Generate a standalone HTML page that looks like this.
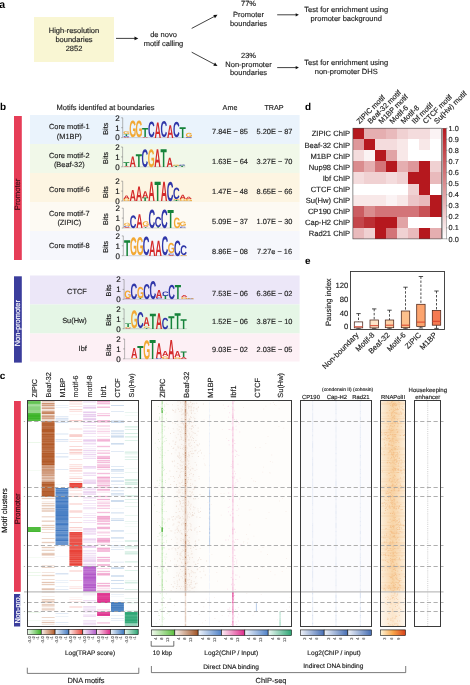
<!DOCTYPE html>
<html><head><meta charset="utf-8"><title>Figure</title>
<style>html,body{margin:0;padding:0;background:#fff;}body{width:470px;height:685px;overflow:hidden;}
svg{display:block;font-family:'Liberation Sans', Arial, sans-serif;text-rendering:geometricPrecision;}</style></head>
<body><svg width="470" height="685" viewBox="0 0 470 685">
<text x="0" y="0" font-size="100" font-weight="bold" fill="#000" transform="translate(-0.8 7.9) scale(0.1050)">a</text>
<rect x="34.00" y="17.00" width="80.00" height="45.00" fill="#f9f6d3"/>
<text x="74.00" y="32.50" font-size="7.5" text-anchor="middle" fill="#222" stroke="#222" stroke-width="0.15">High-resolution</text>
<text x="74.00" y="41.50" font-size="7.5" text-anchor="middle" fill="#222" stroke="#222" stroke-width="0.15">boundaries</text>
<text x="74.00" y="50.50" font-size="7.5" text-anchor="middle" fill="#222" stroke="#222" stroke-width="0.15">2852</text>
<line x1="116.00" y1="38.40" x2="135.00" y2="38.40" stroke="#111" stroke-width="0.8"/>
<polygon points="138.30,38.40 134.50,40.20 134.50,36.60" fill="#111"/>
<text x="163.50" y="36.50" font-size="7.5" text-anchor="middle" fill="#222" stroke="#222" stroke-width="0.15">de novo</text>
<text x="163.50" y="45.50" font-size="7.5" text-anchor="middle" fill="#222" stroke="#222" stroke-width="0.15">motif calling</text>
<line x1="191.70" y1="28.40" x2="214.58" y2="16.34" stroke="#111" stroke-width="0.8"/>
<polygon points="217.50,14.80 214.98,18.16 213.30,14.98" fill="#111"/>
<line x1="191.70" y1="52.20" x2="214.59" y2="64.35" stroke="#111" stroke-width="0.8"/>
<polygon points="217.50,65.90 213.30,65.71 214.99,62.53" fill="#111"/>
<text x="248.50" y="5.80" font-size="7.5" text-anchor="middle" fill="#222" stroke="#222" stroke-width="0.15">77%</text>
<text x="248.50" y="17.30" font-size="7.5" text-anchor="middle" fill="#222" stroke="#222" stroke-width="0.15">Promoter</text>
<text x="248.50" y="26.10" font-size="7.5" text-anchor="middle" fill="#222" stroke="#222" stroke-width="0.15">boundaries</text>
<text x="248.50" y="57.80" font-size="7.5" text-anchor="middle" fill="#222" stroke="#222" stroke-width="0.15">23%</text>
<text x="248.50" y="66.80" font-size="7.5" text-anchor="middle" fill="#222" stroke="#222" stroke-width="0.15">Non-promoter</text>
<text x="248.50" y="75.30" font-size="7.5" text-anchor="middle" fill="#222" stroke="#222" stroke-width="0.15">boundaries</text>
<line x1="277.20" y1="14.80" x2="296.20" y2="14.80" stroke="#111" stroke-width="0.8"/>
<polygon points="298.90,14.80 295.70,16.40 295.70,13.20" fill="#111"/>
<line x1="277.20" y1="67.60" x2="296.20" y2="67.60" stroke="#111" stroke-width="0.8"/>
<polygon points="298.90,67.60 295.70,69.20 295.70,66.00" fill="#111"/>
<text x="346.20" y="12.00" font-size="7.5" text-anchor="middle" fill="#222" stroke="#222" stroke-width="0.15">Test for enrichment using</text>
<text x="346.20" y="20.70" font-size="7.5" text-anchor="middle" fill="#222" stroke="#222" stroke-width="0.15">promoter background</text>
<text x="346.20" y="64.60" font-size="7.5" text-anchor="middle" fill="#222" stroke="#222" stroke-width="0.15">Test for enrichment using</text>
<text x="346.20" y="73.70" font-size="7.5" text-anchor="middle" fill="#222" stroke="#222" stroke-width="0.15">non-promoter DHS</text>
<text x="0" y="0" font-size="100" font-weight="bold" fill="#000" transform="translate(0 110.2) scale(0.1000)">b</text>
<text x="105.50" y="109.70" font-size="7.5" text-anchor="middle" fill="#222" stroke="#222" stroke-width="0.15">Motifs identifed at boundaries</text>
<text x="230.00" y="109.70" font-size="7.2" text-anchor="middle" fill="#222" stroke="#222" stroke-width="0.15">Ame</text>
<text x="274.00" y="109.70" font-size="7.2" text-anchor="middle" fill="#222" stroke="#222" stroke-width="0.15">TRAP</text>
<rect x="30.00" y="115.00" width="269.60" height="29.00" fill="#eaf3fc"/>
<text x="69.30" y="129.40" font-size="7.4" text-anchor="middle" fill="#222" stroke="#222" stroke-width="0.15">Core motif-1</text>
<text x="69.30" y="138.70" font-size="7.4" text-anchor="middle" fill="#222" stroke="#222" stroke-width="0.15">(M1BP)</text>
<text x="230.00" y="134.40" font-size="7.4" text-anchor="middle" fill="#222" stroke="#222" stroke-width="0.15">7.84E − 85</text>
<text x="274.50" y="134.40" font-size="7.4" text-anchor="middle" fill="#222" stroke="#222" stroke-width="0.15">5.20E − 87</text>
<rect x="30.00" y="144.00" width="269.60" height="29.00" fill="#f1f8e9"/>
<text x="69.30" y="158.10" font-size="7.4" text-anchor="middle" fill="#222" stroke="#222" stroke-width="0.15">Core motif-2</text>
<text x="69.30" y="167.20" font-size="7.4" text-anchor="middle" fill="#222" stroke="#222" stroke-width="0.15">(Beaf-32)</text>
<text x="230.00" y="164.00" font-size="7.4" text-anchor="middle" fill="#222" stroke="#222" stroke-width="0.15">1.63E − 64</text>
<text x="274.50" y="164.00" font-size="7.4" text-anchor="middle" fill="#222" stroke="#222" stroke-width="0.15">3.27E − 70</text>
<rect x="30.00" y="173.00" width="269.60" height="29.00" fill="#fdf5e2"/>
<text x="69.30" y="192.10" font-size="7.4" text-anchor="middle" fill="#222" stroke="#222" stroke-width="0.15">Core motif-6</text>
<text x="230.00" y="193.80" font-size="7.4" text-anchor="middle" fill="#222" stroke="#222" stroke-width="0.15">1.47E − 48</text>
<text x="274.50" y="193.80" font-size="7.4" text-anchor="middle" fill="#222" stroke="#222" stroke-width="0.15">8.65E − 66</text>
<rect x="30.00" y="202.00" width="269.60" height="29.00" fill="#fdfaf3"/>
<text x="69.30" y="216.30" font-size="7.4" text-anchor="middle" fill="#222" stroke="#222" stroke-width="0.15">Core motif-7</text>
<text x="69.30" y="225.40" font-size="7.4" text-anchor="middle" fill="#222" stroke="#222" stroke-width="0.15">(ZIPIC)</text>
<text x="230.00" y="223.50" font-size="7.4" text-anchor="middle" fill="#222" stroke="#222" stroke-width="0.15">5.09E − 37</text>
<text x="274.50" y="223.50" font-size="7.4" text-anchor="middle" fill="#222" stroke="#222" stroke-width="0.15">1.07E − 30</text>
<rect x="30.00" y="231.00" width="269.60" height="29.00" fill="#f6f7fc"/>
<text x="69.30" y="247.80" font-size="7.4" text-anchor="middle" fill="#222" stroke="#222" stroke-width="0.15">Core motif-8</text>
<text x="230.00" y="253.50" font-size="7.4" text-anchor="middle" fill="#222" stroke="#222" stroke-width="0.15">8.86E − 08</text>
<text x="274.50" y="253.50" font-size="7.4" text-anchor="middle" fill="#222" stroke="#222" stroke-width="0.15">7.27e − 16</text>
<rect x="30.00" y="275.50" width="269.60" height="28.90" fill="#ece7f8"/>
<text x="86.80" y="294.20" font-size="7.4" text-anchor="end" fill="#222" stroke="#222" stroke-width="0.15">CTCF</text>
<text x="230.00" y="295.80" font-size="7.4" text-anchor="middle" fill="#222" stroke="#222" stroke-width="0.15">7.53E − 06</text>
<text x="274.50" y="295.80" font-size="7.4" text-anchor="middle" fill="#222" stroke="#222" stroke-width="0.15">6.36E − 02</text>
<rect x="30.00" y="304.40" width="269.60" height="29.10" fill="#e5f6e6"/>
<text x="86.80" y="322.90" font-size="7.4" text-anchor="end" fill="#222" stroke="#222" stroke-width="0.15">Su(Hw)</text>
<text x="230.00" y="323.90" font-size="7.4" text-anchor="middle" fill="#222" stroke="#222" stroke-width="0.15">1.52E − 06</text>
<text x="274.50" y="323.90" font-size="7.4" text-anchor="middle" fill="#222" stroke="#222" stroke-width="0.15">3.87E − 10</text>
<rect x="30.00" y="333.50" width="269.60" height="28.00" fill="#fdf0f5"/>
<text x="86.80" y="350.60" font-size="7.4" text-anchor="end" fill="#222" stroke="#222" stroke-width="0.15">Ibf</text>
<text x="230.00" y="351.90" font-size="7.4" text-anchor="middle" fill="#222" stroke="#222" stroke-width="0.15">9.03E − 02</text>
<text x="274.50" y="351.90" font-size="7.4" text-anchor="middle" fill="#222" stroke="#222" stroke-width="0.15">2.03E − 05</text>
<rect x="14.00" y="116.00" width="7.80" height="144.00" fill="#e63d57"/>
<text x="20.30" y="194.40" font-size="7.7" text-anchor="middle" fill="#3a0a14" stroke="#3a0a14" stroke-width="0.15" transform="rotate(-90 20.3 194.4)">Promoter</text>
<rect x="14.00" y="276.30" width="7.80" height="86.30" fill="#3b3d9c"/>
<text x="20.30" y="323.20" font-size="7.5" text-anchor="middle" fill="#fff" stroke="#fff" stroke-width="0.15" transform="rotate(-90 20.3 323.2)">Non-promoter</text>
<line x1="122.70" y1="117.80" x2="122.70" y2="137.60" stroke="#888" stroke-width="0.6"/>
<line x1="121.20" y1="137.60" x2="122.70" y2="137.60" stroke="#666" stroke-width="0.5"/>
<text x="117.60" y="140.45" font-size="8.0" text-anchor="middle" fill="#111" stroke="#111" stroke-width="0.15">0</text>
<line x1="121.20" y1="127.70" x2="122.70" y2="127.70" stroke="#666" stroke-width="0.5"/>
<text x="117.60" y="130.55" font-size="8.0" text-anchor="middle" fill="#111" stroke="#111" stroke-width="0.15">1</text>
<line x1="121.20" y1="117.80" x2="122.70" y2="117.80" stroke="#666" stroke-width="0.5"/>
<text x="117.60" y="120.65" font-size="8.0" text-anchor="middle" fill="#111" stroke="#111" stroke-width="0.15">2</text>
<line x1="122.70" y1="137.60" x2="192.00" y2="137.60" stroke="#999" stroke-width="0.4"/>
<text x="108.30" y="128.70" font-size="7.2" text-anchor="middle" fill="#111" stroke="#111" stroke-width="0.15" transform="rotate(-90 108.3 128.7)">Bits</text>
<text x="0" y="0" font-size="10" font-weight="bold" fill="#d42a2a" transform="translate(123.17 137.60) scale(0.9022 0.1163)">A</text>
<text x="0" y="0" font-size="10" font-weight="bold" fill="#2f36a8" transform="translate(123.02 136.79) scale(0.9257 0.1414)">C</text>
<text x="0" y="0" font-size="10" font-weight="bold" fill="#16833a" transform="translate(123.29 135.80) scale(1.0281 0.2616)">T</text>
<text x="0" y="0" font-size="10" font-weight="bold" fill="#f2a833" transform="translate(123.03 133.96) scale(0.8969 0.3960)">G</text>
<text x="0" y="0" font-size="10" font-weight="bold" fill="#f2a833" transform="translate(129.28 137.39) scale(0.8969 2.3479)">G</text>
<text x="0" y="0" font-size="10" font-weight="bold" fill="#f2a833" transform="translate(135.52 137.39) scale(0.8969 2.3479)">G</text>
<text x="0" y="0" font-size="10" font-weight="bold" fill="#d42a2a" transform="translate(141.91 137.60) scale(0.9022 0.1163)">A</text>
<text x="0" y="0" font-size="10" font-weight="bold" fill="#16833a" transform="translate(142.02 136.80) scale(1.0281 1.3081)">T</text>
<text x="0" y="0" font-size="10" font-weight="bold" fill="#2f36a8" transform="translate(148.00 137.40) scale(0.9257 2.2348)">C</text>
<text x="0" y="0" font-size="10" font-weight="bold" fill="#d42a2a" transform="translate(154.40 137.60) scale(0.9022 2.2384)">A</text>
<text x="0" y="0" font-size="10" font-weight="bold" fill="#2f36a8" transform="translate(160.49 137.39) scale(0.9257 2.2914)">C</text>
<text x="0" y="0" font-size="10" font-weight="bold" fill="#d42a2a" transform="translate(166.89 137.60) scale(0.9022 1.8605)">A</text>
<text x="0" y="0" font-size="10" font-weight="bold" fill="#2f36a8" transform="translate(172.98 137.40) scale(0.9257 2.1782)">C</text>
<text x="0" y="0" font-size="10" font-weight="bold" fill="#16833a" transform="translate(179.49 137.60) scale(1.0281 1.5552)">T</text>
<text x="0" y="0" font-size="10" font-weight="bold" fill="#2f36a8" transform="translate(185.47 137.59) scale(0.9257 0.1414)">C</text>
<text x="0" y="0" font-size="10" font-weight="bold" fill="#f2a833" transform="translate(185.48 136.55) scale(0.8969 0.5941)">G</text>
<line x1="122.60" y1="147.00" x2="122.60" y2="166.80" stroke="#888" stroke-width="0.6"/>
<line x1="121.10" y1="166.80" x2="122.60" y2="166.80" stroke="#666" stroke-width="0.5"/>
<text x="117.60" y="169.65" font-size="8.0" text-anchor="middle" fill="#111" stroke="#111" stroke-width="0.15">0</text>
<line x1="121.10" y1="156.90" x2="122.60" y2="156.90" stroke="#666" stroke-width="0.5"/>
<text x="117.60" y="159.75" font-size="8.0" text-anchor="middle" fill="#111" stroke="#111" stroke-width="0.15">1</text>
<line x1="121.10" y1="147.00" x2="122.60" y2="147.00" stroke="#666" stroke-width="0.5"/>
<text x="117.60" y="149.85" font-size="8.0" text-anchor="middle" fill="#111" stroke="#111" stroke-width="0.15">2</text>
<line x1="122.60" y1="166.80" x2="185.30" y2="166.80" stroke="#999" stroke-width="0.4"/>
<text x="108.30" y="157.90" font-size="7.2" text-anchor="middle" fill="#111" stroke="#111" stroke-width="0.15" transform="rotate(-90 108.3 157.9)">Bits</text>
<text x="0" y="0" font-size="10" font-weight="bold" fill="#d42a2a" transform="translate(123.18 166.80) scale(0.8955 0.0727)">A</text>
<text x="0" y="0" font-size="10" font-weight="bold" fill="#16833a" transform="translate(123.29 166.30) scale(1.0204 0.5378)">T</text>
<text x="0" y="0" font-size="10" font-weight="bold" fill="#d42a2a" transform="translate(129.38 166.80) scale(0.8955 1.5262)">A</text>
<text x="0" y="0" font-size="10" font-weight="bold" fill="#16833a" transform="translate(135.69 166.80) scale(1.0204 1.8605)">T</text>
<text x="0" y="0" font-size="10" font-weight="bold" fill="#2f36a8" transform="translate(141.62 166.57) scale(0.9188 2.5601)">C</text>
<text x="0" y="0" font-size="10" font-weight="bold" fill="#f2a833" transform="translate(147.84 166.57) scale(0.8902 2.5601)">G</text>
<text x="0" y="0" font-size="10" font-weight="bold" fill="#d42a2a" transform="translate(154.18 166.80) scale(0.8955 2.5727)">A</text>
<text x="0" y="0" font-size="10" font-weight="bold" fill="#16833a" transform="translate(160.49 166.80) scale(1.0204 2.5727)">T</text>
<text x="0" y="0" font-size="10" font-weight="bold" fill="#d42a2a" transform="translate(166.58 166.80) scale(0.8955 1.3372)">A</text>
<text x="0" y="0" font-size="10" font-weight="bold" fill="#16833a" transform="translate(172.89 166.80) scale(1.0204 0.1744)">T</text>
<text x="0" y="0" font-size="10" font-weight="bold" fill="#f2a833" transform="translate(172.64 165.58) scale(0.8902 0.2263)">G</text>
<text x="0" y="0" font-size="10" font-weight="bold" fill="#16833a" transform="translate(179.09 166.80) scale(1.0204 0.1744)">T</text>
<text x="0" y="0" font-size="10" font-weight="bold" fill="#2f36a8" transform="translate(178.82 165.58) scale(0.9188 0.2263)">C</text>
<line x1="122.70" y1="181.20" x2="122.70" y2="201.00" stroke="#888" stroke-width="0.6"/>
<line x1="121.20" y1="201.00" x2="122.70" y2="201.00" stroke="#666" stroke-width="0.5"/>
<text x="117.60" y="203.85" font-size="8.0" text-anchor="middle" fill="#111" stroke="#111" stroke-width="0.15">0</text>
<line x1="121.20" y1="191.10" x2="122.70" y2="191.10" stroke="#666" stroke-width="0.5"/>
<text x="117.60" y="193.95" font-size="8.0" text-anchor="middle" fill="#111" stroke="#111" stroke-width="0.15">1</text>
<line x1="121.20" y1="181.20" x2="122.70" y2="181.20" stroke="#666" stroke-width="0.5"/>
<text x="117.60" y="184.05" font-size="8.0" text-anchor="middle" fill="#111" stroke="#111" stroke-width="0.15">2</text>
<line x1="122.70" y1="201.00" x2="192.00" y2="201.00" stroke="#999" stroke-width="0.4"/>
<text x="108.30" y="192.10" font-size="7.2" text-anchor="middle" fill="#111" stroke="#111" stroke-width="0.15" transform="rotate(-90 108.3 192.1)">Bits</text>
<text x="0" y="0" font-size="10" font-weight="bold" fill="#f2a833" transform="translate(123.03 200.97) scale(0.8969 0.3536)">G</text>
<text x="0" y="0" font-size="10" font-weight="bold" fill="#d42a2a" transform="translate(123.17 198.50) scale(0.9022 0.5087)">A</text>
<text x="0" y="0" font-size="10" font-weight="bold" fill="#d42a2a" transform="translate(129.42 201.00) scale(0.9022 1.6134)">A</text>
<text x="0" y="0" font-size="10" font-weight="bold" fill="#d42a2a" transform="translate(135.66 201.00) scale(0.9022 2.1076)">A</text>
<text x="0" y="0" font-size="10" font-weight="bold" fill="#16833a" transform="translate(142.02 201.00) scale(1.0281 0.4942)">T</text>
<text x="0" y="0" font-size="10" font-weight="bold" fill="#d42a2a" transform="translate(141.91 197.60) scale(0.9022 0.9884)">A</text>
<text x="0" y="0" font-size="10" font-weight="bold" fill="#d42a2a" transform="translate(148.15 201.00) scale(0.9022 2.7907)">A</text>
<text x="0" y="0" font-size="10" font-weight="bold" fill="#16833a" transform="translate(154.51 201.00) scale(1.0281 2.7907)">T</text>
<text x="0" y="0" font-size="10" font-weight="bold" fill="#d42a2a" transform="translate(160.64 201.00) scale(0.9022 2.7907)">A</text>
<text x="0" y="0" font-size="10" font-weight="bold" fill="#2f36a8" transform="translate(166.74 200.75) scale(0.9257 2.7723)">C</text>
<text x="0" y="0" font-size="10" font-weight="bold" fill="#16833a" transform="translate(173.25 201.00) scale(1.0281 0.1453)">T</text>
<text x="0" y="0" font-size="10" font-weight="bold" fill="#f2a833" transform="translate(172.99 199.99) scale(0.8969 0.1414)">G</text>
<text x="0" y="0" font-size="10" font-weight="bold" fill="#2f36a8" transform="translate(172.98 198.85) scale(0.9257 1.6407)">C</text>
<text x="0" y="0" font-size="10" font-weight="bold" fill="#f2a833" transform="translate(179.24 200.97) scale(0.8969 0.3536)">G</text>
<text x="0" y="0" font-size="10" font-weight="bold" fill="#d42a2a" transform="translate(179.38 198.50) scale(0.9022 0.6250)">A</text>
<text x="0" y="0" font-size="10" font-weight="bold" fill="#f2a833" transform="translate(185.48 200.97) scale(0.8969 0.3112)">G</text>
<text x="0" y="0" font-size="10" font-weight="bold" fill="#d42a2a" transform="translate(185.62 198.80) scale(0.9022 0.3198)">A</text>
<line x1="123.30" y1="208.20" x2="123.30" y2="228.00" stroke="#888" stroke-width="0.6"/>
<line x1="121.80" y1="228.00" x2="123.30" y2="228.00" stroke="#666" stroke-width="0.5"/>
<text x="117.80" y="230.85" font-size="8.0" text-anchor="middle" fill="#111" stroke="#111" stroke-width="0.15">0</text>
<line x1="121.80" y1="218.10" x2="123.30" y2="218.10" stroke="#666" stroke-width="0.5"/>
<text x="117.80" y="220.95" font-size="8.0" text-anchor="middle" fill="#111" stroke="#111" stroke-width="0.15">1</text>
<line x1="121.80" y1="208.20" x2="123.30" y2="208.20" stroke="#666" stroke-width="0.5"/>
<text x="117.80" y="211.05" font-size="8.0" text-anchor="middle" fill="#111" stroke="#111" stroke-width="0.15">2</text>
<line x1="123.30" y1="228.00" x2="186.10" y2="228.00" stroke="#999" stroke-width="0.4"/>
<text x="108.30" y="219.10" font-size="7.2" text-anchor="middle" fill="#111" stroke="#111" stroke-width="0.15" transform="rotate(-90 108.3 219.1)">Bits</text>
<text x="0" y="0" font-size="10" font-weight="bold" fill="#d42a2a" transform="translate(123.78 228.00) scale(0.8985 0.1453)">A</text>
<text x="0" y="0" font-size="10" font-weight="bold" fill="#2f36a8" transform="translate(123.62 226.99) scale(0.9219 0.1132)">C</text>
<text x="0" y="0" font-size="10" font-weight="bold" fill="#f2a833" transform="translate(123.63 226.16) scale(0.8932 0.4668)">G</text>
<text x="0" y="0" font-size="10" font-weight="bold" fill="#2f36a8" transform="translate(129.84 227.84) scale(0.9219 1.8105)">C</text>
<text x="0" y="0" font-size="10" font-weight="bold" fill="#d42a2a" transform="translate(136.22 228.00) scale(0.8985 2.0058)">A</text>
<text x="0" y="0" font-size="10" font-weight="bold" fill="#16833a" transform="translate(142.55 228.00) scale(1.0238 0.1163)">T</text>
<text x="0" y="0" font-size="10" font-weight="bold" fill="#d42a2a" transform="translate(142.44 227.20) scale(0.8985 0.1163)">A</text>
<text x="0" y="0" font-size="10" font-weight="bold" fill="#f2a833" transform="translate(142.29 226.34) scale(0.8932 0.6789)">G</text>
<text x="0" y="0" font-size="10" font-weight="bold" fill="#2f36a8" transform="translate(148.50 227.76) scale(0.9219 2.6450)">C</text>
<text x="0" y="0" font-size="10" font-weight="bold" fill="#16833a" transform="translate(154.99 228.00) scale(1.0238 0.1163)">T</text>
<text x="0" y="0" font-size="10" font-weight="bold" fill="#2f36a8" transform="translate(154.72 227.07) scale(0.9219 1.4569)">C</text>
<text x="0" y="0" font-size="10" font-weight="bold" fill="#2f36a8" transform="translate(160.94 227.76) scale(0.9219 2.6450)">C</text>
<text x="0" y="0" font-size="10" font-weight="bold" fill="#16833a" transform="translate(167.43 228.00) scale(1.0238 2.6017)">T</text>
<text x="0" y="0" font-size="10" font-weight="bold" fill="#f2a833" transform="translate(173.39 227.86) scale(0.8932 1.5134)">G</text>
<text x="0" y="0" font-size="10" font-weight="bold" fill="#2f36a8" transform="translate(179.60 227.98) scale(0.9219 0.2122)">C</text>
<text x="0" y="0" font-size="10" font-weight="bold" fill="#f2a833" transform="translate(179.61 226.44) scale(0.8932 0.6365)">G</text>
<line x1="123.30" y1="235.90" x2="123.30" y2="255.70" stroke="#888" stroke-width="0.6"/>
<line x1="121.80" y1="255.70" x2="123.30" y2="255.70" stroke="#666" stroke-width="0.5"/>
<text x="117.80" y="258.55" font-size="8.0" text-anchor="middle" fill="#111" stroke="#111" stroke-width="0.15">0</text>
<line x1="121.80" y1="245.80" x2="123.30" y2="245.80" stroke="#666" stroke-width="0.5"/>
<text x="117.80" y="248.65" font-size="8.0" text-anchor="middle" fill="#111" stroke="#111" stroke-width="0.15">1</text>
<line x1="121.80" y1="235.90" x2="123.30" y2="235.90" stroke="#666" stroke-width="0.5"/>
<text x="117.80" y="238.75" font-size="8.0" text-anchor="middle" fill="#111" stroke="#111" stroke-width="0.15">2</text>
<line x1="123.30" y1="255.70" x2="186.90" y2="255.70" stroke="#999" stroke-width="0.4"/>
<text x="108.30" y="246.80" font-size="7.2" text-anchor="middle" fill="#111" stroke="#111" stroke-width="0.15" transform="rotate(-90 108.3 246.79999999999998)">Bits</text>
<text x="0" y="0" font-size="10" font-weight="bold" fill="#16833a" transform="translate(124.09 255.70) scale(1.0340 2.2820)">T</text>
<text x="0" y="0" font-size="10" font-weight="bold" fill="#f2a833" transform="translate(130.11 255.47) scale(0.9021 2.5318)">G</text>
<text x="0" y="0" font-size="10" font-weight="bold" fill="#f2a833" transform="translate(136.39 255.47) scale(0.9021 2.5884)">G</text>
<text x="0" y="0" font-size="10" font-weight="bold" fill="#2f36a8" transform="translate(142.66 255.46) scale(0.9311 2.6450)">C</text>
<text x="0" y="0" font-size="10" font-weight="bold" fill="#d42a2a" transform="translate(149.09 255.70) scale(0.9075 2.2238)">A</text>
<text x="0" y="0" font-size="10" font-weight="bold" fill="#d42a2a" transform="translate(155.37 255.70) scale(0.9075 2.2238)">A</text>
<text x="0" y="0" font-size="10" font-weight="bold" fill="#2f36a8" transform="translate(161.50 255.46) scale(0.9311 2.7016)">C</text>
<text x="0" y="0" font-size="10" font-weight="bold" fill="#d42a2a" transform="translate(167.93 255.70) scale(0.9075 0.1453)">A</text>
<text x="0" y="0" font-size="10" font-weight="bold" fill="#2f36a8" transform="translate(167.78 254.68) scale(0.9311 0.2122)">C</text>
<text x="0" y="0" font-size="10" font-weight="bold" fill="#f2a833" transform="translate(167.79 253.07) scale(0.9021 1.4569)">G</text>
<text x="0" y="0" font-size="10" font-weight="bold" fill="#2f36a8" transform="translate(174.06 255.50) scale(0.9311 2.2207)">C</text>
<text x="0" y="0" font-size="10" font-weight="bold" fill="#f2a833" transform="translate(180.35 255.69) scale(0.9021 0.1132)">G</text>
<text x="0" y="0" font-size="10" font-weight="bold" fill="#2f36a8" transform="translate(180.34 254.78) scale(0.9311 1.3861)">C</text>
<line x1="124.10" y1="279.50" x2="124.10" y2="299.30" stroke="#888" stroke-width="0.6"/>
<line x1="122.60" y1="299.30" x2="124.10" y2="299.30" stroke="#666" stroke-width="0.5"/>
<text x="118.40" y="302.15" font-size="8.0" text-anchor="middle" fill="#111" stroke="#111" stroke-width="0.15">0</text>
<line x1="122.60" y1="289.40" x2="124.10" y2="289.40" stroke="#666" stroke-width="0.5"/>
<text x="118.40" y="292.25" font-size="8.0" text-anchor="middle" fill="#111" stroke="#111" stroke-width="0.15">1</text>
<line x1="122.60" y1="279.50" x2="124.10" y2="279.50" stroke="#666" stroke-width="0.5"/>
<text x="118.40" y="282.35" font-size="8.0" text-anchor="middle" fill="#111" stroke="#111" stroke-width="0.15">2</text>
<line x1="124.10" y1="299.30" x2="193.68" y2="299.30" stroke="#999" stroke-width="0.4"/>
<text x="111.00" y="290.40" font-size="7.2" text-anchor="middle" fill="#111" stroke="#111" stroke-width="0.15" transform="rotate(-90 111.0 290.4)">Bits</text>
<text x="0" y="0" font-size="10" font-weight="bold" fill="#d42a2a" transform="translate(124.47 299.30) scale(0.9075 0.1453)">A</text>
<text x="0" y="0" font-size="10" font-weight="bold" fill="#f2a833" transform="translate(124.33 298.20) scale(0.9021 1.0608)">G</text>
<text x="0" y="0" font-size="10" font-weight="bold" fill="#2f36a8" transform="translate(130.60 299.10) scale(0.9311 2.2348)">C</text>
<text x="0" y="0" font-size="10" font-weight="bold" fill="#16833a" transform="translate(137.15 299.30) scale(1.0340 0.2180)">T</text>
<text x="0" y="0" font-size="10" font-weight="bold" fill="#f2a833" transform="translate(136.89 297.66) scale(0.9021 1.5983)">G</text>
<text x="0" y="0" font-size="10" font-weight="bold" fill="#2f36a8" transform="translate(143.16 299.11) scale(0.9311 2.1641)">C</text>
<text x="0" y="0" font-size="10" font-weight="bold" fill="#2f36a8" transform="translate(149.44 299.07) scale(0.9311 2.5884)">C</text>
<text x="0" y="0" font-size="10" font-weight="bold" fill="#2f36a8" transform="translate(155.72 299.28) scale(0.9311 0.2122)">C</text>
<text x="0" y="0" font-size="10" font-weight="bold" fill="#d42a2a" transform="translate(155.87 297.80) scale(0.9075 1.1483)">A</text>
<text x="0" y="0" font-size="10" font-weight="bold" fill="#16833a" transform="translate(162.27 299.30) scale(1.0340 0.5087)">T</text>
<text x="0" y="0" font-size="10" font-weight="bold" fill="#2f36a8" transform="translate(162.00 295.74) scale(0.9311 0.6506)">C</text>
<text x="0" y="0" font-size="10" font-weight="bold" fill="#2f36a8" transform="translate(168.28 299.12) scale(0.9311 2.0509)">C</text>
<text x="0" y="0" font-size="10" font-weight="bold" fill="#16833a" transform="translate(174.83 299.30) scale(1.0340 2.0494)">T</text>
<text x="0" y="0" font-size="10" font-weight="bold" fill="#f2a833" transform="translate(180.85 299.27) scale(0.9021 0.2829)">G</text>
<text x="0" y="0" font-size="10" font-weight="bold" fill="#d42a2a" transform="translate(180.99 297.30) scale(0.9075 0.2762)">A</text>
<text x="0" y="0" font-size="10" font-weight="bold" fill="#2f36a8" transform="translate(187.12 299.29) scale(0.9311 0.0990)">C</text>
<text x="0" y="0" font-size="10" font-weight="bold" fill="#f2a833" transform="translate(187.13 298.59) scale(0.9021 0.1132)">G</text>
<line x1="124.10" y1="308.90" x2="124.10" y2="328.70" stroke="#888" stroke-width="0.6"/>
<line x1="122.60" y1="328.70" x2="124.10" y2="328.70" stroke="#666" stroke-width="0.5"/>
<text x="118.40" y="331.55" font-size="8.0" text-anchor="middle" fill="#111" stroke="#111" stroke-width="0.15">0</text>
<line x1="122.60" y1="318.80" x2="124.10" y2="318.80" stroke="#666" stroke-width="0.5"/>
<text x="118.40" y="321.65" font-size="8.0" text-anchor="middle" fill="#111" stroke="#111" stroke-width="0.15">1</text>
<line x1="122.60" y1="308.90" x2="124.10" y2="308.90" stroke="#666" stroke-width="0.5"/>
<text x="118.40" y="311.75" font-size="8.0" text-anchor="middle" fill="#111" stroke="#111" stroke-width="0.15">2</text>
<line x1="124.10" y1="328.70" x2="186.80" y2="328.70" stroke="#999" stroke-width="0.4"/>
<text x="111.00" y="319.80" font-size="7.2" text-anchor="middle" fill="#111" stroke="#111" stroke-width="0.15" transform="rotate(-90 111.0 319.79999999999995)">Bits</text>
<text x="0" y="0" font-size="10" font-weight="bold" fill="#d42a2a" transform="translate(124.78 328.70) scale(0.8940 0.1163)">A</text>
<text x="0" y="0" font-size="10" font-weight="bold" fill="#f2a833" transform="translate(124.64 327.89) scale(0.8887 0.1132)">G</text>
<text x="0" y="0" font-size="10" font-weight="bold" fill="#16833a" transform="translate(124.89 327.10) scale(1.0187 0.5087)">T</text>
<text x="0" y="0" font-size="10" font-weight="bold" fill="#f2a833" transform="translate(130.83 328.47) scale(0.8887 2.5318)">G</text>
<text x="0" y="0" font-size="10" font-weight="bold" fill="#2f36a8" transform="translate(137.00 328.49) scale(0.9173 2.2914)">C</text>
<text x="0" y="0" font-size="10" font-weight="bold" fill="#16833a" transform="translate(143.46 328.70) scale(1.0187 0.1163)">T</text>
<text x="0" y="0" font-size="10" font-weight="bold" fill="#f2a833" transform="translate(143.21 327.88) scale(0.8887 0.2122)">G</text>
<text x="0" y="0" font-size="10" font-weight="bold" fill="#d42a2a" transform="translate(143.35 326.40) scale(0.8940 1.2791)">A</text>
<text x="0" y="0" font-size="10" font-weight="bold" fill="#16833a" transform="translate(149.65 328.70) scale(1.0187 2.2238)">T</text>
<text x="0" y="0" font-size="10" font-weight="bold" fill="#d42a2a" transform="translate(155.73 328.70) scale(0.8940 2.2820)">A</text>
<text x="0" y="0" font-size="10" font-weight="bold" fill="#2f36a8" transform="translate(161.76 328.55) scale(0.9173 1.6266)">C</text>
<text x="0" y="0" font-size="10" font-weight="bold" fill="#16833a" transform="translate(168.22 328.70) scale(1.0187 1.8605)">T</text>
<text x="0" y="0" font-size="10" font-weight="bold" fill="#16833a" transform="translate(174.41 328.70) scale(1.0187 2.2820)">T</text>
<text x="0" y="0" font-size="10" font-weight="bold" fill="#16833a" transform="translate(180.60 328.70) scale(1.0187 1.4244)">T</text>
<line x1="124.60" y1="339.00" x2="124.60" y2="358.80" stroke="#888" stroke-width="0.6"/>
<line x1="123.10" y1="358.80" x2="124.60" y2="358.80" stroke="#666" stroke-width="0.5"/>
<text x="118.60" y="361.65" font-size="8.0" text-anchor="middle" fill="#111" stroke="#111" stroke-width="0.15">0</text>
<line x1="123.10" y1="348.90" x2="124.60" y2="348.90" stroke="#666" stroke-width="0.5"/>
<text x="118.60" y="351.75" font-size="8.0" text-anchor="middle" fill="#111" stroke="#111" stroke-width="0.15">1</text>
<line x1="123.10" y1="339.00" x2="124.60" y2="339.00" stroke="#666" stroke-width="0.5"/>
<text x="118.60" y="341.85" font-size="8.0" text-anchor="middle" fill="#111" stroke="#111" stroke-width="0.15">2</text>
<line x1="124.60" y1="358.80" x2="186.80" y2="358.80" stroke="#999" stroke-width="0.4"/>
<text x="111.00" y="349.90" font-size="7.2" text-anchor="middle" fill="#111" stroke="#111" stroke-width="0.15" transform="rotate(-90 111.0 349.9)">Bits</text>
<text x="0" y="0" font-size="10" font-weight="bold" fill="#f2a833" transform="translate(130.74 358.79) scale(0.8902 0.1414)">G</text>
<text x="0" y="0" font-size="10" font-weight="bold" fill="#d42a2a" transform="translate(130.88 357.80) scale(0.8955 1.4390)">A</text>
<text x="0" y="0" font-size="10" font-weight="bold" fill="#16833a" transform="translate(137.19 358.80) scale(1.0204 1.8895)">T</text>
<text x="0" y="0" font-size="10" font-weight="bold" fill="#f2a833" transform="translate(143.14 358.56) scale(0.8902 2.6874)">G</text>
<text x="0" y="0" font-size="10" font-weight="bold" fill="#16833a" transform="translate(149.59 358.80) scale(1.0204 2.7616)">T</text>
<text x="0" y="0" font-size="10" font-weight="bold" fill="#2f36a8" transform="translate(155.52 358.79) scale(0.9188 0.1132)">C</text>
<text x="0" y="0" font-size="10" font-weight="bold" fill="#d42a2a" transform="translate(155.68 358.00) scale(0.8955 2.1512)">A</text>
<text x="0" y="0" font-size="10" font-weight="bold" fill="#f2a833" transform="translate(161.74 358.77) scale(0.8902 0.3536)">G</text>
<text x="0" y="0" font-size="10" font-weight="bold" fill="#d42a2a" transform="translate(161.88 356.30) scale(0.8955 0.7267)">A</text>
<text x="0" y="0" font-size="10" font-weight="bold" fill="#d42a2a" transform="translate(168.08 358.80) scale(0.8955 2.7616)">A</text>
<text x="0" y="0" font-size="10" font-weight="bold" fill="#f2a833" transform="translate(174.14 358.77) scale(0.8902 0.2829)">G</text>
<text x="0" y="0" font-size="10" font-weight="bold" fill="#d42a2a" transform="translate(174.28 356.80) scale(0.8955 0.8576)">A</text>
<text x="0" y="0" font-size="10" font-weight="bold" fill="#d42a2a" transform="translate(180.48 358.80) scale(0.8955 0.2907)">A</text>
<text x="0" y="0" font-size="10" font-weight="bold" fill="#16833a" transform="translate(180.59 356.80) scale(1.0204 0.7994)">T</text>
<text x="0" y="0" font-size="100" font-weight="bold" fill="#000" transform="translate(305 110.3) scale(0.1000)">d</text>
<rect x="352.90" y="128.20" width="11.12" height="11.12" fill="#b5181e" shape-rendering="crispEdges"/>
<rect x="363.97" y="128.20" width="11.12" height="11.12" fill="#e5aeb0" shape-rendering="crispEdges"/>
<rect x="375.04" y="128.20" width="11.12" height="11.12" fill="#e5aeb0" shape-rendering="crispEdges"/>
<rect x="386.11" y="128.20" width="11.12" height="11.12" fill="#e9babc" shape-rendering="crispEdges"/>
<rect x="397.18" y="128.20" width="11.12" height="11.12" fill="#f0d1d2" shape-rendering="crispEdges"/>
<rect x="408.25" y="128.20" width="11.12" height="11.12" fill="#f4dcdd" shape-rendering="crispEdges"/>
<rect x="419.32" y="128.20" width="11.12" height="11.12" fill="#f4dcdd" shape-rendering="crispEdges"/>
<rect x="430.39" y="128.20" width="11.12" height="11.12" fill="#fbf3f4" shape-rendering="crispEdges"/>
<rect x="352.90" y="139.27" width="11.12" height="11.12" fill="#de979a" shape-rendering="crispEdges"/>
<rect x="363.97" y="139.27" width="11.12" height="11.12" fill="#b5181e" shape-rendering="crispEdges"/>
<rect x="375.04" y="139.27" width="11.12" height="11.12" fill="#f4dcdd" shape-rendering="crispEdges"/>
<rect x="386.11" y="139.27" width="11.12" height="11.12" fill="#f4dcdd" shape-rendering="crispEdges"/>
<rect x="397.18" y="139.27" width="11.12" height="11.12" fill="#f8e8e8" shape-rendering="crispEdges"/>
<rect x="408.25" y="139.27" width="11.12" height="11.12" fill="#ffffff" shape-rendering="crispEdges"/>
<rect x="419.32" y="139.27" width="11.12" height="11.12" fill="#f8e8e8" shape-rendering="crispEdges"/>
<rect x="430.39" y="139.27" width="11.12" height="11.12" fill="#ffffff" shape-rendering="crispEdges"/>
<rect x="352.90" y="150.34" width="11.12" height="11.12" fill="#f4dcdd" shape-rendering="crispEdges"/>
<rect x="363.97" y="150.34" width="11.12" height="11.12" fill="#fbf3f4" shape-rendering="crispEdges"/>
<rect x="375.04" y="150.34" width="11.12" height="11.12" fill="#b5181e" shape-rendering="crispEdges"/>
<rect x="386.11" y="150.34" width="11.12" height="11.12" fill="#e1a3a5" shape-rendering="crispEdges"/>
<rect x="397.18" y="150.34" width="11.12" height="11.12" fill="#f8e8e8" shape-rendering="crispEdges"/>
<rect x="408.25" y="150.34" width="11.12" height="11.12" fill="#ffffff" shape-rendering="crispEdges"/>
<rect x="419.32" y="150.34" width="11.12" height="11.12" fill="#ffffff" shape-rendering="crispEdges"/>
<rect x="430.39" y="150.34" width="11.12" height="11.12" fill="#ffffff" shape-rendering="crispEdges"/>
<rect x="352.90" y="161.41" width="11.12" height="11.12" fill="#da8c8e" shape-rendering="crispEdges"/>
<rect x="363.97" y="161.41" width="11.12" height="11.12" fill="#e5aeb0" shape-rendering="crispEdges"/>
<rect x="375.04" y="161.41" width="11.12" height="11.12" fill="#d37478" shape-rendering="crispEdges"/>
<rect x="386.11" y="161.41" width="11.12" height="11.12" fill="#b5181e" shape-rendering="crispEdges"/>
<rect x="397.18" y="161.41" width="11.12" height="11.12" fill="#e5aeb0" shape-rendering="crispEdges"/>
<rect x="408.25" y="161.41" width="11.12" height="11.12" fill="#de979a" shape-rendering="crispEdges"/>
<rect x="419.32" y="161.41" width="11.12" height="11.12" fill="#b5181e" shape-rendering="crispEdges"/>
<rect x="430.39" y="161.41" width="11.12" height="11.12" fill="#f0d1d2" shape-rendering="crispEdges"/>
<rect x="352.90" y="172.48" width="11.12" height="11.12" fill="#f4dcdd" shape-rendering="crispEdges"/>
<rect x="363.97" y="172.48" width="11.12" height="11.12" fill="#f0d1d2" shape-rendering="crispEdges"/>
<rect x="375.04" y="172.48" width="11.12" height="11.12" fill="#f0d1d2" shape-rendering="crispEdges"/>
<rect x="386.11" y="172.48" width="11.12" height="11.12" fill="#f4dcdd" shape-rendering="crispEdges"/>
<rect x="397.18" y="172.48" width="11.12" height="11.12" fill="#f0d1d2" shape-rendering="crispEdges"/>
<rect x="408.25" y="172.48" width="11.12" height="11.12" fill="#b5181e" shape-rendering="crispEdges"/>
<rect x="419.32" y="172.48" width="11.12" height="11.12" fill="#b5181e" shape-rendering="crispEdges"/>
<rect x="430.39" y="172.48" width="11.12" height="11.12" fill="#e9babc" shape-rendering="crispEdges"/>
<rect x="352.90" y="183.55" width="11.12" height="11.12" fill="#ffffff" shape-rendering="crispEdges"/>
<rect x="363.97" y="183.55" width="11.12" height="11.12" fill="#ffffff" shape-rendering="crispEdges"/>
<rect x="375.04" y="183.55" width="11.12" height="11.12" fill="#ffffff" shape-rendering="crispEdges"/>
<rect x="386.11" y="183.55" width="11.12" height="11.12" fill="#ffffff" shape-rendering="crispEdges"/>
<rect x="397.18" y="183.55" width="11.12" height="11.12" fill="#ffffff" shape-rendering="crispEdges"/>
<rect x="408.25" y="183.55" width="11.12" height="11.12" fill="#f0d1d2" shape-rendering="crispEdges"/>
<rect x="419.32" y="183.55" width="11.12" height="11.12" fill="#b5181e" shape-rendering="crispEdges"/>
<rect x="430.39" y="183.55" width="11.12" height="11.12" fill="#ffffff" shape-rendering="crispEdges"/>
<rect x="352.90" y="194.62" width="11.12" height="11.12" fill="#f8e8e8" shape-rendering="crispEdges"/>
<rect x="363.97" y="194.62" width="11.12" height="11.12" fill="#f8e8e8" shape-rendering="crispEdges"/>
<rect x="375.04" y="194.62" width="11.12" height="11.12" fill="#f8e8e8" shape-rendering="crispEdges"/>
<rect x="386.11" y="194.62" width="11.12" height="11.12" fill="#fbf3f4" shape-rendering="crispEdges"/>
<rect x="397.18" y="194.62" width="11.12" height="11.12" fill="#f8e8e8" shape-rendering="crispEdges"/>
<rect x="408.25" y="194.62" width="11.12" height="11.12" fill="#ecc5c7" shape-rendering="crispEdges"/>
<rect x="419.32" y="194.62" width="11.12" height="11.12" fill="#e9babc" shape-rendering="crispEdges"/>
<rect x="430.39" y="194.62" width="11.12" height="11.12" fill="#b5181e" shape-rendering="crispEdges"/>
<rect x="352.90" y="205.69" width="11.12" height="11.12" fill="#cb5d62" shape-rendering="crispEdges"/>
<rect x="363.97" y="205.69" width="11.12" height="11.12" fill="#da8c8e" shape-rendering="crispEdges"/>
<rect x="375.04" y="205.69" width="11.12" height="11.12" fill="#d37478" shape-rendering="crispEdges"/>
<rect x="386.11" y="205.69" width="11.12" height="11.12" fill="#d37478" shape-rendering="crispEdges"/>
<rect x="397.18" y="205.69" width="11.12" height="11.12" fill="#d37478" shape-rendering="crispEdges"/>
<rect x="408.25" y="205.69" width="11.12" height="11.12" fill="#d37478" shape-rendering="crispEdges"/>
<rect x="419.32" y="205.69" width="11.12" height="11.12" fill="#c85256" shape-rendering="crispEdges"/>
<rect x="430.39" y="205.69" width="11.12" height="11.12" fill="#b5181e" shape-rendering="crispEdges"/>
<rect x="352.90" y="216.76" width="11.12" height="11.12" fill="#c4464b" shape-rendering="crispEdges"/>
<rect x="363.97" y="216.76" width="11.12" height="11.12" fill="#bc2f34" shape-rendering="crispEdges"/>
<rect x="375.04" y="216.76" width="11.12" height="11.12" fill="#b5181e" shape-rendering="crispEdges"/>
<rect x="386.11" y="216.76" width="11.12" height="11.12" fill="#b5181e" shape-rendering="crispEdges"/>
<rect x="397.18" y="216.76" width="11.12" height="11.12" fill="#e1a3a5" shape-rendering="crispEdges"/>
<rect x="408.25" y="216.76" width="11.12" height="11.12" fill="#ffffff" shape-rendering="crispEdges"/>
<rect x="419.32" y="216.76" width="11.12" height="11.12" fill="#ffffff" shape-rendering="crispEdges"/>
<rect x="430.39" y="216.76" width="11.12" height="11.12" fill="#ffffff" shape-rendering="crispEdges"/>
<rect x="352.90" y="227.83" width="11.12" height="11.12" fill="#e9babc" shape-rendering="crispEdges"/>
<rect x="363.97" y="227.83" width="11.12" height="11.12" fill="#f0d1d2" shape-rendering="crispEdges"/>
<rect x="375.04" y="227.83" width="11.12" height="11.12" fill="#b5181e" shape-rendering="crispEdges"/>
<rect x="386.11" y="227.83" width="11.12" height="11.12" fill="#d37478" shape-rendering="crispEdges"/>
<rect x="397.18" y="227.83" width="11.12" height="11.12" fill="#f0d1d2" shape-rendering="crispEdges"/>
<rect x="408.25" y="227.83" width="11.12" height="11.12" fill="#e9babc" shape-rendering="crispEdges"/>
<rect x="419.32" y="227.83" width="11.12" height="11.12" fill="#b5181e" shape-rendering="crispEdges"/>
<rect x="430.39" y="227.83" width="11.12" height="11.12" fill="#e5aeb0" shape-rendering="crispEdges"/>
<rect x="352.9" y="128.2" width="88.56" height="110.70" fill="none" stroke="#444" stroke-width="0.6"/>
<text x="350.10" y="136.43" font-size="7.6" text-anchor="end" fill="#222" stroke="#222" stroke-width="0.15">ZIPIC ChIP</text>
<text x="350.10" y="147.50" font-size="7.6" text-anchor="end" fill="#222" stroke="#222" stroke-width="0.15">Beaf-32 ChIP</text>
<text x="350.10" y="158.57" font-size="7.6" text-anchor="end" fill="#222" stroke="#222" stroke-width="0.15">M1BP ChIP</text>
<text x="350.10" y="169.64" font-size="7.6" text-anchor="end" fill="#222" stroke="#222" stroke-width="0.15">Nup98 ChIP</text>
<text x="350.10" y="180.71" font-size="7.6" text-anchor="end" fill="#222" stroke="#222" stroke-width="0.15">Ibf ChIP</text>
<text x="350.10" y="191.78" font-size="7.6" text-anchor="end" fill="#222" stroke="#222" stroke-width="0.15">CTCF ChIP</text>
<text x="350.10" y="202.85" font-size="7.6" text-anchor="end" fill="#222" stroke="#222" stroke-width="0.15">Su(Hw) ChIP</text>
<text x="350.10" y="213.92" font-size="7.6" text-anchor="end" fill="#222" stroke="#222" stroke-width="0.15">CP190 ChIP</text>
<text x="350.10" y="224.99" font-size="7.6" text-anchor="end" fill="#222" stroke="#222" stroke-width="0.15">Cap-H2 ChIP</text>
<text x="350.10" y="236.06" font-size="7.6" text-anchor="end" fill="#222" stroke="#222" stroke-width="0.15">Rad21 ChIP</text>
<text x="359.44" y="124.20" font-size="7.4" text-anchor="start" fill="#222" stroke="#222" stroke-width="0.15" transform="rotate(-45 359.435 124.19999999999999)">ZIPIC motif</text>
<text x="370.50" y="124.20" font-size="7.4" text-anchor="start" fill="#222" stroke="#222" stroke-width="0.15" transform="rotate(-45 370.505 124.19999999999999)">Beaf-32 motif</text>
<text x="381.57" y="124.20" font-size="7.4" text-anchor="start" fill="#222" stroke="#222" stroke-width="0.15" transform="rotate(-45 381.575 124.19999999999999)">M1BP motif</text>
<text x="392.64" y="124.20" font-size="7.4" text-anchor="start" fill="#222" stroke="#222" stroke-width="0.15" transform="rotate(-45 392.645 124.19999999999999)">Motif-6</text>
<text x="403.71" y="124.20" font-size="7.4" text-anchor="start" fill="#222" stroke="#222" stroke-width="0.15" transform="rotate(-45 403.715 124.19999999999999)">Motif-8</text>
<text x="414.79" y="124.20" font-size="7.4" text-anchor="start" fill="#222" stroke="#222" stroke-width="0.15" transform="rotate(-45 414.785 124.19999999999999)">Ibf motif</text>
<text x="425.86" y="124.20" font-size="7.4" text-anchor="start" fill="#222" stroke="#222" stroke-width="0.15" transform="rotate(-45 425.855 124.19999999999999)">CTCF motif</text>
<text x="436.93" y="124.20" font-size="7.4" text-anchor="start" fill="#222" stroke="#222" stroke-width="0.15" transform="rotate(-45 436.925 124.19999999999999)">Su(Hw) motif</text>
<defs><linearGradient id="gd" x1="0" y1="1" x2="0" y2="0"><stop offset="0" stop-color="#ffffff"/><stop offset="1" stop-color="#b5181e"/></linearGradient></defs>
<rect x="442.8" y="128.2" width="3.4" height="110.70" fill="url(#gd)" stroke="#444" stroke-width="0.4"/>
<line x1="446.20" y1="238.90" x2="447.50" y2="238.90" stroke="#444" stroke-width="0.4"/>
<text x="448.60" y="241.50" font-size="7.3" text-anchor="start" fill="#222" stroke="#222" stroke-width="0.15">0.0</text>
<line x1="446.20" y1="227.83" x2="447.50" y2="227.83" stroke="#444" stroke-width="0.4"/>
<text x="448.60" y="230.43" font-size="7.3" text-anchor="start" fill="#222" stroke="#222" stroke-width="0.15">0.1</text>
<line x1="446.20" y1="216.76" x2="447.50" y2="216.76" stroke="#444" stroke-width="0.4"/>
<text x="448.60" y="219.36" font-size="7.3" text-anchor="start" fill="#222" stroke="#222" stroke-width="0.15">0.2</text>
<line x1="446.20" y1="205.69" x2="447.50" y2="205.69" stroke="#444" stroke-width="0.4"/>
<text x="448.60" y="208.29" font-size="7.3" text-anchor="start" fill="#222" stroke="#222" stroke-width="0.15">0.3</text>
<line x1="446.20" y1="194.62" x2="447.50" y2="194.62" stroke="#444" stroke-width="0.4"/>
<text x="448.60" y="197.22" font-size="7.3" text-anchor="start" fill="#222" stroke="#222" stroke-width="0.15">0.4</text>
<line x1="446.20" y1="183.55" x2="447.50" y2="183.55" stroke="#444" stroke-width="0.4"/>
<text x="448.60" y="186.15" font-size="7.3" text-anchor="start" fill="#222" stroke="#222" stroke-width="0.15">0.5</text>
<line x1="446.20" y1="172.48" x2="447.50" y2="172.48" stroke="#444" stroke-width="0.4"/>
<text x="448.60" y="175.08" font-size="7.3" text-anchor="start" fill="#222" stroke="#222" stroke-width="0.15">0.6</text>
<line x1="446.20" y1="161.41" x2="447.50" y2="161.41" stroke="#444" stroke-width="0.4"/>
<text x="448.60" y="164.01" font-size="7.3" text-anchor="start" fill="#222" stroke="#222" stroke-width="0.15">0.7</text>
<line x1="446.20" y1="150.34" x2="447.50" y2="150.34" stroke="#444" stroke-width="0.4"/>
<text x="448.60" y="152.94" font-size="7.3" text-anchor="start" fill="#222" stroke="#222" stroke-width="0.15">0.8</text>
<line x1="446.20" y1="139.27" x2="447.50" y2="139.27" stroke="#444" stroke-width="0.4"/>
<text x="448.60" y="141.87" font-size="7.3" text-anchor="start" fill="#222" stroke="#222" stroke-width="0.15">0.9</text>
<line x1="446.20" y1="128.20" x2="447.50" y2="128.20" stroke="#444" stroke-width="0.4"/>
<text x="448.60" y="130.80" font-size="7.3" text-anchor="start" fill="#222" stroke="#222" stroke-width="0.15">1.0</text>
<text x="0" y="0" font-size="100" font-weight="bold" fill="#000" transform="translate(305 263.8) scale(0.1000)">e</text>
<text x="348.30" y="288.10" font-size="7.7" text-anchor="end" fill="#222" stroke="#222" stroke-width="0.15">120</text>
<text x="348.30" y="301.84" font-size="7.7" text-anchor="end" fill="#222" stroke="#222" stroke-width="0.15">80</text>
<text x="348.30" y="315.57" font-size="7.7" text-anchor="end" fill="#222" stroke="#222" stroke-width="0.15">40</text>
<text x="348.30" y="329.30" font-size="7.7" text-anchor="end" fill="#222" stroke="#222" stroke-width="0.15">0</text>
<text x="331.50" y="302.20" font-size="7.6" text-anchor="middle" fill="#222" stroke="#222" stroke-width="0.15" transform="rotate(-90 331.5 302.2)">Pausing index</text>
<line x1="358.50" y1="313.60" x2="358.50" y2="321.90" stroke="#222" stroke-width="0.8" stroke-dasharray="2.4 1.6"/>
<line x1="356.30" y1="313.60" x2="360.70" y2="313.60" stroke="#222" stroke-width="0.8"/>
<line x1="358.50" y1="327.90" x2="358.50" y2="328.30" stroke="#222" stroke-width="0.8"/>
<line x1="356.30" y1="328.30" x2="360.70" y2="328.30" stroke="#222" stroke-width="0.8"/>
<rect x="354.30" y="321.90" width="8.4" height="6.00" fill="#ffffff" stroke="#4a2418" stroke-width="0.75"/>
<line x1="354.30" y1="326.80" x2="362.70" y2="326.80" stroke="#d8402a" stroke-width="1.0"/>
<line x1="374.20" y1="308.90" x2="374.20" y2="320.00" stroke="#222" stroke-width="0.8" stroke-dasharray="2.4 1.6"/>
<line x1="372.00" y1="308.90" x2="376.40" y2="308.90" stroke="#222" stroke-width="0.8"/>
<line x1="374.20" y1="327.90" x2="374.20" y2="328.30" stroke="#222" stroke-width="0.8"/>
<line x1="372.00" y1="328.30" x2="376.40" y2="328.30" stroke="#222" stroke-width="0.8"/>
<rect x="370.00" y="320.00" width="8.4" height="7.90" fill="#fee4c8" stroke="#4a2418" stroke-width="0.75"/>
<line x1="370.00" y1="325.70" x2="378.40" y2="325.70" stroke="#d8402a" stroke-width="1.0"/>
<line x1="389.50" y1="310.20" x2="389.50" y2="320.00" stroke="#222" stroke-width="0.8" stroke-dasharray="2.4 1.6"/>
<line x1="387.30" y1="310.20" x2="391.70" y2="310.20" stroke="#222" stroke-width="0.8"/>
<line x1="389.50" y1="327.70" x2="389.50" y2="328.30" stroke="#222" stroke-width="0.8"/>
<line x1="387.30" y1="328.30" x2="391.70" y2="328.30" stroke="#222" stroke-width="0.8"/>
<rect x="385.30" y="320.00" width="8.4" height="7.70" fill="#fdd3a8" stroke="#4a2418" stroke-width="0.75"/>
<line x1="385.30" y1="325.20" x2="393.70" y2="325.20" stroke="#d8402a" stroke-width="1.0"/>
<line x1="405.50" y1="287.20" x2="405.50" y2="311.00" stroke="#222" stroke-width="0.8" stroke-dasharray="2.4 1.6"/>
<line x1="403.30" y1="287.20" x2="407.70" y2="287.20" stroke="#222" stroke-width="0.8"/>
<line x1="405.50" y1="327.70" x2="405.50" y2="328.30" stroke="#222" stroke-width="0.8"/>
<line x1="403.30" y1="328.30" x2="407.70" y2="328.30" stroke="#222" stroke-width="0.8"/>
<rect x="401.30" y="311.00" width="8.4" height="16.70" fill="#fdc08c" stroke="#4a2418" stroke-width="0.75"/>
<line x1="401.30" y1="325.20" x2="409.70" y2="325.20" stroke="#d8402a" stroke-width="1.0"/>
<line x1="420.90" y1="276.50" x2="420.90" y2="304.30" stroke="#222" stroke-width="0.8" stroke-dasharray="2.4 1.6"/>
<line x1="418.70" y1="276.50" x2="423.10" y2="276.50" stroke="#222" stroke-width="0.8"/>
<line x1="420.90" y1="326.40" x2="420.90" y2="328.00" stroke="#222" stroke-width="0.8"/>
<line x1="418.70" y1="328.00" x2="423.10" y2="328.00" stroke="#222" stroke-width="0.8"/>
<rect x="416.70" y="304.30" width="8.4" height="22.10" fill="#fca46e" stroke="#4a2418" stroke-width="0.75"/>
<line x1="416.70" y1="322.10" x2="425.10" y2="322.10" stroke="#d8402a" stroke-width="1.0"/>
<line x1="436.50" y1="291.00" x2="436.50" y2="310.40" stroke="#222" stroke-width="0.8" stroke-dasharray="2.4 1.6"/>
<line x1="434.30" y1="291.00" x2="438.70" y2="291.00" stroke="#222" stroke-width="0.8"/>
<line x1="436.50" y1="325.20" x2="436.50" y2="328.40" stroke="#222" stroke-width="0.8"/>
<line x1="434.30" y1="328.40" x2="438.70" y2="328.40" stroke="#222" stroke-width="0.8"/>
<rect x="432.30" y="310.40" width="8.4" height="14.80" fill="#f57a52" stroke="#4a2418" stroke-width="0.75"/>
<line x1="432.30" y1="321.30" x2="440.70" y2="321.30" stroke="#d8402a" stroke-width="1.0"/>
<rect x="350.5" y="271.5" width="94.00" height="58.00" fill="none" stroke="#333" stroke-width="0.9"/>
<text x="359.30" y="335.50" font-size="7.6" text-anchor="end" fill="#222" stroke="#222" stroke-width="0.15" transform="rotate(-45 359.3 335.5)">Non-boundary</text>
<text x="375.00" y="335.50" font-size="7.6" text-anchor="end" fill="#222" stroke="#222" stroke-width="0.15" transform="rotate(-45 375.0 335.5)">Motif-8</text>
<text x="390.30" y="335.50" font-size="7.6" text-anchor="end" fill="#222" stroke="#222" stroke-width="0.15" transform="rotate(-45 390.3 335.5)">Beaf-32</text>
<text x="406.30" y="335.50" font-size="7.6" text-anchor="end" fill="#222" stroke="#222" stroke-width="0.15" transform="rotate(-45 406.3 335.5)">Motif-6</text>
<text x="421.70" y="335.50" font-size="7.6" text-anchor="end" fill="#222" stroke="#222" stroke-width="0.15" transform="rotate(-45 421.7 335.5)">ZIPIC</text>
<text x="437.30" y="335.50" font-size="7.6" text-anchor="end" fill="#222" stroke="#222" stroke-width="0.15" transform="rotate(-45 437.3 335.5)">M1BP</text>
<text x="0" y="0" font-size="100" font-weight="bold" fill="#000" transform="translate(-0.3 379.4) scale(0.1000)">c</text>
<rect x="14.00" y="401.00" width="6.80" height="190.80" fill="#e63d57"/>
<text x="20.10" y="508.80" font-size="7.5" text-anchor="middle" fill="#3a0a14" stroke="#3a0a14" stroke-width="0.15" transform="rotate(-90 20.1 508.8)">Promoter</text>
<rect x="14.00" y="594.00" width="6.20" height="32.50" fill="#3b3d9c"/>
<text x="19.60" y="609.40" font-size="7.3" text-anchor="middle" fill="#fff" stroke="#fff" stroke-width="0.15" transform="rotate(-90 19.6 609.4)">Non-pro.</text>
<text x="6.70" y="510.50" font-size="7.6" text-anchor="middle" fill="#111" stroke="#111" stroke-width="0.15" transform="rotate(-90 6.7 510.5)">Motif clusters</text>
<path d="M27.8 470h12.9v1h-12.9zM27.8 557h12.9v1h-12.9zM27.8 620h12.9v1h-12.9z" fill="#f5fbf4"/>
<path d="M27.8 442h12.9v1h-12.9zM27.8 572h12.9v1h-12.9zM27.8 575h12.9v1h-12.9zM27.8 612h12.9v1h-12.9z" fill="#ecf8ea"/>
<path d="M27.8 405h12.9v1h-12.9z" fill="#a7dd9e"/>
<path d="M27.8 404h12.9v1h-12.9z" fill="#9eda94"/>
<path d="M27.8 406h12.9v1h-12.9zM27.8 410h12.9v3h-12.9z" fill="#94d689"/>
<path d="M27.8 407h12.9v3h-12.9z" fill="#8ad27e"/>
<path d="M27.8 401h12.9v1h-12.9zM27.8 403h12.9v1h-12.9z" fill="#6dc75e"/>
<path d="M27.8 402h12.9v1h-12.9z" fill="#63c353"/>
<path d="M27.8 413h12.9v1h-12.9zM27.8 419h12.9v2h-12.9zM27.8 527h12.9v4h-12.9z" fill="#50bc3e"/>
<path d="M27.8 414h12.9v1h-12.9zM27.8 417h12.9v1h-12.9zM27.8 531h12.9v1h-12.9z" fill="#46b833"/>
<path d="M27.8 415h12.9v2h-12.9zM27.8 418h12.9v1h-12.9z" fill="#3cb428"/>
<path d="M41.7 497h12.9v1h-12.9zM41.7 499h12.9v1h-12.9zM41.7 502h12.9v1h-12.9zM41.7 504h12.9v1h-12.9zM41.7 507h12.9v1h-12.9zM41.7 524h12.9v1h-12.9zM41.7 526h12.9v1h-12.9zM41.7 528h12.9v1h-12.9zM41.7 541h12.9v1h-12.9zM41.7 543h12.9v1h-12.9zM41.7 546h12.9v1h-12.9zM41.7 548h12.9v1h-12.9zM41.7 552h12.9v1h-12.9zM41.7 566h12.9v1h-12.9zM41.7 574h12.9v1h-12.9zM41.7 576h12.9v1h-12.9zM41.7 581h12.9v1h-12.9zM41.7 583h12.9v1h-12.9zM41.7 585h12.9v1h-12.9zM41.7 590h12.9v1h-12.9zM41.7 603h12.9v1h-12.9zM41.7 607h12.9v1h-12.9zM41.7 621h12.9v1h-12.9zM41.7 623h12.9v1h-12.9z" fill="#fbf7f4"/>
<path d="M41.7 501h12.9v1h-12.9zM41.7 517h12.9v1h-12.9zM41.7 549h12.9v1h-12.9zM41.7 557h12.9v1h-12.9zM41.7 596h12.9v1h-12.9z" fill="#f7eeea"/>
<path d="M41.7 409h12.9v1h-12.9zM41.7 506h12.9v1h-12.9zM41.7 509h12.9v1h-12.9zM41.7 520h12.9v1h-12.9zM41.7 565h12.9v1h-12.9zM41.7 572h12.9v1h-12.9zM41.7 600h12.9v1h-12.9zM41.7 606h12.9v1h-12.9zM41.7 610h12.9v1h-12.9zM41.7 620h12.9v1h-12.9zM41.7 624h12.9v1h-12.9z" fill="#f3e6df"/>
<path d="M41.7 402h12.9v1h-12.9zM41.7 414h12.9v1h-12.9zM41.7 420h12.9v1h-12.9zM41.7 516h12.9v1h-12.9zM41.7 529h12.9v1h-12.9zM41.7 532h12.9v1h-12.9zM41.7 555h12.9v1h-12.9zM41.7 579h12.9v1h-12.9zM41.7 591h12.9v2h-12.9zM41.7 602h12.9v1h-12.9zM41.7 608h12.9v1h-12.9z" fill="#f0ded4"/>
<path d="M41.7 406h12.9v1h-12.9zM41.7 410h12.9v1h-12.9zM41.7 419h12.9v1h-12.9zM41.7 503h12.9v1h-12.9zM41.7 510h12.9v2h-12.9zM41.7 521h12.9v1h-12.9zM41.7 538h12.9v1h-12.9zM41.7 550h12.9v1h-12.9zM41.7 567h12.9v1h-12.9zM41.7 588h12.9v1h-12.9zM41.7 605h12.9v1h-12.9zM41.7 609h12.9v1h-12.9zM41.7 617h12.9v1h-12.9z" fill="#ecd6c9"/>
<path d="M41.7 401h12.9v1h-12.9zM41.7 498h12.9v1h-12.9zM41.7 505h12.9v1h-12.9zM41.7 508h12.9v1h-12.9zM41.7 525h12.9v1h-12.9zM41.7 527h12.9v1h-12.9zM41.7 542h12.9v1h-12.9zM41.7 547h12.9v1h-12.9zM41.7 553h12.9v1h-12.9zM41.7 575h12.9v1h-12.9zM41.7 584h12.9v1h-12.9zM41.7 599h12.9v1h-12.9zM41.7 601h12.9v1h-12.9zM41.7 604h12.9v1h-12.9z" fill="#e8cebe"/>
<path d="M41.7 476h12.9v1h-12.9zM41.7 479h12.9v1h-12.9zM41.7 554h12.9v1h-12.9zM41.7 582h12.9v1h-12.9zM41.7 589h12.9v1h-12.9zM41.7 622h12.9v1h-12.9z" fill="#e4c5b4"/>
<path d="M41.7 404h12.9v1h-12.9zM41.7 407h12.9v1h-12.9z" fill="#e0bda9"/>
<path d="M41.7 415h12.9v1h-12.9zM41.7 417h12.9v1h-12.9zM41.7 477h12.9v1h-12.9zM41.7 480h12.9v1h-12.9z" fill="#dcb59e"/>
<path d="M41.7 468h12.9v1h-12.9zM41.7 474h12.9v1h-12.9zM41.7 478h12.9v1h-12.9z" fill="#d8ac94"/>
<path d="M41.7 408h12.9v1h-12.9zM41.7 411h12.9v1h-12.9zM41.7 418h12.9v1h-12.9zM41.7 481h12.9v1h-12.9z" fill="#d5a489"/>
<path d="M41.7 405h12.9v1h-12.9zM41.7 416h12.9v1h-12.9zM41.7 465h12.9v2h-12.9zM41.7 471h12.9v3h-12.9zM41.7 475h12.9v1h-12.9z" fill="#d19c7e"/>
<path d="M41.7 403h12.9v1h-12.9zM41.7 467h12.9v1h-12.9zM41.7 469h12.9v2h-12.9z" fill="#cd9473"/>
<path d="M41.7 412h12.9v1h-12.9z" fill="#c98c68"/>
<path d="M41.7 413h12.9v1h-12.9z" fill="#c5835e"/>
<path d="M41.7 496h12.9v1h-12.9z" fill="#c17b53"/>
<path d="M41.7 421h12.9v2h-12.9zM41.7 426h12.9v1h-12.9zM41.7 432h12.9v2h-12.9zM41.7 442h12.9v1h-12.9zM41.7 450h12.9v1h-12.9zM41.7 452h12.9v1h-12.9zM41.7 483h12.9v1h-12.9zM41.7 486h12.9v1h-12.9z" fill="#be7348"/>
<path d="M41.7 427h12.9v2h-12.9zM41.7 435h12.9v1h-12.9zM41.7 437h12.9v2h-12.9zM41.7 440h12.9v1h-12.9zM41.7 445h12.9v2h-12.9zM41.7 448h12.9v2h-12.9zM41.7 458h12.9v1h-12.9zM41.7 463h12.9v1h-12.9zM41.7 482h12.9v1h-12.9zM41.7 488h12.9v3h-12.9z" fill="#ba6a3e"/>
<path d="M41.7 423h12.9v3h-12.9zM41.7 436h12.9v1h-12.9zM41.7 439h12.9v1h-12.9zM41.7 441h12.9v1h-12.9zM41.7 443h12.9v1h-12.9zM41.7 447h12.9v1h-12.9zM41.7 451h12.9v1h-12.9zM41.7 454h12.9v2h-12.9zM41.7 457h12.9v1h-12.9zM41.7 459h12.9v2h-12.9zM41.7 462h12.9v1h-12.9zM41.7 485h12.9v1h-12.9zM41.7 487h12.9v1h-12.9zM41.7 492h12.9v3h-12.9z" fill="#b66233"/>
<path d="M41.7 429h12.9v3h-12.9zM41.7 434h12.9v1h-12.9zM41.7 444h12.9v1h-12.9zM41.7 453h12.9v1h-12.9zM41.7 456h12.9v1h-12.9zM41.7 461h12.9v1h-12.9zM41.7 464h12.9v1h-12.9zM41.7 484h12.9v1h-12.9zM41.7 491h12.9v1h-12.9zM41.7 495h12.9v1h-12.9z" fill="#b25a28"/>
<path d="M55.5 417h12.9v1h-12.9zM55.5 421h12.9v1h-12.9zM55.5 440h12.9v1h-12.9zM55.5 484h12.9v1h-12.9zM55.5 546h12.9v1h-12.9zM55.5 556h12.9v1h-12.9zM55.5 624h12.9v1h-12.9z" fill="#f6f8fc"/>
<path d="M55.5 405h12.9v1h-12.9zM55.5 407h12.9v1h-12.9zM55.5 433h12.9v2h-12.9zM55.5 457h12.9v1h-12.9zM55.5 574h12.9v1h-12.9zM55.5 580h12.9v1h-12.9zM55.5 582h12.9v1h-12.9zM55.5 586h12.9v1h-12.9zM55.5 616h12.9v1h-12.9z" fill="#ecf2f9"/>
<path d="M55.5 416h12.9v1h-12.9zM55.5 419h12.9v2h-12.9zM55.5 441h12.9v1h-12.9zM55.5 453h12.9v1h-12.9zM55.5 456h12.9v1h-12.9zM55.5 469h12.9v1h-12.9zM55.5 545h12.9v1h-12.9zM55.5 589h12.9v1h-12.9zM55.5 613h12.9v1h-12.9zM55.5 622h12.9v1h-12.9z" fill="#e3ebf6"/>
<path d="M55.5 418h12.9v1h-12.9zM55.5 422h12.9v1h-12.9zM55.5 439h12.9v1h-12.9zM55.5 573h12.9v1h-12.9z" fill="#d9e4f3"/>
<path d="M55.5 489h12.9v1h-12.9zM55.5 531h12.9v1h-12.9zM55.5 537h12.9v1h-12.9zM55.5 541h12.9v1h-12.9z" fill="#719bd1"/>
<path d="M55.5 491h12.9v1h-12.9zM55.5 494h12.9v2h-12.9zM55.5 522h12.9v1h-12.9zM55.5 526h12.9v2h-12.9zM55.5 529h12.9v1h-12.9zM55.5 533h12.9v1h-12.9zM55.5 536h12.9v1h-12.9zM55.5 542h12.9v3h-12.9z" fill="#6895ce"/>
<path d="M55.5 499h12.9v2h-12.9zM55.5 503h12.9v1h-12.9zM55.5 508h12.9v1h-12.9zM55.5 520h12.9v2h-12.9zM55.5 525h12.9v1h-12.9zM55.5 528h12.9v1h-12.9zM55.5 532h12.9v1h-12.9zM55.5 538h12.9v1h-12.9z" fill="#5e8ecb"/>
<path d="M55.5 490h12.9v1h-12.9zM55.5 493h12.9v1h-12.9zM55.5 497h12.9v1h-12.9zM55.5 502h12.9v1h-12.9zM55.5 504h12.9v1h-12.9zM55.5 510h12.9v1h-12.9zM55.5 516h12.9v2h-12.9zM55.5 534h12.9v1h-12.9zM55.5 539h12.9v1h-12.9z" fill="#5587c8"/>
<path d="M55.5 488h12.9v1h-12.9zM55.5 492h12.9v1h-12.9zM55.5 496h12.9v1h-12.9zM55.5 498h12.9v1h-12.9zM55.5 505h12.9v2h-12.9zM55.5 509h12.9v1h-12.9zM55.5 511h12.9v4h-12.9zM55.5 518h12.9v2h-12.9zM55.5 523h12.9v1h-12.9zM55.5 535h12.9v1h-12.9z" fill="#4b81c5"/>
<path d="M55.5 501h12.9v1h-12.9zM55.5 507h12.9v1h-12.9zM55.5 515h12.9v1h-12.9zM55.5 524h12.9v1h-12.9zM55.5 530h12.9v1h-12.9zM55.5 540h12.9v1h-12.9z" fill="#427ac2"/>
<path d="M69.4 402h12.9v1h-12.9zM69.4 410h12.9v1h-12.9zM69.4 414h12.9v1h-12.9zM69.4 421h12.9v2h-12.9zM69.4 451h12.9v1h-12.9zM69.4 465h12.9v1h-12.9zM69.4 467h12.9v1h-12.9zM69.4 469h12.9v1h-12.9zM69.4 477h12.9v1h-12.9zM69.4 489h12.9v1h-12.9zM69.4 495h12.9v1h-12.9zM69.4 528h12.9v1h-12.9zM69.4 587h12.9v1h-12.9zM69.4 597h12.9v1h-12.9z" fill="#fef6f5"/>
<path d="M69.4 403h12.9v2h-12.9zM69.4 428h12.9v2h-12.9zM69.4 439h12.9v1h-12.9zM69.4 454h12.9v1h-12.9zM69.4 473h12.9v1h-12.9zM69.4 476h12.9v1h-12.9zM69.4 482h12.9v1h-12.9zM69.4 493h12.9v2h-12.9zM69.4 529h12.9v1h-12.9zM69.4 586h12.9v1h-12.9zM69.4 599h12.9v1h-12.9zM69.4 601h12.9v1h-12.9z" fill="#fdeceb"/>
<path d="M69.4 406h12.9v1h-12.9zM69.4 411h12.9v1h-12.9zM69.4 441h12.9v1h-12.9zM69.4 453h12.9v1h-12.9zM69.4 459h12.9v1h-12.9zM69.4 464h12.9v1h-12.9zM69.4 466h12.9v1h-12.9zM69.4 471h12.9v1h-12.9zM69.4 490h12.9v1h-12.9zM69.4 503h12.9v2h-12.9zM69.4 510h12.9v1h-12.9zM69.4 512h12.9v1h-12.9zM69.4 530h12.9v1h-12.9zM69.4 570h12.9v2h-12.9zM69.4 580h12.9v1h-12.9zM69.4 588h12.9v1h-12.9zM69.4 606h12.9v2h-12.9z" fill="#fce3e1"/>
<path d="M69.4 401h12.9v1h-12.9zM69.4 434h12.9v1h-12.9zM69.4 446h12.9v1h-12.9zM69.4 450h12.9v1h-12.9zM69.4 470h12.9v1h-12.9zM69.4 488h12.9v1h-12.9zM69.4 511h12.9v1h-12.9zM69.4 517h12.9v1h-12.9zM69.4 522h12.9v1h-12.9z" fill="#fad9d7"/>
<path d="M69.4 409h12.9v1h-12.9zM69.4 420h12.9v1h-12.9zM69.4 435h12.9v2h-12.9zM69.4 449h12.9v1h-12.9zM69.4 452h12.9v1h-12.9zM69.4 468h12.9v1h-12.9zM69.4 478h12.9v1h-12.9zM69.4 481h12.9v1h-12.9zM69.4 496h12.9v1h-12.9zM69.4 527h12.9v1h-12.9z" fill="#f9d0cd"/>
<path d="M69.4 537h12.9v2h-12.9zM69.4 542h12.9v1h-12.9zM69.4 549h12.9v1h-12.9zM69.4 560h12.9v1h-12.9zM69.4 562h12.9v1h-12.9zM69.4 565h12.9v1h-12.9z" fill="#ed6860"/>
<path d="M69.4 535h12.9v1h-12.9zM69.4 545h12.9v2h-12.9zM69.4 548h12.9v1h-12.9zM69.4 556h12.9v1h-12.9z" fill="#eb5e56"/>
<path d="M69.4 485h12.9v1h-12.9zM69.4 533h12.9v1h-12.9zM69.4 536h12.9v1h-12.9zM69.4 539h12.9v3h-12.9zM69.4 544h12.9v1h-12.9zM69.4 547h12.9v1h-12.9zM69.4 554h12.9v1h-12.9zM69.4 558h12.9v1h-12.9zM69.4 563h12.9v1h-12.9z" fill="#ea554c"/>
<path d="M69.4 484h12.9v1h-12.9zM69.4 486h12.9v1h-12.9zM69.4 532h12.9v1h-12.9zM69.4 534h12.9v1h-12.9zM69.4 543h12.9v1h-12.9zM69.4 552h12.9v2h-12.9zM69.4 555h12.9v1h-12.9zM69.4 557h12.9v1h-12.9zM69.4 561h12.9v1h-12.9z" fill="#e94b42"/>
<path d="M69.4 483h12.9v1h-12.9zM69.4 487h12.9v1h-12.9zM69.4 550h12.9v2h-12.9zM69.4 559h12.9v1h-12.9zM69.4 564h12.9v1h-12.9z" fill="#e84238"/>
<path d="M83.2 413h12.9v1h-12.9zM83.2 417h12.9v1h-12.9zM83.2 421h12.9v1h-12.9zM83.2 432h12.9v1h-12.9zM83.2 442h12.9v1h-12.9zM83.2 449h12.9v1h-12.9zM83.2 451h12.9v1h-12.9zM83.2 453h12.9v1h-12.9zM83.2 455h12.9v1h-12.9zM83.2 457h12.9v1h-12.9zM83.2 474h12.9v1h-12.9zM83.2 490h12.9v1h-12.9zM83.2 509h12.9v1h-12.9zM83.2 552h12.9v1h-12.9zM83.2 554h12.9v1h-12.9zM83.2 562h12.9v1h-12.9zM83.2 595h12.9v1h-12.9zM83.2 601h12.9v1h-12.9zM83.2 625h12.9v1h-12.9z" fill="#fbf7fc"/>
<path d="M83.2 402h12.9v1h-12.9zM83.2 406h12.9v1h-12.9zM83.2 420h12.9v1h-12.9zM83.2 427h12.9v2h-12.9zM83.2 430h12.9v1h-12.9zM83.2 436h12.9v1h-12.9zM83.2 444h12.9v1h-12.9zM83.2 446h12.9v1h-12.9zM83.2 448h12.9v1h-12.9zM83.2 479h12.9v1h-12.9zM83.2 487h12.9v2h-12.9zM83.2 498h12.9v1h-12.9zM83.2 505h12.9v1h-12.9zM83.2 513h12.9v1h-12.9zM83.2 532h12.9v1h-12.9zM83.2 541h12.9v1h-12.9zM83.2 551h12.9v1h-12.9zM83.2 556h12.9v1h-12.9zM83.2 563h12.9v1h-12.9zM83.2 593h12.9v2h-12.9zM83.2 608h12.9v1h-12.9zM83.2 612h12.9v1h-12.9zM83.2 614h12.9v1h-12.9zM83.2 621h12.9v2h-12.9z" fill="#f7eefa"/>
<path d="M83.2 401h12.9v1h-12.9zM83.2 405h12.9v1h-12.9zM83.2 411h12.9v1h-12.9zM83.2 452h12.9v1h-12.9zM83.2 456h12.9v1h-12.9zM83.2 468h12.9v1h-12.9zM83.2 472h12.9v1h-12.9zM83.2 493h12.9v1h-12.9zM83.2 497h12.9v1h-12.9zM83.2 500h12.9v1h-12.9zM83.2 503h12.9v1h-12.9zM83.2 507h12.9v2h-12.9zM83.2 515h12.9v1h-12.9zM83.2 517h12.9v1h-12.9zM83.2 520h12.9v1h-12.9zM83.2 522h12.9v1h-12.9zM83.2 530h12.9v1h-12.9zM83.2 534h12.9v1h-12.9zM83.2 538h12.9v1h-12.9zM83.2 540h12.9v1h-12.9zM83.2 542h12.9v1h-12.9zM83.2 545h12.9v1h-12.9zM83.2 550h12.9v1h-12.9zM83.2 555h12.9v1h-12.9zM83.2 558h12.9v1h-12.9zM83.2 565h12.9v1h-12.9zM83.2 607h12.9v1h-12.9zM83.2 609h12.9v3h-12.9zM83.2 615h12.9v1h-12.9zM83.2 620h12.9v1h-12.9zM83.2 624h12.9v1h-12.9z" fill="#f3e6f7"/>
<path d="M83.2 408h12.9v1h-12.9zM83.2 415h12.9v1h-12.9zM83.2 425h12.9v1h-12.9zM83.2 431h12.9v1h-12.9zM83.2 433h12.9v1h-12.9zM83.2 439h12.9v1h-12.9zM83.2 441h12.9v1h-12.9zM83.2 443h12.9v1h-12.9zM83.2 458h12.9v1h-12.9zM83.2 467h12.9v1h-12.9zM83.2 473h12.9v1h-12.9zM83.2 475h12.9v1h-12.9zM83.2 480h12.9v2h-12.9zM83.2 489h12.9v1h-12.9zM83.2 491h12.9v1h-12.9zM83.2 494h12.9v1h-12.9zM83.2 531h12.9v1h-12.9zM83.2 533h12.9v1h-12.9zM83.2 553h12.9v1h-12.9zM83.2 557h12.9v1h-12.9zM83.2 559h12.9v1h-12.9zM83.2 600h12.9v1h-12.9zM83.2 602h12.9v1h-12.9zM83.2 606h12.9v1h-12.9zM83.2 616h12.9v1h-12.9zM83.2 623h12.9v1h-12.9z" fill="#f0def4"/>
<path d="M83.2 418h12.9v1h-12.9zM83.2 422h12.9v1h-12.9zM83.2 450h12.9v1h-12.9zM83.2 454h12.9v1h-12.9zM83.2 466h12.9v1h-12.9zM83.2 482h12.9v2h-12.9zM83.2 492h12.9v1h-12.9zM83.2 528h12.9v2h-12.9zM83.2 539h12.9v1h-12.9zM83.2 547h12.9v1h-12.9zM83.2 560h12.9v2h-12.9zM83.2 564h12.9v1h-12.9z" fill="#ecd5f1"/>
<path d="M83.2 407h12.9v1h-12.9zM83.2 412h12.9v1h-12.9zM83.2 414h12.9v1h-12.9zM83.2 416h12.9v1h-12.9zM83.2 419h12.9v1h-12.9zM83.2 440h12.9v1h-12.9zM83.2 546h12.9v1h-12.9z" fill="#e8cdee"/>
<path d="M83.2 588h12.9v1h-12.9z" fill="#c582d6"/>
<path d="M83.2 569h12.9v1h-12.9zM83.2 571h12.9v1h-12.9zM83.2 583h12.9v1h-12.9zM83.2 589h12.9v1h-12.9z" fill="#c179d3"/>
<path d="M83.2 566h12.9v1h-12.9zM83.2 572h12.9v1h-12.9zM83.2 575h12.9v1h-12.9zM83.2 581h12.9v2h-12.9zM83.2 586h12.9v1h-12.9zM83.2 591h12.9v1h-12.9z" fill="#be71d0"/>
<path d="M83.2 568h12.9v1h-12.9zM83.2 570h12.9v1h-12.9zM83.2 573h12.9v1h-12.9zM83.2 576h12.9v1h-12.9zM83.2 579h12.9v2h-12.9zM83.2 590h12.9v1h-12.9z" fill="#ba69ce"/>
<path d="M83.2 567h12.9v1h-12.9zM83.2 578h12.9v1h-12.9zM83.2 584h12.9v2h-12.9z" fill="#b660cb"/>
<path d="M83.2 574h12.9v1h-12.9zM83.2 577h12.9v1h-12.9zM83.2 587h12.9v1h-12.9z" fill="#b258c8"/>
<path d="M97.1 400h12.9v1h-12.9zM97.1 414h12.9v1h-12.9zM97.1 416h12.9v1h-12.9zM97.1 430h12.9v1h-12.9zM97.1 432h12.9v1h-12.9zM97.1 438h12.9v1h-12.9zM97.1 445h12.9v1h-12.9zM97.1 447h12.9v1h-12.9zM97.1 451h12.9v1h-12.9zM97.1 455h12.9v1h-12.9zM97.1 459h12.9v1h-12.9zM97.1 463h12.9v1h-12.9zM97.1 468h12.9v1h-12.9zM97.1 472h12.9v1h-12.9zM97.1 474h12.9v1h-12.9zM97.1 488h12.9v1h-12.9zM97.1 491h12.9v1h-12.9zM97.1 495h12.9v1h-12.9zM97.1 497h12.9v2h-12.9zM97.1 500h12.9v1h-12.9zM97.1 504h12.9v1h-12.9zM97.1 507h12.9v1h-12.9zM97.1 511h12.9v1h-12.9zM97.1 513h12.9v1h-12.9zM97.1 515h12.9v1h-12.9zM97.1 522h12.9v1h-12.9zM97.1 529h12.9v1h-12.9zM97.1 537h12.9v1h-12.9zM97.1 543h12.9v1h-12.9zM97.1 556h12.9v1h-12.9zM97.1 558h12.9v1h-12.9zM97.1 570h12.9v1h-12.9zM97.1 572h12.9v1h-12.9zM97.1 582h12.9v1h-12.9zM97.1 584h12.9v1h-12.9zM97.1 587h12.9v1h-12.9zM97.1 589h12.9v1h-12.9zM97.1 591h12.9v1h-12.9zM97.1 617h12.9v1h-12.9z" fill="#fdf4f9"/>
<path d="M97.1 404h12.9v1h-12.9zM97.1 428h12.9v2h-12.9zM97.1 433h12.9v1h-12.9zM97.1 492h12.9v1h-12.9zM97.1 501h12.9v1h-12.9zM97.1 526h12.9v1h-12.9zM97.1 531h12.9v1h-12.9zM97.1 533h12.9v1h-12.9zM97.1 610h12.9v1h-12.9z" fill="#fceaf3"/>
<path d="M97.1 406h12.9v1h-12.9zM97.1 425h12.9v2h-12.9zM97.1 436h12.9v1h-12.9zM97.1 452h12.9v1h-12.9zM97.1 461h12.9v1h-12.9zM97.1 476h12.9v1h-12.9zM97.1 484h12.9v1h-12.9zM97.1 486h12.9v1h-12.9zM97.1 502h12.9v1h-12.9zM97.1 506h12.9v1h-12.9zM97.1 535h12.9v1h-12.9zM97.1 544h12.9v1h-12.9zM97.1 547h12.9v1h-12.9zM97.1 588h12.9v1h-12.9zM97.1 592h12.9v1h-12.9zM97.1 609h12.9v1h-12.9zM97.1 623h12.9v1h-12.9z" fill="#fadfed"/>
<path d="M97.1 402h12.9v1h-12.9zM97.1 413h12.9v1h-12.9zM97.1 422h12.9v1h-12.9zM97.1 431h12.9v1h-12.9zM97.1 441h12.9v1h-12.9zM97.1 450h12.9v1h-12.9zM97.1 464h12.9v1h-12.9zM97.1 469h12.9v1h-12.9zM97.1 479h12.9v1h-12.9zM97.1 482h12.9v2h-12.9zM97.1 503h12.9v1h-12.9zM97.1 524h12.9v1h-12.9zM97.1 532h12.9v1h-12.9zM97.1 568h12.9v1h-12.9zM97.1 575h12.9v1h-12.9zM97.1 622h12.9v1h-12.9z" fill="#f8d4e8"/>
<path d="M97.1 453h12.9v1h-12.9zM97.1 465h12.9v2h-12.9zM97.1 478h12.9v1h-12.9zM97.1 487h12.9v1h-12.9zM97.1 490h12.9v1h-12.9zM97.1 505h12.9v1h-12.9zM97.1 508h12.9v1h-12.9zM97.1 520h12.9v1h-12.9zM97.1 542h12.9v1h-12.9zM97.1 560h12.9v2h-12.9zM97.1 586h12.9v1h-12.9zM97.1 590h12.9v1h-12.9zM97.1 611h12.9v1h-12.9z" fill="#f7cae2"/>
<path d="M97.1 403h12.9v1h-12.9zM97.1 407h12.9v1h-12.9zM97.1 415h12.9v1h-12.9zM97.1 420h12.9v2h-12.9zM97.1 439h12.9v1h-12.9zM97.1 446h12.9v1h-12.9zM97.1 456h12.9v2h-12.9zM97.1 460h12.9v1h-12.9zM97.1 462h12.9v1h-12.9zM97.1 473h12.9v1h-12.9zM97.1 480h12.9v2h-12.9zM97.1 512h12.9v1h-12.9zM97.1 519h12.9v1h-12.9zM97.1 521h12.9v1h-12.9zM97.1 523h12.9v1h-12.9zM97.1 549h12.9v3h-12.9zM97.1 559h12.9v1h-12.9zM97.1 564h12.9v2h-12.9zM97.1 571h12.9v1h-12.9z" fill="#f5bfdc"/>
<path d="M97.1 440h12.9v1h-12.9zM97.1 467h12.9v1h-12.9zM97.1 485h12.9v1h-12.9zM97.1 489h12.9v1h-12.9zM97.1 496h12.9v1h-12.9zM97.1 499h12.9v1h-12.9zM97.1 517h12.9v1h-12.9zM97.1 527h12.9v2h-12.9zM97.1 538h12.9v2h-12.9zM97.1 557h12.9v1h-12.9zM97.1 573h12.9v1h-12.9zM97.1 583h12.9v1h-12.9zM97.1 585h12.9v1h-12.9z" fill="#f3b4d6"/>
<path d="M97.1 401h12.9v1h-12.9zM97.1 458h12.9v1h-12.9zM97.1 477h12.9v1h-12.9zM97.1 516h12.9v1h-12.9zM97.1 518h12.9v1h-12.9zM97.1 541h12.9v1h-12.9zM97.1 548h12.9v1h-12.9zM97.1 574h12.9v1h-12.9z" fill="#f2aad0"/>
<path d="M97.1 540h12.9v1h-12.9z" fill="#f09fca"/>
<path d="M97.1 596h12.9v1h-12.9zM97.1 612h12.9v2h-12.9z" fill="#e34a9c"/>
<path d="M97.1 593h12.9v1h-12.9zM97.1 595h12.9v1h-12.9zM97.1 597h12.9v2h-12.9zM97.1 600h12.9v1h-12.9zM97.1 615h12.9v1h-12.9z" fill="#e13f96"/>
<path d="M97.1 594h12.9v1h-12.9zM97.1 599h12.9v1h-12.9zM97.1 601h12.9v2h-12.9zM97.1 614h12.9v1h-12.9z" fill="#e03590"/>
<path d="M111.0 401h12.9v1h-12.9zM111.0 432h12.9v1h-12.9zM111.0 434h12.9v1h-12.9zM111.0 491h12.9v1h-12.9zM111.0 508h12.9v1h-12.9zM111.0 541h12.9v1h-12.9zM111.0 546h12.9v1h-12.9zM111.0 561h12.9v1h-12.9zM111.0 596h12.9v1h-12.9zM111.0 600h12.9v1h-12.9z" fill="#f5f8fc"/>
<path d="M111.0 473h12.9v1h-12.9zM111.0 484h12.9v1h-12.9zM111.0 495h12.9v1h-12.9zM111.0 513h12.9v1h-12.9zM111.0 519h12.9v1h-12.9zM111.0 547h12.9v1h-12.9zM111.0 562h12.9v1h-12.9zM111.0 594h12.9v1h-12.9zM111.0 615h12.9v1h-12.9zM111.0 620h12.9v1h-12.9z" fill="#ebf1f8"/>
<path d="M111.0 411h12.9v1h-12.9zM111.0 420h12.9v1h-12.9zM111.0 430h12.9v2h-12.9zM111.0 435h12.9v1h-12.9zM111.0 437h12.9v1h-12.9zM111.0 444h12.9v1h-12.9zM111.0 451h12.9v1h-12.9zM111.0 466h12.9v1h-12.9zM111.0 470h12.9v2h-12.9zM111.0 480h12.9v1h-12.9zM111.0 490h12.9v1h-12.9zM111.0 494h12.9v1h-12.9zM111.0 512h12.9v1h-12.9zM111.0 518h12.9v1h-12.9zM111.0 531h12.9v1h-12.9zM111.0 538h12.9v1h-12.9zM111.0 549h12.9v1h-12.9zM111.0 618h12.9v1h-12.9z" fill="#e1eaf5"/>
<path d="M111.0 433h12.9v1h-12.9zM111.0 477h12.9v1h-12.9zM111.0 481h12.9v1h-12.9zM111.0 487h12.9v1h-12.9zM111.0 493h12.9v1h-12.9zM111.0 530h12.9v1h-12.9zM111.0 537h12.9v1h-12.9zM111.0 545h12.9v1h-12.9zM111.0 567h12.9v1h-12.9zM111.0 575h12.9v2h-12.9zM111.0 583h12.9v1h-12.9zM111.0 588h12.9v1h-12.9z" fill="#d8e4f2"/>
<path d="M111.0 405h12.9v1h-12.9zM111.0 421h12.9v2h-12.9zM111.0 436h12.9v1h-12.9zM111.0 443h12.9v1h-12.9zM111.0 469h12.9v1h-12.9zM111.0 500h12.9v2h-12.9zM111.0 520h12.9v1h-12.9zM111.0 568h12.9v1h-12.9zM111.0 580h12.9v1h-12.9z" fill="#ceddee"/>
<path d="M111.0 604h12.9v1h-12.9zM111.0 606h12.9v1h-12.9zM111.0 610h12.9v1h-12.9z" fill="#588bc6"/>
<path d="M111.0 602h12.9v1h-12.9zM111.0 608h12.9v2h-12.9zM111.0 611h12.9v1h-12.9z" fill="#4e84c3"/>
<path d="M111.0 603h12.9v1h-12.9zM111.0 605h12.9v1h-12.9zM111.0 607h12.9v1h-12.9z" fill="#447dbf"/>
<path d="M124.8 415h12.9v1h-12.9zM124.8 454h12.9v1h-12.9zM124.8 468h12.9v1h-12.9zM124.8 481h12.9v1h-12.9zM124.8 488h12.9v1h-12.9zM124.8 523h12.9v1h-12.9zM124.8 526h12.9v1h-12.9zM124.8 533h12.9v1h-12.9zM124.8 581h12.9v1h-12.9zM124.8 591h12.9v1h-12.9zM124.8 600h12.9v1h-12.9zM124.8 603h12.9v1h-12.9z" fill="#f4fbf8"/>
<path d="M124.8 412h12.9v1h-12.9zM124.8 427h12.9v1h-12.9zM124.8 437h12.9v1h-12.9zM124.8 451h12.9v1h-12.9zM124.8 453h12.9v1h-12.9zM124.8 456h12.9v2h-12.9zM124.8 472h12.9v1h-12.9zM124.8 502h12.9v1h-12.9zM124.8 506h12.9v1h-12.9zM124.8 515h12.9v1h-12.9zM124.8 521h12.9v1h-12.9zM124.8 547h12.9v2h-12.9zM124.8 554h12.9v1h-12.9zM124.8 562h12.9v1h-12.9zM124.8 580h12.9v1h-12.9zM124.8 583h12.9v1h-12.9zM124.8 598h12.9v1h-12.9zM124.8 602h12.9v1h-12.9zM124.8 610h12.9v2h-12.9z" fill="#eaf6f1"/>
<path d="M124.8 426h12.9v1h-12.9zM124.8 429h12.9v1h-12.9zM124.8 436h12.9v1h-12.9zM124.8 440h12.9v1h-12.9zM124.8 452h12.9v1h-12.9zM124.8 459h12.9v1h-12.9zM124.8 483h12.9v1h-12.9zM124.8 487h12.9v1h-12.9zM124.8 495h12.9v2h-12.9zM124.8 499h12.9v1h-12.9zM124.8 540h12.9v2h-12.9zM124.8 551h12.9v2h-12.9zM124.8 561h12.9v1h-12.9zM124.8 570h12.9v1h-12.9zM124.8 589h12.9v1h-12.9z" fill="#dff2ea"/>
<path d="M124.8 433h12.9v1h-12.9zM124.8 479h12.9v2h-12.9zM124.8 482h12.9v1h-12.9zM124.8 484h12.9v1h-12.9zM124.8 546h12.9v1h-12.9zM124.8 553h12.9v1h-12.9zM124.8 582h12.9v1h-12.9z" fill="#d5ede3"/>
<path d="M124.8 624h12.9v2h-12.9z" fill="#96d2ba"/>
<path d="M124.8 623h12.9v1h-12.9z" fill="#80caac"/>
<path d="M124.8 615h12.9v1h-12.9z" fill="#4cb389"/>
<path d="M124.8 616h12.9v1h-12.9zM124.8 618h12.9v1h-12.9zM124.8 621h12.9v1h-12.9z" fill="#41af82"/>
<path d="M124.8 612h12.9v1h-12.9zM124.8 614h12.9v1h-12.9zM124.8 617h12.9v1h-12.9zM124.8 619h12.9v1h-12.9zM124.8 622h12.9v1h-12.9z" fill="#37aa7b"/>
<path d="M124.8 613h12.9v1h-12.9zM124.8 620h12.9v1h-12.9z" fill="#2ca674"/>
<text x="36.92" y="397.40" font-size="7.2" text-anchor="start" fill="#222" stroke="#222" stroke-width="0.15" transform="rotate(-90 36.925 397.4)">ZIPIC</text>
<text x="50.77" y="397.40" font-size="7.2" text-anchor="start" fill="#222" stroke="#222" stroke-width="0.15" transform="rotate(-90 50.775 397.4)">Beaf-32</text>
<text x="64.62" y="397.40" font-size="7.2" text-anchor="start" fill="#222" stroke="#222" stroke-width="0.15" transform="rotate(-90 64.62499999999999 397.4)">M1BP</text>
<text x="78.47" y="397.40" font-size="7.2" text-anchor="start" fill="#222" stroke="#222" stroke-width="0.15" transform="rotate(-90 78.47499999999998 397.4)">motif-6</text>
<text x="92.32" y="397.40" font-size="7.2" text-anchor="start" fill="#222" stroke="#222" stroke-width="0.15" transform="rotate(-90 92.32499999999999 397.4)">motif-8</text>
<text x="106.17" y="397.40" font-size="7.2" text-anchor="start" fill="#222" stroke="#222" stroke-width="0.15" transform="rotate(-90 106.175 397.4)">Ibf1</text>
<text x="120.02" y="397.40" font-size="7.2" text-anchor="start" fill="#222" stroke="#222" stroke-width="0.15" transform="rotate(-90 120.02499999999999 397.4)">CTCF</text>
<text x="133.88" y="397.40" font-size="7.2" text-anchor="start" fill="#222" stroke="#222" stroke-width="0.15" transform="rotate(-90 133.875 397.4)">Su(Hw)</text>
<text x="165.40" y="397.70" font-size="7.45" text-anchor="start" fill="#222" stroke="#222" stroke-width="0.15" transform="rotate(-90 165.39999999999998 397.7)">ZIPIC</text>
<text x="188.70" y="397.70" font-size="7.45" text-anchor="start" fill="#222" stroke="#222" stroke-width="0.15" transform="rotate(-90 188.7 397.7)">Beaf-32</text>
<text x="212.80" y="397.70" font-size="7.45" text-anchor="start" fill="#222" stroke="#222" stroke-width="0.15" transform="rotate(-90 212.79999999999998 397.7)">M1BP</text>
<text x="236.10" y="397.70" font-size="7.45" text-anchor="start" fill="#222" stroke="#222" stroke-width="0.15" transform="rotate(-90 236.1 397.7)">Ibf1</text>
<text x="259.60" y="397.70" font-size="7.45" text-anchor="start" fill="#222" stroke="#222" stroke-width="0.15" transform="rotate(-90 259.59999999999997 397.7)">CTCF</text>
<text x="283.20" y="397.70" font-size="7.45" text-anchor="start" fill="#222" stroke="#222" stroke-width="0.15" transform="rotate(-90 283.2 397.7)">Su(Hw)</text>
<defs><linearGradient id="bh" x1="0" x2="1"><stop offset="0" stop-color="#a0522d" stop-opacity="0"/><stop offset="0.5" stop-color="#a0522d" stop-opacity="0.06"/><stop offset="1" stop-color="#a0522d" stop-opacity="0"/></linearGradient></defs>
<rect x="172.00" y="400.60" width="27.00" height="192.00" fill="url(#bh)"/>
<rect x="152.00" y="400.60" width="139.00" height="192.00" fill="#fcf9f2" opacity="0.3"/>
<path d="M161.6 400.6h1.2v2.0h-1.2zM161.6 402.6h1.2v2.0h-1.2zM161.6 466.6h1.2v2.0h-1.2zM161.6 470.6h1.2v2.0h-1.2zM161.6 480.6h1.2v2.0h-1.2zM161.6 494.6h1.2v2.0h-1.2zM161.6 508.6h1.2v2.0h-1.2zM161.6 534.6h1.2v2.0h-1.2zM161.6 552.6h1.2v2.0h-1.2zM161.6 560.6h1.2v2.0h-1.2zM161.6 582.6h1.2v2.0h-1.2zM161.6 584.6h1.2v2.0h-1.2z" fill="#acde9e"/>
<path d="M161.6 404.6h1.2v2.0h-1.2zM161.6 410.6h1.2v2.0h-1.2zM161.6 420.6h1.2v2.0h-1.2zM161.6 434.6h1.2v2.0h-1.2zM161.6 438.6h1.2v2.0h-1.2zM161.6 498.6h1.2v2.0h-1.2zM161.6 514.6h1.2v2.0h-1.2zM161.6 526.6h1.2v2.0h-1.2zM161.6 540.6h1.2v2.0h-1.2z" fill="#d6efce"/>
<path d="M161.6 406.6h1.2v2.0h-1.2zM161.6 416.6h1.2v2.0h-1.2zM161.6 424.6h1.2v2.0h-1.2zM161.6 454.6h1.2v2.0h-1.2zM161.6 472.6h1.2v2.0h-1.2zM161.6 474.6h1.2v2.0h-1.2zM161.6 486.6h1.2v2.0h-1.2zM161.6 542.6h1.2v2.0h-1.2zM161.6 546.6h1.2v2.0h-1.2zM161.6 548.6h1.2v2.0h-1.2zM161.6 568.6h1.2v2.0h-1.2zM161.6 578.6h1.2v2.0h-1.2zM161.6 580.6h1.2v2.0h-1.2zM161.6 588.6h1.2v2.0h-1.2zM161.6 590.6h1.2v1.4h-1.2z" fill="#b5e2a7"/>
<path d="M161.6 408.6h1.2v2.0h-1.2zM161.6 426.6h1.2v2.0h-1.2zM161.6 430.6h1.2v2.0h-1.2zM161.6 436.6h1.2v2.0h-1.2zM161.6 444.6h1.2v2.0h-1.2zM161.6 446.6h1.2v2.0h-1.2zM161.6 450.6h1.2v2.0h-1.2zM161.6 452.6h1.2v2.0h-1.2zM161.6 458.6h1.2v2.0h-1.2zM161.6 462.6h1.2v2.0h-1.2zM161.6 464.6h1.2v2.0h-1.2zM161.6 502.6h1.2v2.0h-1.2zM161.6 506.6h1.2v2.0h-1.2zM161.6 512.6h1.2v2.0h-1.2zM161.6 516.6h1.2v2.0h-1.2zM161.6 524.6h1.2v2.0h-1.2zM161.6 528.6h1.2v2.0h-1.2zM161.6 530.6h1.2v2.0h-1.2zM161.6 538.6h1.2v2.0h-1.2zM161.6 556.6h1.2v2.0h-1.2zM161.6 562.6h1.2v2.0h-1.2zM161.6 564.6h1.2v2.0h-1.2zM161.6 572.6h1.2v2.0h-1.2z" fill="#c5e8bb"/>
<path d="M161.6 412.6h1.2v2.0h-1.2zM161.6 414.6h1.2v2.0h-1.2zM161.6 418.6h1.2v2.0h-1.2zM161.6 422.6h1.2v2.0h-1.2zM161.6 432.6h1.2v2.0h-1.2zM161.6 440.6h1.2v2.0h-1.2zM161.6 468.6h1.2v2.0h-1.2zM161.6 476.6h1.2v2.0h-1.2zM161.6 482.6h1.2v2.0h-1.2zM161.6 484.6h1.2v2.0h-1.2zM161.6 488.6h1.2v2.0h-1.2zM161.6 492.6h1.2v2.0h-1.2zM161.6 496.6h1.2v2.0h-1.2zM161.6 518.6h1.2v2.0h-1.2zM161.6 536.6h1.2v2.0h-1.2zM161.6 544.6h1.2v2.0h-1.2zM161.6 550.6h1.2v2.0h-1.2zM161.6 566.6h1.2v2.0h-1.2zM161.6 574.6h1.2v2.0h-1.2zM161.6 576.6h1.2v2.0h-1.2z" fill="#ceecc4"/>
<path d="M161.6 428.6h1.2v2.0h-1.2zM161.6 442.6h1.2v2.0h-1.2zM161.6 448.6h1.2v2.0h-1.2zM161.6 456.6h1.2v2.0h-1.2zM161.6 460.6h1.2v2.0h-1.2zM161.6 478.6h1.2v2.0h-1.2zM161.6 490.6h1.2v2.0h-1.2zM161.6 500.6h1.2v2.0h-1.2zM161.6 504.6h1.2v2.0h-1.2zM161.6 510.6h1.2v2.0h-1.2zM161.6 520.6h1.2v2.0h-1.2zM161.6 522.6h1.2v2.0h-1.2zM161.6 532.6h1.2v2.0h-1.2zM161.6 554.6h1.2v2.0h-1.2zM161.6 558.6h1.2v2.0h-1.2zM161.6 570.6h1.2v2.0h-1.2zM161.6 586.6h1.2v2.0h-1.2z" fill="#bde5b1"/>
<path d="M161.7 592.0h1.0v2.0h-1.0zM161.7 594.0h1.0v2.0h-1.0zM161.7 598.0h1.0v2.0h-1.0zM161.7 608.0h1.0v2.0h-1.0zM161.7 612.0h1.0v2.0h-1.0zM161.7 614.0h1.0v2.0h-1.0zM161.7 620.0h1.0v2.0h-1.0zM161.7 624.0h1.0v2.0h-1.0z" fill="#def2d8"/>
<path d="M161.7 596.0h1.0v2.0h-1.0zM161.7 600.0h1.0v2.0h-1.0zM161.7 602.0h1.0v2.0h-1.0zM161.7 610.0h1.0v2.0h-1.0z" fill="#e6f5e2"/>
<path d="M161.7 604.0h1.0v2.0h-1.0zM161.7 616.0h1.0v2.0h-1.0zM161.7 618.0h1.0v2.0h-1.0z" fill="#d6efce"/>
<path d="M161.7 606.0h1.0v2.0h-1.0zM161.7 622.0h1.0v2.0h-1.0zM161.7 626.0h1.0v0.4h-1.0z" fill="#eef8ec"/>
<rect x="161.40" y="408.00" width="1.60" height="5.00" fill="#76c468"/>
<rect x="161.40" y="527.30" width="1.60" height="4.60" fill="#63bb53"/>
<path d="M184.7 400.6h1.6v2.0h-1.6zM184.7 412.6h1.6v2.0h-1.6zM184.7 432.6h1.6v2.0h-1.6zM184.7 468.6h1.6v2.0h-1.6zM184.7 478.6h1.6v2.0h-1.6zM184.7 482.6h1.6v2.0h-1.6zM184.7 522.6h1.6v2.0h-1.6zM184.7 534.6h1.6v2.0h-1.6zM184.7 548.6h1.6v2.0h-1.6zM184.7 556.6h1.6v2.0h-1.6z" fill="#bc8665"/>
<path d="M184.7 402.6h1.6v2.0h-1.6zM184.7 422.6h1.6v2.0h-1.6zM184.7 428.6h1.6v2.0h-1.6zM184.7 446.6h1.6v2.0h-1.6zM184.7 472.6h1.6v2.0h-1.6zM184.7 474.6h1.6v2.0h-1.6zM184.7 496.6h1.6v2.0h-1.6zM184.7 550.6h1.6v2.0h-1.6z" fill="#c18f70"/>
<path d="M184.7 404.6h1.6v2.0h-1.6zM184.7 440.6h1.6v2.0h-1.6zM184.7 448.6h1.6v2.0h-1.6zM184.7 458.6h1.6v2.0h-1.6zM184.7 460.6h1.6v2.0h-1.6zM184.7 470.6h1.6v2.0h-1.6zM184.7 476.6h1.6v2.0h-1.6zM184.7 486.6h1.6v2.0h-1.6zM184.7 488.6h1.6v2.0h-1.6zM184.7 504.6h1.6v2.0h-1.6zM184.7 510.6h1.6v2.0h-1.6zM184.7 512.6h1.6v2.0h-1.6zM184.7 518.6h1.6v2.0h-1.6zM184.7 530.6h1.6v2.0h-1.6zM184.7 552.6h1.6v2.0h-1.6zM184.7 570.6h1.6v2.0h-1.6zM184.7 576.6h1.6v2.0h-1.6z" fill="#d4b19c"/>
<path d="M184.7 406.6h1.6v2.0h-1.6zM184.7 416.6h1.6v2.0h-1.6zM184.7 444.6h1.6v2.0h-1.6zM184.7 462.6h1.6v2.0h-1.6zM184.7 506.6h1.6v2.0h-1.6zM184.7 536.6h1.6v2.0h-1.6zM184.7 560.6h1.6v2.0h-1.6zM184.7 566.6h1.6v2.0h-1.6zM184.7 588.6h1.6v2.0h-1.6z" fill="#d9baa7"/>
<path d="M184.7 408.6h1.6v2.0h-1.6zM184.7 410.6h1.6v2.0h-1.6zM184.7 418.6h1.6v2.0h-1.6zM184.7 424.6h1.6v2.0h-1.6zM184.7 426.6h1.6v2.0h-1.6zM184.7 450.6h1.6v2.0h-1.6zM184.7 452.6h1.6v2.0h-1.6zM184.7 454.6h1.6v2.0h-1.6zM184.7 464.6h1.6v2.0h-1.6zM184.7 466.6h1.6v2.0h-1.6zM184.7 484.6h1.6v2.0h-1.6zM184.7 502.6h1.6v2.0h-1.6zM184.7 540.6h1.6v2.0h-1.6zM184.7 542.6h1.6v2.0h-1.6zM184.7 562.6h1.6v2.0h-1.6zM184.7 572.6h1.6v2.0h-1.6zM184.7 574.6h1.6v2.0h-1.6zM184.7 578.6h1.6v2.0h-1.6zM184.7 580.6h1.6v2.0h-1.6zM184.7 582.6h1.6v2.0h-1.6z" fill="#c6977b"/>
<path d="M184.7 414.6h1.6v2.0h-1.6zM184.7 430.6h1.6v2.0h-1.6zM184.7 434.6h1.6v2.0h-1.6zM184.7 456.6h1.6v2.0h-1.6zM184.7 480.6h1.6v2.0h-1.6zM184.7 490.6h1.6v2.0h-1.6zM184.7 498.6h1.6v2.0h-1.6zM184.7 508.6h1.6v2.0h-1.6zM184.7 520.6h1.6v2.0h-1.6zM184.7 524.6h1.6v2.0h-1.6zM184.7 544.6h1.6v2.0h-1.6zM184.7 546.6h1.6v2.0h-1.6zM184.7 554.6h1.6v2.0h-1.6zM184.7 558.6h1.6v2.0h-1.6zM184.7 568.6h1.6v2.0h-1.6z" fill="#cba086"/>
<path d="M184.7 420.6h1.6v2.0h-1.6zM184.7 442.6h1.6v2.0h-1.6zM184.7 494.6h1.6v2.0h-1.6zM184.7 514.6h1.6v2.0h-1.6zM184.7 516.6h1.6v2.0h-1.6zM184.7 564.6h1.6v2.0h-1.6z" fill="#dec2b2"/>
<path d="M184.7 436.6h1.6v2.0h-1.6zM184.7 438.6h1.6v2.0h-1.6zM184.7 492.6h1.6v2.0h-1.6zM184.7 500.6h1.6v2.0h-1.6zM184.7 526.6h1.6v2.0h-1.6zM184.7 528.6h1.6v2.0h-1.6zM184.7 532.6h1.6v2.0h-1.6zM184.7 538.6h1.6v2.0h-1.6zM184.7 584.6h1.6v2.0h-1.6zM184.7 586.6h1.6v2.0h-1.6zM184.7 590.6h1.6v1.4h-1.6z" fill="#d0a891"/>
<path d="M184.8 592.0h1.4v2.0h-1.4zM184.8 594.0h1.4v2.0h-1.4z" fill="#dec2b2"/>
<path d="M184.8 596.0h1.4v2.0h-1.4zM184.8 598.0h1.4v2.0h-1.4zM184.8 622.0h1.4v2.0h-1.4z" fill="#f1e5de"/>
<path d="M184.8 600.0h1.4v2.0h-1.4zM184.8 606.0h1.4v2.0h-1.4zM184.8 626.0h1.4v0.4h-1.4z" fill="#ecdcd3"/>
<path d="M184.8 602.0h1.4v2.0h-1.4zM184.8 612.0h1.4v2.0h-1.4zM184.8 616.0h1.4v2.0h-1.4zM184.8 618.0h1.4v2.0h-1.4zM184.8 624.0h1.4v2.0h-1.4z" fill="#e2cbbd"/>
<path d="M184.8 604.0h1.4v2.0h-1.4zM184.8 608.0h1.4v2.0h-1.4zM184.8 610.0h1.4v2.0h-1.4zM184.8 614.0h1.4v2.0h-1.4zM184.8 620.0h1.4v2.0h-1.4z" fill="#e7d4c8"/>
<path d="M209.2 400.6h0.8v2.0h-0.8zM209.2 404.6h0.8v2.0h-0.8zM209.2 406.6h0.8v2.0h-0.8zM209.2 412.6h0.8v2.0h-0.8zM209.2 426.6h0.8v2.0h-0.8zM209.2 430.6h0.8v2.0h-0.8z" fill="#f6f9fc"/>
<path d="M209.2 402.6h0.8v2.0h-0.8zM209.2 408.6h0.8v2.0h-0.8zM209.2 410.6h0.8v2.0h-0.8zM209.2 418.6h0.8v2.0h-0.8zM209.2 420.6h0.8v2.0h-0.8zM209.2 422.6h0.8v2.0h-0.8zM209.2 428.6h0.8v2.0h-0.8zM209.2 434.6h0.8v2.0h-0.8zM209.2 436.6h0.8v2.0h-0.8zM209.2 438.6h0.8v2.0h-0.8zM209.2 442.6h0.8v2.0h-0.8zM209.2 446.6h0.8v2.0h-0.8zM209.2 448.6h0.8v2.0h-0.8zM209.2 450.6h0.8v2.0h-0.8zM209.2 452.6h0.8v2.0h-0.8zM209.2 454.6h0.8v2.0h-0.8zM209.2 456.6h0.8v2.0h-0.8zM209.2 458.6h0.8v2.0h-0.8zM209.2 460.6h0.8v2.0h-0.8zM209.2 462.6h0.8v2.0h-0.8zM209.2 466.6h0.8v2.0h-0.8zM209.2 468.6h0.8v2.0h-0.8zM209.2 472.6h0.8v2.0h-0.8zM209.2 474.6h0.8v2.0h-0.8zM209.2 482.6h0.8v2.0h-0.8zM209.2 484.6h0.8v2.0h-0.8zM209.2 486.6h0.8v1.4h-0.8z" fill="#eef2fa"/>
<path d="M209.2 414.6h0.8v2.0h-0.8zM209.2 416.6h0.8v2.0h-0.8zM209.2 424.6h0.8v2.0h-0.8zM209.2 432.6h0.8v2.0h-0.8zM209.2 440.6h0.8v2.0h-0.8zM209.2 444.6h0.8v2.0h-0.8zM209.2 464.6h0.8v2.0h-0.8zM209.2 470.6h0.8v2.0h-0.8zM209.2 476.6h0.8v2.0h-0.8zM209.2 478.6h0.8v2.0h-0.8zM209.2 480.6h0.8v2.0h-0.8z" fill="#e5ecf7"/>
<path d="M209.2 488.0h0.9v2.0h-0.9zM209.2 502.0h0.9v2.0h-0.9zM209.2 510.0h0.9v2.0h-0.9zM209.2 520.0h0.9v2.0h-0.9zM209.2 524.0h0.9v2.0h-0.9zM209.2 530.0h0.9v2.0h-0.9z" fill="#c2d3ec"/>
<path d="M209.2 490.0h0.9v2.0h-0.9zM209.2 494.0h0.9v2.0h-0.9zM209.2 496.0h0.9v2.0h-0.9zM209.2 500.0h0.9v2.0h-0.9zM209.2 504.0h0.9v2.0h-0.9zM209.2 512.0h0.9v2.0h-0.9zM209.2 518.0h0.9v2.0h-0.9zM209.2 538.0h0.9v2.0h-0.9zM209.2 540.0h0.9v2.0h-0.9z" fill="#b0c7e6"/>
<path d="M209.2 492.0h0.9v2.0h-0.9zM209.2 508.0h0.9v2.0h-0.9zM209.2 528.0h0.9v2.0h-0.9zM209.2 532.0h0.9v2.0h-0.9z" fill="#a8c0e4"/>
<path d="M209.2 498.0h0.9v2.0h-0.9zM209.2 506.0h0.9v2.0h-0.9zM209.2 516.0h0.9v2.0h-0.9zM209.2 522.0h0.9v2.0h-0.9zM209.2 526.0h0.9v2.0h-0.9zM209.2 536.0h0.9v2.0h-0.9zM209.2 542.0h0.9v2.0h-0.9zM209.2 544.0h0.9v1.0h-0.9z" fill="#b9cde9"/>
<path d="M209.2 514.0h0.9v2.0h-0.9zM209.2 534.0h0.9v2.0h-0.9z" fill="#cadaee"/>
<path d="M209.2 545.0h0.8v2.0h-0.8zM209.2 547.0h0.8v2.0h-0.8zM209.2 549.0h0.8v2.0h-0.8zM209.2 551.0h0.8v2.0h-0.8zM209.2 555.0h0.8v2.0h-0.8zM209.2 557.0h0.8v2.0h-0.8zM209.2 559.0h0.8v2.0h-0.8zM209.2 561.0h0.8v2.0h-0.8zM209.2 565.0h0.8v2.0h-0.8zM209.2 569.0h0.8v2.0h-0.8zM209.2 571.0h0.8v2.0h-0.8zM209.2 575.0h0.8v2.0h-0.8zM209.2 577.0h0.8v2.0h-0.8zM209.2 579.0h0.8v2.0h-0.8zM209.2 583.0h0.8v2.0h-0.8zM209.2 585.0h0.8v2.0h-0.8zM209.2 587.0h0.8v2.0h-0.8zM209.2 591.0h0.8v2.0h-0.8zM209.2 593.0h0.8v2.0h-0.8zM209.2 597.0h0.8v2.0h-0.8zM209.2 599.0h0.8v2.0h-0.8zM209.2 601.0h0.8v2.0h-0.8zM209.2 603.0h0.8v2.0h-0.8zM209.2 605.0h0.8v2.0h-0.8zM209.2 607.0h0.8v2.0h-0.8zM209.2 611.0h0.8v2.0h-0.8zM209.2 617.0h0.8v2.0h-0.8zM209.2 619.0h0.8v2.0h-0.8zM209.2 621.0h0.8v2.0h-0.8zM209.2 623.0h0.8v2.0h-0.8z" fill="#eef2fa"/>
<path d="M209.2 553.0h0.8v2.0h-0.8zM209.2 563.0h0.8v2.0h-0.8zM209.2 567.0h0.8v2.0h-0.8zM209.2 573.0h0.8v2.0h-0.8zM209.2 581.0h0.8v2.0h-0.8zM209.2 589.0h0.8v2.0h-0.8zM209.2 595.0h0.8v2.0h-0.8zM209.2 609.0h0.8v2.0h-0.8zM209.2 613.0h0.8v2.0h-0.8zM209.2 615.0h0.8v2.0h-0.8zM209.2 625.0h0.8v1.4h-0.8z" fill="#f6f9fc"/>
<path d="M232.4 400.6h1.0v2.0h-1.0zM232.4 406.6h1.0v2.0h-1.0zM232.4 412.6h1.0v2.0h-1.0zM232.4 432.6h1.0v2.0h-1.0zM232.4 448.6h1.0v2.0h-1.0zM232.4 454.6h1.0v2.0h-1.0zM232.4 456.6h1.0v2.0h-1.0zM232.4 458.6h1.0v2.0h-1.0zM232.4 478.6h1.0v2.0h-1.0zM232.4 480.6h1.0v2.0h-1.0zM232.4 482.6h1.0v2.0h-1.0zM232.4 492.6h1.0v2.0h-1.0zM232.4 504.6h1.0v2.0h-1.0zM232.4 526.6h1.0v2.0h-1.0zM232.4 550.6h1.0v2.0h-1.0zM232.4 552.6h1.0v2.0h-1.0zM232.4 558.6h1.0v2.0h-1.0zM232.4 560.6h1.0v2.0h-1.0zM232.4 570.6h1.0v2.0h-1.0zM232.4 580.6h1.0v2.0h-1.0zM232.4 584.6h1.0v2.0h-1.0z" fill="#f5bfdc"/>
<path d="M232.4 402.6h1.0v2.0h-1.0zM232.4 408.6h1.0v2.0h-1.0zM232.4 434.6h1.0v2.0h-1.0zM232.4 446.6h1.0v2.0h-1.0zM232.4 462.6h1.0v2.0h-1.0zM232.4 464.6h1.0v2.0h-1.0zM232.4 472.6h1.0v2.0h-1.0zM232.4 488.6h1.0v2.0h-1.0zM232.4 512.6h1.0v2.0h-1.0zM232.4 518.6h1.0v2.0h-1.0zM232.4 520.6h1.0v2.0h-1.0zM232.4 530.6h1.0v2.0h-1.0zM232.4 540.6h1.0v2.0h-1.0zM232.4 546.6h1.0v2.0h-1.0zM232.4 548.6h1.0v2.0h-1.0zM232.4 556.6h1.0v2.0h-1.0zM232.4 572.6h1.0v2.0h-1.0zM232.4 582.6h1.0v2.0h-1.0zM232.4 590.6h1.0v1.4h-1.0z" fill="#f3b4d6"/>
<path d="M232.4 404.6h1.0v2.0h-1.0zM232.4 424.6h1.0v2.0h-1.0zM232.4 436.6h1.0v2.0h-1.0zM232.4 510.6h1.0v2.0h-1.0zM232.4 514.6h1.0v2.0h-1.0zM232.4 522.6h1.0v2.0h-1.0zM232.4 524.6h1.0v2.0h-1.0zM232.4 534.6h1.0v2.0h-1.0zM232.4 538.6h1.0v2.0h-1.0zM232.4 568.6h1.0v2.0h-1.0z" fill="#f8d4e8"/>
<path d="M232.4 410.6h1.0v2.0h-1.0zM232.4 418.6h1.0v2.0h-1.0zM232.4 420.6h1.0v2.0h-1.0zM232.4 422.6h1.0v2.0h-1.0zM232.4 430.6h1.0v2.0h-1.0zM232.4 442.6h1.0v2.0h-1.0zM232.4 452.6h1.0v2.0h-1.0zM232.4 468.6h1.0v2.0h-1.0zM232.4 470.6h1.0v2.0h-1.0zM232.4 474.6h1.0v2.0h-1.0zM232.4 490.6h1.0v2.0h-1.0zM232.4 496.6h1.0v2.0h-1.0zM232.4 502.6h1.0v2.0h-1.0zM232.4 506.6h1.0v2.0h-1.0zM232.4 536.6h1.0v2.0h-1.0zM232.4 542.6h1.0v2.0h-1.0zM232.4 544.6h1.0v2.0h-1.0zM232.4 554.6h1.0v2.0h-1.0zM232.4 562.6h1.0v2.0h-1.0zM232.4 564.6h1.0v2.0h-1.0zM232.4 566.6h1.0v2.0h-1.0zM232.4 574.6h1.0v2.0h-1.0zM232.4 576.6h1.0v2.0h-1.0z" fill="#f7cae2"/>
<path d="M232.4 414.6h1.0v2.0h-1.0zM232.4 426.6h1.0v2.0h-1.0zM232.4 428.6h1.0v2.0h-1.0zM232.4 438.6h1.0v2.0h-1.0zM232.4 440.6h1.0v2.0h-1.0zM232.4 444.6h1.0v2.0h-1.0zM232.4 450.6h1.0v2.0h-1.0zM232.4 460.6h1.0v2.0h-1.0zM232.4 484.6h1.0v2.0h-1.0zM232.4 494.6h1.0v2.0h-1.0zM232.4 498.6h1.0v2.0h-1.0zM232.4 500.6h1.0v2.0h-1.0zM232.4 508.6h1.0v2.0h-1.0zM232.4 516.6h1.0v2.0h-1.0zM232.4 532.6h1.0v2.0h-1.0zM232.4 578.6h1.0v2.0h-1.0zM232.4 586.6h1.0v2.0h-1.0zM232.4 588.6h1.0v2.0h-1.0z" fill="#f2aad0"/>
<path d="M232.4 416.6h1.0v2.0h-1.0zM232.4 466.6h1.0v2.0h-1.0zM232.4 476.6h1.0v2.0h-1.0zM232.4 486.6h1.0v2.0h-1.0zM232.4 528.6h1.0v2.0h-1.0z" fill="#f09fca"/>
<path d="M232.1 592.0h1.6v2.0h-1.6zM232.1 594.0h1.6v2.0h-1.6z" fill="#e555a1"/>
<path d="M232.1 596.0h1.6v2.0h-1.6zM232.1 602.0h1.6v1.0h-1.6z" fill="#e65fa7"/>
<path d="M232.1 598.0h1.6v2.0h-1.6zM232.1 600.0h1.6v2.0h-1.6z" fill="#e86aad"/>
<path d="M232.3 603.0h1.2v2.0h-1.2z" fill="#ee94c4"/>
<path d="M232.3 605.0h1.2v2.0h-1.2zM232.3 607.0h1.2v2.0h-1.2zM232.3 623.0h1.2v2.0h-1.2z" fill="#ed8abf"/>
<path d="M232.3 609.0h1.2v2.0h-1.2zM232.3 611.0h1.2v2.0h-1.2zM232.3 621.0h1.2v2.0h-1.2z" fill="#ea75b3"/>
<path d="M232.3 613.0h1.2v2.0h-1.2zM232.3 617.0h1.2v2.0h-1.2zM232.3 625.0h1.2v1.4h-1.2z" fill="#f09fca"/>
<path d="M232.3 615.0h1.2v2.0h-1.2zM232.3 619.0h1.2v2.0h-1.2z" fill="#f3b4d6"/>
<path d="M255.9 602.0h0.9v2.0h-0.9z" fill="#c2d3ec"/>
<path d="M255.9 604.0h0.9v2.0h-0.9zM255.9 606.0h0.9v2.0h-0.9zM255.9 608.0h0.9v2.0h-0.9zM255.9 610.0h0.9v1.6h-0.9z" fill="#b0c7e6"/>
<path d="M279.6 611.6h0.9v2.0h-0.9z" fill="#96d2ba"/>
<path d="M279.6 613.6h0.9v2.0h-0.9zM279.6 617.6h0.9v2.0h-0.9z" fill="#a0d7c0"/>
<path d="M279.6 615.6h0.9v2.0h-0.9z" fill="#abdbc7"/>
<path d="M279.6 619.6h0.9v2.0h-0.9zM279.6 625.6h0.9v0.8h-0.9z" fill="#8bceb3"/>
<path d="M279.6 621.6h0.9v2.0h-0.9zM279.6 623.6h0.9v2.0h-0.9z" fill="#80caac"/>
<path d="M190.2 586.4h.9v.9h-.9zM187.9 504.6h.9v.9h-.9zM179.5 565.6h.9v.9h-.9zM184.9 499.5h.9v.9h-.9zM188.3 590.7h.9v.9h-.9zM185.3 403.2h.9v.9h-.9zM189.6 523.0h.9v.9h-.9zM191.1 421.8h.9v.9h-.9zM170.2 484.0h.9v.9h-.9zM179.2 546.5h.9v.9h-.9zM177.7 433.8h.9v.9h-.9zM180.5 489.4h.9v.9h-.9zM194.0 442.1h.9v.9h-.9zM179.4 486.1h.9v.9h-.9zM179.4 511.2h.9v.9h-.9zM183.8 521.5h.9v.9h-.9zM190.4 526.3h.9v.9h-.9zM186.1 441.6h.9v.9h-.9zM196.1 464.5h.9v.9h-.9zM190.7 583.9h.9v.9h-.9zM182.5 522.5h.9v.9h-.9zM184.3 450.8h.9v.9h-.9zM189.9 545.7h.9v.9h-.9zM175.2 411.6h.9v.9h-.9zM197.7 427.5h.9v.9h-.9zM188.2 439.2h.9v.9h-.9zM189.6 491.2h.9v.9h-.9zM186.3 584.0h.9v.9h-.9zM183.2 559.1h.9v.9h-.9zM190.4 435.9h.9v.9h-.9zM179.1 579.6h.9v.9h-.9zM178.2 409.0h.9v.9h-.9zM179.2 558.2h.9v.9h-.9zM182.8 448.9h.9v.9h-.9zM184.5 495.4h.9v.9h-.9zM181.1 585.9h.9v.9h-.9zM185.9 576.2h.9v.9h-.9zM191.1 529.7h.9v.9h-.9zM189.6 446.0h.9v.9h-.9zM187.3 456.1h.9v.9h-.9zM191.6 588.1h.9v.9h-.9zM176.5 528.8h.9v.9h-.9zM180.7 537.9h.9v.9h-.9zM180.5 495.0h.9v.9h-.9zM193.1 474.1h.9v.9h-.9zM188.4 502.2h.9v.9h-.9zM187.1 588.7h.9v.9h-.9zM186.0 471.7h.9v.9h-.9zM183.6 514.0h.9v.9h-.9zM189.0 575.7h.9v.9h-.9zM189.0 496.2h.9v.9h-.9zM193.0 547.2h.9v.9h-.9zM180.8 436.9h.9v.9h-.9zM183.4 539.3h.9v.9h-.9zM197.8 407.0h.9v.9h-.9zM192.1 436.9h.9v.9h-.9zM172.3 519.2h.9v.9h-.9zM188.2 543.3h.9v.9h-.9zM186.3 410.5h.9v.9h-.9zM174.3 558.6h.9v.9h-.9zM188.0 407.8h.9v.9h-.9zM188.8 406.0h.9v.9h-.9zM190.4 417.2h.9v.9h-.9zM180.7 409.5h.9v.9h-.9zM190.9 576.0h.9v.9h-.9zM177.7 407.8h.9v.9h-.9zM189.9 437.2h.9v.9h-.9zM189.2 422.1h.9v.9h-.9zM188.6 432.8h.9v.9h-.9zM195.0 432.9h.9v.9h-.9zM178.9 429.2h.9v.9h-.9zM184.0 509.3h.9v.9h-.9zM178.6 491.4h.9v.9h-.9zM185.2 408.2h.9v.9h-.9zM182.1 464.9h.9v.9h-.9zM182.5 402.4h.9v.9h-.9zM192.6 475.7h.9v.9h-.9zM179.5 504.3h.9v.9h-.9zM189.0 474.0h.9v.9h-.9zM184.1 536.1h.9v.9h-.9zM177.9 574.4h.9v.9h-.9zM193.4 408.4h.9v.9h-.9zM184.2 544.2h.9v.9h-.9zM191.2 550.7h.9v.9h-.9zM180.5 436.1h.9v.9h-.9zM170.4 475.9h.9v.9h-.9zM192.7 422.2h.9v.9h-.9zM176.0 588.1h.9v.9h-.9zM184.7 469.9h.9v.9h-.9zM171.5 516.5h.9v.9h-.9zM200.0 511.1h.9v.9h-.9zM181.7 570.9h.9v.9h-.9zM198.9 526.1h.9v.9h-.9zM185.4 584.4h.9v.9h-.9zM189.9 508.6h.9v.9h-.9zM191.1 425.8h.9v.9h-.9zM186.0 520.9h.9v.9h-.9zM183.0 454.1h.9v.9h-.9zM181.3 437.2h.9v.9h-.9zM194.1 486.3h.9v.9h-.9zM198.4 450.9h.9v.9h-.9zM169.4 470.6h.9v.9h-.9zM183.9 563.1h.9v.9h-.9zM181.2 438.6h.9v.9h-.9zM179.5 400.8h.9v.9h-.9zM183.3 400.8h.9v.9h-.9zM191.7 453.3h.9v.9h-.9zM185.6 590.3h.9v.9h-.9zM183.8 537.6h.9v.9h-.9zM183.5 445.1h.9v.9h-.9zM174.4 564.6h.9v.9h-.9zM186.8 579.6h.9v.9h-.9zM180.1 476.7h.9v.9h-.9zM188.4 460.5h.9v.9h-.9zM185.1 531.8h.9v.9h-.9zM177.7 429.7h.9v.9h-.9zM189.2 439.5h.9v.9h-.9zM167.6 518.6h.9v.9h-.9zM186.5 479.8h.9v.9h-.9zM187.1 435.7h.9v.9h-.9zM184.4 529.7h.9v.9h-.9zM176.4 585.9h.9v.9h-.9zM188.5 407.4h.9v.9h-.9zM186.6 488.5h.9v.9h-.9zM190.3 505.5h.9v.9h-.9zM176.0 564.5h.9v.9h-.9zM183.1 523.4h.9v.9h-.9zM188.0 405.5h.9v.9h-.9zM185.7 431.5h.9v.9h-.9zM187.2 412.8h.9v.9h-.9zM181.9 516.1h.9v.9h-.9zM184.8 558.3h.9v.9h-.9zM183.5 529.1h.9v.9h-.9zM188.4 540.0h.9v.9h-.9zM192.1 512.0h.9v.9h-.9zM179.6 565.8h.9v.9h-.9zM177.1 455.5h.9v.9h-.9zM168.5 548.8h.9v.9h-.9zM180.2 402.7h.9v.9h-.9zM179.7 491.8h.9v.9h-.9zM184.7 498.1h.9v.9h-.9zM195.0 498.3h.9v.9h-.9zM189.0 516.8h.9v.9h-.9zM186.8 531.1h.9v.9h-.9zM197.9 456.1h.9v.9h-.9zM184.8 487.8h.9v.9h-.9zM172.9 476.1h.9v.9h-.9zM185.0 576.8h.9v.9h-.9zM178.5 492.4h.9v.9h-.9zM186.2 469.0h.9v.9h-.9zM187.7 477.1h.9v.9h-.9zM185.5 415.8h.9v.9h-.9zM183.7 429.1h.9v.9h-.9zM181.9 481.6h.9v.9h-.9zM176.0 485.7h.9v.9h-.9zM178.4 457.1h.9v.9h-.9zM175.6 441.4h.9v.9h-.9zM196.3 402.8h.9v.9h-.9zM191.6 425.9h.9v.9h-.9zM180.2 426.6h.9v.9h-.9zM194.5 412.9h.9v.9h-.9zM178.1 529.8h.9v.9h-.9zM187.2 516.4h.9v.9h-.9zM192.9 410.3h.9v.9h-.9zM191.3 428.1h.9v.9h-.9zM183.0 549.9h.9v.9h-.9zM187.0 525.4h.9v.9h-.9zM186.7 490.6h.9v.9h-.9zM195.5 440.1h.9v.9h-.9zM178.3 409.2h.9v.9h-.9zM179.2 458.2h.9v.9h-.9zM180.7 576.1h.9v.9h-.9zM188.1 414.7h.9v.9h-.9zM195.2 577.4h.9v.9h-.9zM194.7 461.9h.9v.9h-.9zM182.4 539.2h.9v.9h-.9zM195.7 408.4h.9v.9h-.9zM178.4 497.1h.9v.9h-.9zM191.1 582.4h.9v.9h-.9zM192.3 566.1h.9v.9h-.9zM185.6 461.4h.9v.9h-.9zM194.4 432.8h.9v.9h-.9zM185.0 465.0h.9v.9h-.9zM173.7 481.0h.9v.9h-.9zM181.8 489.3h.9v.9h-.9zM174.8 423.2h.9v.9h-.9zM189.0 558.8h.9v.9h-.9zM187.9 495.6h.9v.9h-.9zM181.4 471.2h.9v.9h-.9zM180.2 434.3h.9v.9h-.9zM194.9 425.2h.9v.9h-.9zM184.0 535.1h.9v.9h-.9zM177.6 548.0h.9v.9h-.9zM179.9 517.0h.9v.9h-.9zM198.7 478.4h.9v.9h-.9zM172.5 524.7h.9v.9h-.9zM180.4 470.7h.9v.9h-.9zM190.6 524.5h.9v.9h-.9zM181.6 562.7h.9v.9h-.9zM190.7 553.7h.9v.9h-.9zM179.5 474.5h.9v.9h-.9zM173.4 523.6h.9v.9h-.9zM185.5 419.9h.9v.9h-.9zM191.6 553.4h.9v.9h-.9zM190.7 473.0h.9v.9h-.9zM182.7 423.0h.9v.9h-.9zM191.8 571.3h.9v.9h-.9zM193.3 416.7h.9v.9h-.9zM185.2 443.8h.9v.9h-.9zM197.3 568.6h.9v.9h-.9zM180.7 439.2h.9v.9h-.9zM191.8 456.2h.9v.9h-.9zM180.5 540.2h.9v.9h-.9zM188.1 406.4h.9v.9h-.9zM177.4 463.0h.9v.9h-.9zM175.8 437.3h.9v.9h-.9zM187.5 552.2h.9v.9h-.9zM187.4 516.0h.9v.9h-.9zM193.2 515.2h.9v.9h-.9zM186.2 461.7h.9v.9h-.9zM192.6 468.3h.9v.9h-.9zM187.1 586.7h.9v.9h-.9zM175.4 566.7h.9v.9h-.9zM197.7 510.5h.9v.9h-.9zM194.4 417.9h.9v.9h-.9zM194.5 507.3h.9v.9h-.9zM188.0 479.2h.9v.9h-.9zM187.3 430.5h.9v.9h-.9zM194.7 572.3h.9v.9h-.9zM185.0 583.7h.9v.9h-.9zM186.0 491.1h.9v.9h-.9zM175.4 549.5h.9v.9h-.9zM183.5 502.1h.9v.9h-.9zM181.9 479.7h.9v.9h-.9zM174.5 532.5h.9v.9h-.9zM184.4 509.7h.9v.9h-.9zM188.7 418.3h.9v.9h-.9zM172.8 428.4h.9v.9h-.9zM189.5 584.1h.9v.9h-.9zM186.7 459.9h.9v.9h-.9zM178.2 508.6h.9v.9h-.9zM188.4 454.1h.9v.9h-.9zM186.6 562.4h.9v.9h-.9zM179.3 554.4h.9v.9h-.9zM194.3 418.4h.9v.9h-.9zM185.6 569.8h.9v.9h-.9zM190.5 547.7h.9v.9h-.9zM187.8 513.7h.9v.9h-.9zM181.9 500.2h.9v.9h-.9zM179.2 439.5h.9v.9h-.9zM180.3 529.9h.9v.9h-.9zM186.8 421.0h.9v.9h-.9zM188.5 502.6h.9v.9h-.9zM189.0 511.9h.9v.9h-.9zM206.2 560.5h.9v.9h-.9zM185.9 473.3h.9v.9h-.9zM192.6 587.6h.9v.9h-.9zM196.5 434.7h.9v.9h-.9zM186.0 580.0h.9v.9h-.9zM172.6 440.5h.9v.9h-.9zM188.6 444.9h.9v.9h-.9zM188.4 572.9h.9v.9h-.9zM192.2 425.0h.9v.9h-.9zM181.2 468.1h.9v.9h-.9zM186.1 538.4h.9v.9h-.9zM195.6 549.1h.9v.9h-.9zM178.4 490.2h.9v.9h-.9zM188.5 471.5h.9v.9h-.9zM175.3 536.7h.9v.9h-.9zM188.5 463.1h.9v.9h-.9zM181.9 409.3h.9v.9h-.9zM183.9 474.7h.9v.9h-.9zM184.4 415.8h.9v.9h-.9zM186.9 482.1h.9v.9h-.9zM198.0 406.4h.9v.9h-.9zM180.8 461.2h.9v.9h-.9zM181.4 426.8h.9v.9h-.9zM189.9 513.6h.9v.9h-.9zM189.1 434.4h.9v.9h-.9zM179.7 420.8h.9v.9h-.9zM197.4 444.8h.9v.9h-.9zM186.6 539.2h.9v.9h-.9zM186.2 436.8h.9v.9h-.9zM182.7 461.0h.9v.9h-.9zM186.9 458.6h.9v.9h-.9zM174.1 487.1h.9v.9h-.9zM180.6 552.5h.9v.9h-.9zM191.7 450.7h.9v.9h-.9zM191.3 515.6h.9v.9h-.9zM170.9 584.2h.9v.9h-.9zM189.5 590.4h.9v.9h-.9zM183.9 439.0h.9v.9h-.9zM186.7 458.5h.9v.9h-.9zM182.1 485.2h.9v.9h-.9zM191.1 439.6h.9v.9h-.9zM176.5 572.4h.9v.9h-.9zM191.0 410.3h.9v.9h-.9zM179.2 455.3h.9v.9h-.9zM183.6 581.0h.9v.9h-.9zM192.5 514.5h.9v.9h-.9zM186.6 447.6h.9v.9h-.9zM183.1 540.6h.9v.9h-.9zM182.8 412.7h.9v.9h-.9zM189.7 410.3h.9v.9h-.9zM178.0 477.1h.9v.9h-.9zM190.1 508.7h.9v.9h-.9zM185.2 529.7h.9v.9h-.9zM186.7 464.9h.9v.9h-.9zM178.7 452.3h.9v.9h-.9zM185.9 410.5h.9v.9h-.9zM183.8 422.6h.9v.9h-.9zM191.1 406.3h.9v.9h-.9zM184.1 568.8h.9v.9h-.9zM185.7 469.6h.9v.9h-.9zM177.5 405.2h.9v.9h-.9zM188.5 420.0h.9v.9h-.9zM187.5 495.0h.9v.9h-.9zM176.8 466.4h.9v.9h-.9zM185.6 552.3h.9v.9h-.9zM177.2 560.6h.9v.9h-.9zM194.3 529.6h.9v.9h-.9zM178.5 488.9h.9v.9h-.9zM176.5 501.1h.9v.9h-.9zM183.6 557.4h.9v.9h-.9zM186.9 544.5h.9v.9h-.9zM183.7 518.5h.9v.9h-.9zM173.0 410.1h.9v.9h-.9zM176.6 491.5h.9v.9h-.9zM173.4 432.1h.9v.9h-.9zM197.5 508.4h.9v.9h-.9zM192.7 494.2h.9v.9h-.9zM194.7 541.4h.9v.9h-.9zM180.4 401.9h.9v.9h-.9zM199.1 443.6h.9v.9h-.9zM184.0 549.4h.9v.9h-.9zM171.2 453.3h.9v.9h-.9zM195.1 540.6h.9v.9h-.9zM190.9 412.2h.9v.9h-.9zM193.4 407.0h.9v.9h-.9zM182.1 492.4h.9v.9h-.9zM183.8 570.1h.9v.9h-.9zM188.3 579.5h.9v.9h-.9zM190.9 452.9h.9v.9h-.9zM190.8 529.3h.9v.9h-.9zM190.4 479.1h.9v.9h-.9zM189.5 491.1h.9v.9h-.9zM176.8 580.6h.9v.9h-.9zM189.2 578.9h.9v.9h-.9zM196.5 444.3h.9v.9h-.9zM178.3 447.4h.9v.9h-.9zM175.8 516.6h.9v.9h-.9zM188.0 467.5h.9v.9h-.9zM191.5 404.3h.9v.9h-.9zM185.2 418.0h.9v.9h-.9zM188.4 561.5h.9v.9h-.9zM196.5 408.6h.9v.9h-.9zM185.9 551.1h.9v.9h-.9zM190.7 572.4h.9v.9h-.9zM185.2 585.7h.9v.9h-.9zM188.7 586.5h.9v.9h-.9zM183.9 543.5h.9v.9h-.9zM177.8 547.5h.9v.9h-.9zM179.9 501.1h.9v.9h-.9zM185.2 527.4h.9v.9h-.9zM181.0 428.7h.9v.9h-.9zM194.4 586.4h.9v.9h-.9zM186.7 584.4h.9v.9h-.9zM190.4 582.4h.9v.9h-.9zM197.5 563.0h.9v.9h-.9zM179.4 557.8h.9v.9h-.9zM183.0 540.7h.9v.9h-.9zM184.4 560.6h.9v.9h-.9zM186.6 412.3h.9v.9h-.9zM183.7 540.4h.9v.9h-.9zM170.7 590.2h.9v.9h-.9zM186.6 486.1h.9v.9h-.9zM180.8 533.4h.9v.9h-.9zM176.3 471.0h.9v.9h-.9zM183.8 572.9h.9v.9h-.9zM183.5 539.1h.9v.9h-.9zM188.0 439.9h.9v.9h-.9zM178.1 487.0h.9v.9h-.9zM181.8 421.4h.9v.9h-.9zM177.5 401.3h.9v.9h-.9zM181.3 444.0h.9v.9h-.9zM188.6 443.0h.9v.9h-.9zM176.2 575.4h.9v.9h-.9zM191.0 530.1h.9v.9h-.9zM199.5 517.1h.9v.9h-.9zM187.3 540.7h.9v.9h-.9zM180.6 465.5h.9v.9h-.9zM181.2 414.3h.9v.9h-.9zM184.3 531.0h.9v.9h-.9zM183.5 575.0h.9v.9h-.9zM180.8 555.3h.9v.9h-.9zM177.2 584.3h.9v.9h-.9zM193.6 488.6h.9v.9h-.9zM165.9 403.4h.9v.9h-.9zM178.0 565.8h.9v.9h-.9zM178.9 517.8h.9v.9h-.9zM185.1 559.6h.9v.9h-.9zM186.0 520.2h.9v.9h-.9zM194.9 563.8h.9v.9h-.9zM184.6 548.4h.9v.9h-.9zM193.3 572.3h.9v.9h-.9zM185.1 476.5h.9v.9h-.9zM191.7 467.8h.9v.9h-.9zM185.9 590.5h.9v.9h-.9zM181.1 532.8h.9v.9h-.9zM188.9 419.2h.9v.9h-.9zM183.1 424.4h.9v.9h-.9zM192.1 515.1h.9v.9h-.9zM174.3 465.6h.9v.9h-.9zM191.4 587.7h.9v.9h-.9zM188.4 443.9h.9v.9h-.9zM193.6 403.3h.9v.9h-.9zM180.8 456.4h.9v.9h-.9zM199.6 494.1h.9v.9h-.9zM180.1 503.0h.9v.9h-.9zM184.7 413.1h.9v.9h-.9zM182.2 556.7h.9v.9h-.9zM190.1 548.0h.9v.9h-.9zM182.6 566.4h.9v.9h-.9zM176.5 542.4h.9v.9h-.9zM189.0 543.7h.9v.9h-.9zM186.8 561.4h.9v.9h-.9zM197.6 430.8h.9v.9h-.9zM184.7 509.2h.9v.9h-.9zM178.7 426.3h.9v.9h-.9zM178.8 586.0h.9v.9h-.9zM180.0 588.4h.9v.9h-.9zM185.1 474.2h.9v.9h-.9zM194.9 450.3h.9v.9h-.9zM189.9 442.4h.9v.9h-.9zM182.4 461.8h.9v.9h-.9zM194.6 527.8h.9v.9h-.9zM203.3 570.7h.9v.9h-.9zM173.5 577.0h.9v.9h-.9zM185.2 417.8h.9v.9h-.9zM198.5 512.0h.9v.9h-.9zM188.3 582.2h.9v.9h-.9zM187.0 424.9h.9v.9h-.9zM183.7 400.8h.9v.9h-.9zM177.1 552.4h.9v.9h-.9zM199.1 557.3h.9v.9h-.9zM190.9 495.6h.9v.9h-.9zM183.9 534.6h.9v.9h-.9zM186.1 408.1h.9v.9h-.9zM169.8 530.4h.9v.9h-.9zM182.9 422.9h.9v.9h-.9zM183.5 463.6h.9v.9h-.9zM174.8 548.3h.9v.9h-.9zM179.1 501.2h.9v.9h-.9zM182.1 453.4h.9v.9h-.9zM182.1 467.5h.9v.9h-.9zM199.8 548.2h.9v.9h-.9zM182.5 400.9h.9v.9h-.9zM188.9 585.0h.9v.9h-.9zM185.7 513.3h.9v.9h-.9zM165.7 412.5h.9v.9h-.9zM186.7 517.8h.9v.9h-.9zM187.4 519.7h.9v.9h-.9zM191.1 445.2h.9v.9h-.9zM183.9 442.9h.9v.9h-.9zM186.5 495.1h.9v.9h-.9zM186.8 481.0h.9v.9h-.9zM173.9 460.6h.9v.9h-.9zM198.2 558.9h.9v.9h-.9zM182.3 406.3h.9v.9h-.9zM184.8 517.2h.9v.9h-.9zM187.1 535.0h.9v.9h-.9zM183.9 445.1h.9v.9h-.9zM180.4 539.8h.9v.9h-.9zM173.3 447.4h.9v.9h-.9zM195.7 575.9h.9v.9h-.9zM200.7 577.3h.9v.9h-.9zM183.3 471.2h.9v.9h-.9zM184.9 574.8h.9v.9h-.9zM190.8 408.7h.9v.9h-.9zM187.9 569.1h.9v.9h-.9zM183.7 468.8h.9v.9h-.9zM187.8 439.6h.9v.9h-.9zM176.7 526.5h.9v.9h-.9zM189.4 419.1h.9v.9h-.9zM183.2 485.1h.9v.9h-.9zM185.0 555.2h.9v.9h-.9zM184.5 447.3h.9v.9h-.9zM198.5 475.9h.9v.9h-.9zM185.7 506.6h.9v.9h-.9zM184.9 503.3h.9v.9h-.9zM181.8 533.5h.9v.9h-.9zM168.9 443.4h.9v.9h-.9zM188.0 454.5h.9v.9h-.9zM193.1 506.5h.9v.9h-.9zM194.6 480.3h.9v.9h-.9zM191.2 410.2h.9v.9h-.9zM197.4 563.1h.9v.9h-.9zM196.8 569.3h.9v.9h-.9zM170.0 433.1h.9v.9h-.9zM198.4 539.6h.9v.9h-.9zM190.0 401.4h.9v.9h-.9zM183.8 424.8h.9v.9h-.9zM196.4 516.6h.9v.9h-.9zM191.8 491.8h.9v.9h-.9zM193.1 426.8h.9v.9h-.9zM192.1 426.2h.9v.9h-.9zM177.1 553.9h.9v.9h-.9zM179.9 558.8h.9v.9h-.9zM189.4 428.1h.9v.9h-.9zM190.0 494.6h.9v.9h-.9zM199.4 531.1h.9v.9h-.9zM188.0 555.3h.9v.9h-.9zM170.1 560.4h.9v.9h-.9zM186.6 559.3h.9v.9h-.9zM187.2 466.7h.9v.9h-.9zM180.9 411.4h.9v.9h-.9zM186.2 589.4h.9v.9h-.9zM177.6 456.0h.9v.9h-.9zM172.7 586.0h.9v.9h-.9zM191.4 545.5h.9v.9h-.9zM197.2 452.6h.9v.9h-.9zM174.8 518.6h.9v.9h-.9zM195.2 582.9h.9v.9h-.9zM189.6 497.4h.9v.9h-.9zM191.0 413.1h.9v.9h-.9zM192.7 488.9h.9v.9h-.9zM191.9 557.1h.9v.9h-.9zM189.0 542.1h.9v.9h-.9zM190.2 485.0h.9v.9h-.9zM179.3 411.1h.9v.9h-.9zM187.7 478.7h.9v.9h-.9zM176.7 428.4h.9v.9h-.9zM183.1 423.6h.9v.9h-.9zM186.1 415.8h.9v.9h-.9zM182.1 558.9h.9v.9h-.9zM187.2 517.4h.9v.9h-.9zM191.5 431.2h.9v.9h-.9zM178.9 453.5h.9v.9h-.9zM190.5 524.3h.9v.9h-.9zM177.6 521.7h.9v.9h-.9zM190.0 483.2h.9v.9h-.9zM186.9 562.2h.9v.9h-.9zM194.3 450.3h.9v.9h-.9zM182.2 409.5h.9v.9h-.9zM178.8 578.7h.9v.9h-.9zM182.9 440.1h.9v.9h-.9zM185.9 406.1h.9v.9h-.9zM186.7 555.1h.9v.9h-.9zM188.3 403.5h.9v.9h-.9zM182.6 510.9h.9v.9h-.9zM185.7 575.1h.9v.9h-.9zM195.2 543.6h.9v.9h-.9zM183.7 456.0h.9v.9h-.9zM194.9 546.0h.9v.9h-.9zM184.8 530.4h.9v.9h-.9zM199.6 571.3h.9v.9h-.9zM175.7 512.0h.9v.9h-.9zM199.8 449.8h.9v.9h-.9zM181.9 422.3h.9v.9h-.9zM180.7 408.2h.9v.9h-.9zM181.5 419.8h.9v.9h-.9zM182.2 549.3h.9v.9h-.9zM192.9 452.9h.9v.9h-.9zM194.6 470.2h.9v.9h-.9zM197.5 560.3h.9v.9h-.9zM180.1 588.2h.9v.9h-.9zM172.5 519.7h.9v.9h-.9zM175.6 512.0h.9v.9h-.9zM182.4 509.7h.9v.9h-.9zM191.6 447.9h.9v.9h-.9zM176.7 538.5h.9v.9h-.9zM174.6 443.7h.9v.9h-.9zM192.1 483.7h.9v.9h-.9zM186.7 562.6h.9v.9h-.9zM177.4 516.5h.9v.9h-.9zM183.0 506.4h.9v.9h-.9zM181.6 506.4h.9v.9h-.9zM177.5 445.8h.9v.9h-.9zM190.9 570.3h.9v.9h-.9zM190.8 581.8h.9v.9h-.9zM183.0 499.8h.9v.9h-.9zM194.3 487.5h.9v.9h-.9zM190.9 416.9h.9v.9h-.9zM196.6 444.2h.9v.9h-.9zM184.7 437.6h.9v.9h-.9zM190.1 415.9h.9v.9h-.9zM181.2 523.6h.9v.9h-.9zM184.9 515.5h.9v.9h-.9zM179.8 517.8h.9v.9h-.9zM179.8 457.2h.9v.9h-.9zM175.1 441.8h.9v.9h-.9zM187.9 541.0h.9v.9h-.9zM169.2 518.6h.9v.9h-.9zM175.8 505.7h.9v.9h-.9zM186.2 471.9h.9v.9h-.9zM179.8 483.4h.9v.9h-.9zM184.4 436.1h.9v.9h-.9zM174.4 583.2h.9v.9h-.9zM193.6 591.1h.9v.9h-.9zM184.6 519.5h.9v.9h-.9zM183.3 403.9h.9v.9h-.9zM187.5 513.8h.9v.9h-.9zM183.6 550.4h.9v.9h-.9zM176.0 484.1h.9v.9h-.9zM185.0 522.0h.9v.9h-.9zM176.0 505.6h.9v.9h-.9zM181.0 417.9h.9v.9h-.9zM177.7 529.8h.9v.9h-.9zM183.4 586.2h.9v.9h-.9zM178.4 492.7h.9v.9h-.9zM189.7 469.1h.9v.9h-.9zM192.7 432.3h.9v.9h-.9zM188.8 536.9h.9v.9h-.9zM182.7 433.2h.9v.9h-.9zM161.9 417.6h.9v.9h-.9zM183.0 565.0h.9v.9h-.9zM204.8 574.5h.9v.9h-.9zM186.2 486.4h.9v.9h-.9zM180.5 431.9h.9v.9h-.9zM179.6 468.7h.9v.9h-.9zM172.3 422.4h.9v.9h-.9zM190.6 503.8h.9v.9h-.9zM176.8 552.2h.9v.9h-.9zM187.1 515.3h.9v.9h-.9zM177.8 515.2h.9v.9h-.9zM201.1 452.5h.9v.9h-.9zM172.1 409.5h.9v.9h-.9zM181.4 524.6h.9v.9h-.9zM179.7 431.1h.9v.9h-.9zM186.0 445.0h.9v.9h-.9zM178.7 515.7h.9v.9h-.9zM188.3 452.3h.9v.9h-.9zM179.7 552.9h.9v.9h-.9zM180.1 554.6h.9v.9h-.9zM187.0 505.2h.9v.9h-.9zM204.7 464.7h.9v.9h-.9zM185.2 484.2h.9v.9h-.9zM196.6 531.5h.9v.9h-.9zM185.0 451.2h.9v.9h-.9zM199.4 567.1h.9v.9h-.9zM178.9 511.2h.9v.9h-.9zM188.2 500.7h.9v.9h-.9zM176.9 582.4h.9v.9h-.9zM182.8 542.8h.9v.9h-.9zM202.9 403.6h.9v.9h-.9zM196.9 410.7h.9v.9h-.9zM187.8 406.2h.9v.9h-.9zM180.4 434.3h.9v.9h-.9zM172.0 404.4h.9v.9h-.9zM185.9 432.2h.9v.9h-.9zM187.8 460.9h.9v.9h-.9zM185.7 494.6h.9v.9h-.9zM195.4 564.2h.9v.9h-.9zM183.5 513.7h.9v.9h-.9zM194.4 446.5h.9v.9h-.9zM179.9 471.9h.9v.9h-.9zM182.1 577.5h.9v.9h-.9zM185.9 493.0h.9v.9h-.9zM188.0 554.7h.9v.9h-.9zM193.2 452.9h.9v.9h-.9zM182.9 446.8h.9v.9h-.9zM183.9 436.5h.9v.9h-.9zM174.8 444.1h.9v.9h-.9zM185.1 532.4h.9v.9h-.9zM175.5 591.2h.9v.9h-.9zM179.5 464.4h.9v.9h-.9zM193.2 498.1h.9v.9h-.9zM185.3 434.6h.9v.9h-.9zM194.2 420.3h.9v.9h-.9zM190.6 407.3h.9v.9h-.9zM193.1 438.1h.9v.9h-.9zM189.9 451.0h.9v.9h-.9zM186.3 428.8h.9v.9h-.9zM177.9 530.6h.9v.9h-.9zM195.3 485.8h.9v.9h-.9zM185.2 503.6h.9v.9h-.9zM181.6 551.0h.9v.9h-.9zM172.7 448.1h.9v.9h-.9zM186.1 425.2h.9v.9h-.9zM182.3 497.7h.9v.9h-.9zM189.1 455.0h.9v.9h-.9zM193.7 581.2h.9v.9h-.9zM173.7 581.4h.9v.9h-.9zM190.7 487.2h.9v.9h-.9zM186.4 477.0h.9v.9h-.9zM177.4 424.4h.9v.9h-.9zM176.9 532.2h.9v.9h-.9zM172.2 461.3h.9v.9h-.9zM179.0 475.5h.9v.9h-.9zM184.5 548.5h.9v.9h-.9zM193.5 498.6h.9v.9h-.9zM185.8 428.8h.9v.9h-.9zM184.9 477.8h.9v.9h-.9zM180.2 448.0h.9v.9h-.9zM179.4 531.5h.9v.9h-.9zM181.2 482.0h.9v.9h-.9zM187.4 420.7h.9v.9h-.9zM176.8 494.8h.9v.9h-.9zM185.4 582.1h.9v.9h-.9zM191.4 492.5h.9v.9h-.9zM185.2 521.1h.9v.9h-.9zM181.4 423.2h.9v.9h-.9zM186.1 405.3h.9v.9h-.9zM189.1 574.3h.9v.9h-.9zM192.0 403.0h.9v.9h-.9zM184.0 541.1h.9v.9h-.9zM184.4 547.3h.9v.9h-.9zM183.7 413.5h.9v.9h-.9zM186.8 547.4h.9v.9h-.9zM197.6 445.4h.9v.9h-.9zM173.0 516.1h.9v.9h-.9zM184.8 501.1h.9v.9h-.9zM186.5 436.6h.9v.9h-.9zM187.9 501.0h.9v.9h-.9zM179.1 522.3h.9v.9h-.9zM181.1 508.5h.9v.9h-.9zM181.1 561.8h.9v.9h-.9zM179.8 502.3h.9v.9h-.9zM200.4 559.0h.9v.9h-.9zM171.5 548.4h.9v.9h-.9zM182.2 448.0h.9v.9h-.9zM177.2 420.2h.9v.9h-.9zM182.7 517.8h.9v.9h-.9zM181.0 505.7h.9v.9h-.9zM179.7 446.4h.9v.9h-.9zM180.9 458.7h.9v.9h-.9zM180.7 461.6h.9v.9h-.9zM171.7 460.7h.9v.9h-.9zM178.5 521.6h.9v.9h-.9zM187.9 545.3h.9v.9h-.9zM186.9 539.5h.9v.9h-.9zM172.8 586.6h.9v.9h-.9zM178.3 525.3h.9v.9h-.9zM187.9 460.7h.9v.9h-.9zM189.0 507.2h.9v.9h-.9zM179.1 500.1h.9v.9h-.9zM184.8 453.9h.9v.9h-.9zM186.3 491.7h.9v.9h-.9zM189.1 573.4h.9v.9h-.9zM184.4 586.8h.9v.9h-.9zM186.9 404.3h.9v.9h-.9zM180.0 569.1h.9v.9h-.9zM190.9 580.3h.9v.9h-.9zM188.0 529.5h.9v.9h-.9zM191.4 434.7h.9v.9h-.9zM173.6 497.2h.9v.9h-.9zM191.2 495.5h.9v.9h-.9zM189.3 557.0h.9v.9h-.9zM183.0 427.6h.9v.9h-.9zM195.6 449.7h.9v.9h-.9zM194.1 512.8h.9v.9h-.9zM188.8 537.1h.9v.9h-.9zM171.1 538.9h.9v.9h-.9zM193.4 509.4h.9v.9h-.9zM188.6 456.5h.9v.9h-.9zM182.4 506.2h.9v.9h-.9zM171.3 530.6h.9v.9h-.9zM175.3 409.5h.9v.9h-.9zM192.9 439.9h.9v.9h-.9zM182.8 546.5h.9v.9h-.9zM176.0 506.1h.9v.9h-.9zM175.6 449.5h.9v.9h-.9zM177.8 468.0h.9v.9h-.9zM186.9 511.7h.9v.9h-.9zM188.7 423.3h.9v.9h-.9zM189.8 405.8h.9v.9h-.9zM174.2 477.7h.9v.9h-.9zM183.7 573.3h.9v.9h-.9zM177.5 455.4h.9v.9h-.9zM179.0 572.7h.9v.9h-.9zM177.7 447.3h.9v.9h-.9zM196.5 582.8h.9v.9h-.9zM183.7 540.6h.9v.9h-.9zM181.5 430.4h.9v.9h-.9zM180.4 464.7h.9v.9h-.9zM190.0 469.9h.9v.9h-.9zM189.3 418.5h.9v.9h-.9zM191.5 552.9h.9v.9h-.9zM178.8 482.5h.9v.9h-.9zM194.3 587.1h.9v.9h-.9zM193.5 561.6h.9v.9h-.9zM178.0 575.5h.9v.9h-.9zM192.0 514.1h.9v.9h-.9zM182.4 413.8h.9v.9h-.9zM181.4 519.7h.9v.9h-.9zM190.2 402.0h.9v.9h-.9zM185.6 481.5h.9v.9h-.9zM182.7 493.4h.9v.9h-.9zM190.9 428.9h.9v.9h-.9zM177.2 528.2h.9v.9h-.9zM186.4 479.7h.9v.9h-.9zM195.2 583.6h.9v.9h-.9zM180.2 460.0h.9v.9h-.9zM187.3 583.9h.9v.9h-.9zM182.5 503.0h.9v.9h-.9zM189.8 528.8h.9v.9h-.9zM188.2 463.6h.9v.9h-.9zM184.5 539.0h.9v.9h-.9zM174.8 529.7h.9v.9h-.9zM185.8 418.3h.9v.9h-.9z" fill="#eee0d7"/>
<path d="M164.0 469.1h.9v.9h-.9zM162.8 441.7h.9v.9h-.9zM161.9 406.5h.9v.9h-.9zM163.6 518.8h.9v.9h-.9zM162.3 421.8h.9v.9h-.9zM160.4 564.7h.9v.9h-.9zM163.6 511.2h.9v.9h-.9zM163.0 467.6h.9v.9h-.9zM163.0 518.6h.9v.9h-.9zM158.7 484.9h.9v.9h-.9zM167.7 488.4h.9v.9h-.9zM163.2 587.0h.9v.9h-.9zM164.7 522.2h.9v.9h-.9zM164.2 435.5h.9v.9h-.9zM168.5 612.1h.9v.9h-.9zM165.4 626.0h.9v.9h-.9zM157.5 536.1h.9v.9h-.9zM160.9 508.2h.9v.9h-.9zM164.2 500.5h.9v.9h-.9zM166.0 553.6h.9v.9h-.9zM164.6 426.0h.9v.9h-.9zM162.9 572.6h.9v.9h-.9zM159.8 576.7h.9v.9h-.9zM162.5 518.0h.9v.9h-.9zM161.4 401.0h.9v.9h-.9zM165.1 414.2h.9v.9h-.9zM169.7 598.6h.9v.9h-.9zM164.0 523.3h.9v.9h-.9zM165.7 554.2h.9v.9h-.9zM160.8 424.2h.9v.9h-.9zM158.4 492.8h.9v.9h-.9zM163.8 547.7h.9v.9h-.9zM159.8 447.5h.9v.9h-.9zM165.8 511.0h.9v.9h-.9zM158.9 413.0h.9v.9h-.9zM163.8 455.2h.9v.9h-.9zM161.8 508.0h.9v.9h-.9zM160.4 624.8h.9v.9h-.9zM158.4 574.3h.9v.9h-.9zM159.1 618.9h.9v.9h-.9zM159.9 570.7h.9v.9h-.9zM164.2 406.3h.9v.9h-.9zM159.9 526.1h.9v.9h-.9zM162.7 565.7h.9v.9h-.9zM164.5 556.5h.9v.9h-.9zM159.5 418.4h.9v.9h-.9zM158.5 539.3h.9v.9h-.9zM156.4 511.1h.9v.9h-.9zM159.1 440.9h.9v.9h-.9zM162.0 445.1h.9v.9h-.9zM163.2 409.3h.9v.9h-.9zM158.7 539.2h.9v.9h-.9zM164.3 441.2h.9v.9h-.9zM158.4 615.2h.9v.9h-.9zM163.7 504.3h.9v.9h-.9zM165.5 438.0h.9v.9h-.9zM162.0 438.4h.9v.9h-.9zM164.1 409.9h.9v.9h-.9zM159.5 457.3h.9v.9h-.9zM158.7 615.1h.9v.9h-.9zM159.3 609.6h.9v.9h-.9zM163.7 546.9h.9v.9h-.9zM157.3 567.5h.9v.9h-.9zM163.3 470.1h.9v.9h-.9zM166.6 569.2h.9v.9h-.9zM164.3 535.9h.9v.9h-.9zM165.9 440.1h.9v.9h-.9zM165.5 580.4h.9v.9h-.9zM159.1 417.5h.9v.9h-.9zM159.2 482.9h.9v.9h-.9zM162.0 409.3h.9v.9h-.9zM160.8 493.8h.9v.9h-.9zM164.7 452.4h.9v.9h-.9zM158.8 419.0h.9v.9h-.9zM165.2 558.7h.9v.9h-.9zM157.3 447.2h.9v.9h-.9zM162.2 439.5h.9v.9h-.9zM161.8 472.7h.9v.9h-.9zM163.0 436.8h.9v.9h-.9zM162.0 566.0h.9v.9h-.9zM162.4 417.8h.9v.9h-.9zM159.8 593.1h.9v.9h-.9zM168.6 528.2h.9v.9h-.9zM161.0 419.8h.9v.9h-.9zM161.9 588.0h.9v.9h-.9zM157.9 571.8h.9v.9h-.9zM154.0 504.7h.9v.9h-.9zM162.1 501.1h.9v.9h-.9zM158.8 533.0h.9v.9h-.9zM158.2 612.7h.9v.9h-.9zM161.3 598.6h.9v.9h-.9zM168.5 478.6h.9v.9h-.9zM166.2 540.3h.9v.9h-.9zM162.9 616.9h.9v.9h-.9zM157.7 571.8h.9v.9h-.9zM160.5 438.6h.9v.9h-.9zM160.6 449.3h.9v.9h-.9zM159.4 462.5h.9v.9h-.9zM159.0 525.0h.9v.9h-.9zM165.9 472.9h.9v.9h-.9zM167.2 570.5h.9v.9h-.9zM164.0 589.1h.9v.9h-.9zM162.4 464.0h.9v.9h-.9zM161.1 504.9h.9v.9h-.9zM160.6 446.7h.9v.9h-.9zM167.5 403.9h.9v.9h-.9zM161.3 407.0h.9v.9h-.9zM162.5 537.2h.9v.9h-.9zM159.2 416.5h.9v.9h-.9zM159.9 527.0h.9v.9h-.9zM159.7 450.9h.9v.9h-.9zM161.8 435.7h.9v.9h-.9zM159.3 532.6h.9v.9h-.9zM162.5 552.5h.9v.9h-.9zM161.5 458.8h.9v.9h-.9zM166.2 568.7h.9v.9h-.9zM163.3 566.5h.9v.9h-.9zM166.1 580.8h.9v.9h-.9zM155.7 622.9h.9v.9h-.9zM160.9 579.2h.9v.9h-.9zM160.7 541.8h.9v.9h-.9zM164.0 429.5h.9v.9h-.9zM162.8 547.3h.9v.9h-.9zM163.4 487.9h.9v.9h-.9zM167.0 520.4h.9v.9h-.9zM159.6 477.4h.9v.9h-.9zM161.8 425.6h.9v.9h-.9zM163.1 597.1h.9v.9h-.9zM162.1 621.5h.9v.9h-.9zM162.6 486.3h.9v.9h-.9zM162.7 618.9h.9v.9h-.9zM158.9 418.7h.9v.9h-.9zM157.9 406.1h.9v.9h-.9zM162.9 607.4h.9v.9h-.9zM159.8 418.4h.9v.9h-.9zM166.0 418.3h.9v.9h-.9zM166.7 613.0h.9v.9h-.9zM164.9 607.1h.9v.9h-.9zM160.9 575.8h.9v.9h-.9zM161.9 514.9h.9v.9h-.9zM163.1 528.2h.9v.9h-.9zM158.0 439.1h.9v.9h-.9zM163.0 498.0h.9v.9h-.9zM163.2 465.7h.9v.9h-.9zM163.1 571.7h.9v.9h-.9zM161.9 427.6h.9v.9h-.9zM167.6 450.1h.9v.9h-.9zM166.3 534.7h.9v.9h-.9zM159.6 479.5h.9v.9h-.9zM160.7 432.3h.9v.9h-.9zM161.2 536.0h.9v.9h-.9zM159.5 585.2h.9v.9h-.9zM165.0 480.1h.9v.9h-.9zM163.6 610.7h.9v.9h-.9zM160.8 503.9h.9v.9h-.9zM160.8 403.9h.9v.9h-.9zM161.1 431.7h.9v.9h-.9zM162.1 515.2h.9v.9h-.9zM160.2 532.1h.9v.9h-.9zM161.7 470.8h.9v.9h-.9zM161.9 590.3h.9v.9h-.9zM161.3 501.8h.9v.9h-.9zM163.4 542.1h.9v.9h-.9zM164.4 422.0h.9v.9h-.9zM164.0 493.2h.9v.9h-.9zM161.1 417.0h.9v.9h-.9zM154.8 442.7h.9v.9h-.9zM164.3 440.8h.9v.9h-.9zM158.1 432.8h.9v.9h-.9zM161.0 450.0h.9v.9h-.9zM160.4 406.8h.9v.9h-.9zM160.8 557.1h.9v.9h-.9zM165.9 593.4h.9v.9h-.9zM158.2 448.5h.9v.9h-.9zM160.7 539.4h.9v.9h-.9zM166.0 541.7h.9v.9h-.9zM160.1 454.4h.9v.9h-.9zM161.5 419.7h.9v.9h-.9zM165.9 420.1h.9v.9h-.9zM163.6 598.2h.9v.9h-.9zM163.8 618.3h.9v.9h-.9zM161.8 541.2h.9v.9h-.9zM165.1 482.0h.9v.9h-.9zM162.3 470.3h.9v.9h-.9zM164.2 404.5h.9v.9h-.9zM163.1 501.7h.9v.9h-.9zM160.0 608.9h.9v.9h-.9zM162.5 600.3h.9v.9h-.9zM156.8 480.3h.9v.9h-.9zM162.2 570.3h.9v.9h-.9zM162.7 567.5h.9v.9h-.9zM159.4 479.8h.9v.9h-.9zM163.7 426.2h.9v.9h-.9zM165.0 562.5h.9v.9h-.9zM162.2 582.9h.9v.9h-.9zM165.7 535.5h.9v.9h-.9zM166.3 556.7h.9v.9h-.9zM159.6 567.6h.9v.9h-.9zM159.7 534.6h.9v.9h-.9zM155.9 549.5h.9v.9h-.9z" fill="#def2d8"/>
<path d="M229.4 612.8h.9v.9h-.9zM231.8 468.2h.9v.9h-.9zM234.2 470.8h.9v.9h-.9zM236.2 561.6h.9v.9h-.9zM232.8 447.7h.9v.9h-.9zM232.8 540.2h.9v.9h-.9zM229.3 506.4h.9v.9h-.9zM235.6 425.7h.9v.9h-.9zM229.9 421.3h.9v.9h-.9zM225.4 539.5h.9v.9h-.9zM229.8 514.5h.9v.9h-.9zM230.2 514.8h.9v.9h-.9zM239.0 498.6h.9v.9h-.9zM232.5 583.9h.9v.9h-.9zM230.2 625.5h.9v.9h-.9zM228.2 416.7h.9v.9h-.9zM233.4 585.1h.9v.9h-.9zM235.0 608.9h.9v.9h-.9zM233.4 601.1h.9v.9h-.9zM236.3 563.4h.9v.9h-.9zM227.5 608.8h.9v.9h-.9zM229.6 421.1h.9v.9h-.9zM235.3 539.1h.9v.9h-.9zM232.4 570.3h.9v.9h-.9zM232.2 604.7h.9v.9h-.9zM235.4 579.0h.9v.9h-.9zM234.2 541.8h.9v.9h-.9zM232.7 567.3h.9v.9h-.9zM237.5 463.7h.9v.9h-.9zM231.6 423.3h.9v.9h-.9zM234.0 529.2h.9v.9h-.9zM235.0 473.3h.9v.9h-.9zM233.7 555.1h.9v.9h-.9zM233.9 584.2h.9v.9h-.9zM235.5 621.5h.9v.9h-.9zM235.4 481.9h.9v.9h-.9zM227.6 405.9h.9v.9h-.9zM231.7 597.4h.9v.9h-.9zM233.6 477.9h.9v.9h-.9zM228.1 511.4h.9v.9h-.9zM233.9 419.1h.9v.9h-.9zM232.5 544.9h.9v.9h-.9zM234.5 443.1h.9v.9h-.9zM232.4 504.3h.9v.9h-.9zM233.8 549.3h.9v.9h-.9zM229.2 412.3h.9v.9h-.9zM234.1 563.9h.9v.9h-.9zM236.7 421.2h.9v.9h-.9zM235.1 494.0h.9v.9h-.9zM234.3 475.7h.9v.9h-.9zM233.5 546.1h.9v.9h-.9zM233.9 615.5h.9v.9h-.9zM228.4 429.2h.9v.9h-.9zM227.9 539.4h.9v.9h-.9zM229.1 535.5h.9v.9h-.9zM237.3 539.0h.9v.9h-.9zM239.3 431.5h.9v.9h-.9zM229.1 499.2h.9v.9h-.9zM236.2 451.1h.9v.9h-.9zM234.9 558.1h.9v.9h-.9zM232.7 600.8h.9v.9h-.9zM233.2 429.1h.9v.9h-.9zM232.5 413.5h.9v.9h-.9zM236.5 574.7h.9v.9h-.9zM232.6 540.5h.9v.9h-.9zM231.4 429.6h.9v.9h-.9zM231.6 464.1h.9v.9h-.9zM232.6 502.1h.9v.9h-.9zM228.7 609.5h.9v.9h-.9zM231.7 476.2h.9v.9h-.9zM231.7 566.9h.9v.9h-.9zM234.6 483.4h.9v.9h-.9zM233.4 495.4h.9v.9h-.9zM234.8 589.1h.9v.9h-.9zM227.8 506.9h.9v.9h-.9zM235.0 531.7h.9v.9h-.9zM232.8 563.9h.9v.9h-.9zM236.0 419.6h.9v.9h-.9zM230.7 466.1h.9v.9h-.9zM233.6 476.8h.9v.9h-.9zM234.2 409.7h.9v.9h-.9zM236.6 454.3h.9v.9h-.9zM232.7 588.7h.9v.9h-.9zM234.8 555.3h.9v.9h-.9zM234.1 442.9h.9v.9h-.9zM231.9 471.2h.9v.9h-.9zM227.2 588.7h.9v.9h-.9zM232.6 594.4h.9v.9h-.9zM233.6 476.5h.9v.9h-.9zM233.0 497.2h.9v.9h-.9zM235.7 429.4h.9v.9h-.9zM233.0 597.5h.9v.9h-.9zM233.5 440.0h.9v.9h-.9zM235.4 591.8h.9v.9h-.9zM235.4 450.3h.9v.9h-.9zM235.0 456.1h.9v.9h-.9zM237.6 566.6h.9v.9h-.9zM232.7 480.7h.9v.9h-.9zM240.6 543.9h.9v.9h-.9zM231.8 451.8h.9v.9h-.9zM236.5 510.2h.9v.9h-.9zM234.0 595.1h.9v.9h-.9zM238.4 455.2h.9v.9h-.9zM232.8 622.5h.9v.9h-.9zM232.3 447.5h.9v.9h-.9zM232.4 616.7h.9v.9h-.9zM234.3 549.8h.9v.9h-.9zM228.2 405.8h.9v.9h-.9zM235.2 574.5h.9v.9h-.9zM231.9 522.2h.9v.9h-.9zM229.2 607.6h.9v.9h-.9zM233.2 588.8h.9v.9h-.9zM228.3 440.1h.9v.9h-.9zM236.5 479.3h.9v.9h-.9zM232.5 491.0h.9v.9h-.9zM233.7 401.1h.9v.9h-.9zM238.3 508.6h.9v.9h-.9zM231.8 414.5h.9v.9h-.9zM232.5 466.8h.9v.9h-.9zM238.0 421.9h.9v.9h-.9zM229.4 429.1h.9v.9h-.9zM234.6 485.6h.9v.9h-.9zM228.3 492.4h.9v.9h-.9zM231.2 624.0h.9v.9h-.9zM232.7 418.5h.9v.9h-.9zM237.9 606.9h.9v.9h-.9zM231.1 584.3h.9v.9h-.9zM232.4 599.7h.9v.9h-.9zM237.2 616.7h.9v.9h-.9zM237.4 480.8h.9v.9h-.9zM234.1 528.4h.9v.9h-.9zM228.3 487.9h.9v.9h-.9zM230.8 577.0h.9v.9h-.9zM238.0 613.7h.9v.9h-.9zM236.4 559.7h.9v.9h-.9zM234.5 449.6h.9v.9h-.9zM239.2 576.6h.9v.9h-.9zM233.7 561.3h.9v.9h-.9zM231.3 583.7h.9v.9h-.9zM235.7 421.7h.9v.9h-.9zM232.1 504.9h.9v.9h-.9zM228.3 615.4h.9v.9h-.9zM228.7 444.4h.9v.9h-.9zM228.3 492.6h.9v.9h-.9zM232.0 570.6h.9v.9h-.9zM236.3 624.1h.9v.9h-.9zM237.9 620.5h.9v.9h-.9zM229.8 565.9h.9v.9h-.9zM232.8 492.5h.9v.9h-.9zM231.6 510.9h.9v.9h-.9z" fill="#f9d9ea"/>
<path d="M166.6 603.8h.8v.8h-.8zM203.8 455.5h.8v.8h-.8zM163.4 521.6h.8v.8h-.8zM198.8 614.3h.8v.8h-.8zM240.2 497.5h.8v.8h-.8zM173.9 411.6h.8v.8h-.8zM247.7 538.6h.8v.8h-.8zM220.8 514.7h.8v.8h-.8zM209.1 604.9h.8v.8h-.8zM159.7 452.7h.8v.8h-.8zM262.4 471.7h.8v.8h-.8zM198.1 498.0h.8v.8h-.8zM193.1 571.8h.8v.8h-.8zM165.3 525.8h.8v.8h-.8zM251.3 478.0h.8v.8h-.8zM253.4 480.6h.8v.8h-.8zM238.6 423.7h.8v.8h-.8zM196.1 527.0h.8v.8h-.8zM237.0 505.1h.8v.8h-.8zM157.2 522.1h.8v.8h-.8zM272.3 461.8h.8v.8h-.8zM180.9 540.6h.8v.8h-.8zM184.3 423.6h.8v.8h-.8zM162.3 541.4h.8v.8h-.8zM274.6 574.5h.8v.8h-.8zM234.0 597.8h.8v.8h-.8zM269.9 461.1h.8v.8h-.8zM205.0 620.1h.8v.8h-.8zM283.0 545.0h.8v.8h-.8zM239.6 477.8h.8v.8h-.8zM164.6 474.8h.8v.8h-.8zM184.1 543.0h.8v.8h-.8zM243.1 542.5h.8v.8h-.8zM278.6 400.7h.8v.8h-.8zM180.6 423.1h.8v.8h-.8zM203.4 606.5h.8v.8h-.8zM217.0 580.8h.8v.8h-.8zM177.4 480.5h.8v.8h-.8zM263.0 466.7h.8v.8h-.8zM253.5 535.7h.8v.8h-.8zM243.1 407.1h.8v.8h-.8zM202.1 622.5h.8v.8h-.8zM204.2 463.4h.8v.8h-.8zM290.9 533.6h.8v.8h-.8zM248.8 509.6h.8v.8h-.8zM238.6 488.5h.8v.8h-.8zM190.2 466.2h.8v.8h-.8zM183.6 557.1h.8v.8h-.8zM164.2 427.0h.8v.8h-.8zM222.5 623.7h.8v.8h-.8zM260.6 551.4h.8v.8h-.8zM255.1 447.1h.8v.8h-.8zM222.9 404.6h.8v.8h-.8zM224.3 407.9h.8v.8h-.8zM168.1 427.8h.8v.8h-.8zM200.0 507.7h.8v.8h-.8zM182.3 418.1h.8v.8h-.8zM168.9 614.7h.8v.8h-.8zM288.9 606.6h.8v.8h-.8zM171.0 446.1h.8v.8h-.8zM274.2 404.1h.8v.8h-.8zM172.7 546.9h.8v.8h-.8zM286.0 609.2h.8v.8h-.8zM269.4 472.2h.8v.8h-.8zM254.0 611.7h.8v.8h-.8zM277.1 619.4h.8v.8h-.8zM257.9 577.9h.8v.8h-.8zM249.6 495.9h.8v.8h-.8zM231.7 610.2h.8v.8h-.8zM231.5 406.3h.8v.8h-.8zM214.2 596.9h.8v.8h-.8zM250.6 509.4h.8v.8h-.8zM281.8 571.1h.8v.8h-.8zM183.2 558.7h.8v.8h-.8zM272.9 402.1h.8v.8h-.8zM282.2 497.9h.8v.8h-.8zM269.9 403.4h.8v.8h-.8zM196.5 469.1h.8v.8h-.8zM182.2 548.9h.8v.8h-.8zM262.6 547.1h.8v.8h-.8zM278.5 426.3h.8v.8h-.8zM191.9 491.0h.8v.8h-.8zM262.2 567.0h.8v.8h-.8zM289.7 597.3h.8v.8h-.8zM225.7 567.3h.8v.8h-.8zM265.7 517.9h.8v.8h-.8zM246.4 593.0h.8v.8h-.8zM267.6 436.0h.8v.8h-.8zM156.2 560.0h.8v.8h-.8zM265.4 443.3h.8v.8h-.8zM270.3 571.2h.8v.8h-.8zM174.8 435.5h.8v.8h-.8zM243.4 541.0h.8v.8h-.8zM174.2 605.2h.8v.8h-.8zM182.0 588.4h.8v.8h-.8zM283.4 427.8h.8v.8h-.8zM249.4 524.5h.8v.8h-.8zM279.2 500.6h.8v.8h-.8zM209.3 453.2h.8v.8h-.8zM269.7 472.8h.8v.8h-.8zM278.7 408.4h.8v.8h-.8zM275.5 404.9h.8v.8h-.8zM252.6 614.7h.8v.8h-.8zM196.7 533.8h.8v.8h-.8zM209.5 415.3h.8v.8h-.8zM268.6 511.9h.8v.8h-.8zM263.4 408.6h.8v.8h-.8zM174.7 452.4h.8v.8h-.8zM265.5 405.8h.8v.8h-.8zM155.1 485.7h.8v.8h-.8zM205.7 591.4h.8v.8h-.8zM271.4 454.6h.8v.8h-.8zM255.2 481.1h.8v.8h-.8zM258.5 549.3h.8v.8h-.8zM161.8 506.5h.8v.8h-.8zM210.9 504.2h.8v.8h-.8zM229.2 556.3h.8v.8h-.8zM207.9 517.7h.8v.8h-.8zM267.0 554.1h.8v.8h-.8zM178.9 431.7h.8v.8h-.8zM189.7 615.0h.8v.8h-.8zM205.8 598.8h.8v.8h-.8zM286.1 558.1h.8v.8h-.8zM203.3 568.5h.8v.8h-.8zM221.8 615.3h.8v.8h-.8zM221.7 544.0h.8v.8h-.8zM247.2 542.6h.8v.8h-.8zM176.8 528.7h.8v.8h-.8zM211.5 553.9h.8v.8h-.8zM259.6 447.1h.8v.8h-.8zM203.4 458.4h.8v.8h-.8zM285.6 511.1h.8v.8h-.8zM214.5 618.1h.8v.8h-.8zM260.8 594.2h.8v.8h-.8zM221.9 429.2h.8v.8h-.8zM203.7 419.5h.8v.8h-.8zM207.6 502.2h.8v.8h-.8zM218.7 621.1h.8v.8h-.8zM226.0 438.0h.8v.8h-.8zM176.9 553.8h.8v.8h-.8zM223.7 492.9h.8v.8h-.8zM220.6 493.0h.8v.8h-.8zM246.2 534.2h.8v.8h-.8zM158.8 512.3h.8v.8h-.8zM186.8 531.9h.8v.8h-.8zM216.4 572.1h.8v.8h-.8zM286.1 567.8h.8v.8h-.8zM237.9 515.0h.8v.8h-.8zM167.7 565.2h.8v.8h-.8zM179.4 486.2h.8v.8h-.8z" fill="#f7ebe5"/>
<path d="M312.0 400.6h1.2v2.0h-1.2zM312.0 406.6h1.2v2.0h-1.2zM312.0 412.6h1.2v2.0h-1.2zM312.0 414.6h1.2v2.0h-1.2zM312.0 416.6h1.2v2.0h-1.2zM312.0 418.6h1.2v2.0h-1.2zM312.0 420.6h1.2v2.0h-1.2zM312.0 424.6h1.2v2.0h-1.2zM312.0 426.6h1.2v2.0h-1.2zM312.0 430.6h1.2v2.0h-1.2zM312.0 440.6h1.2v2.0h-1.2zM312.0 448.6h1.2v2.0h-1.2zM312.0 450.6h1.2v2.0h-1.2zM312.0 456.6h1.2v2.0h-1.2zM312.0 460.6h1.2v2.0h-1.2zM312.0 466.6h1.2v2.0h-1.2zM312.0 468.6h1.2v2.0h-1.2zM312.0 470.6h1.2v2.0h-1.2zM312.0 480.6h1.2v2.0h-1.2zM312.0 482.6h1.2v2.0h-1.2zM312.0 486.6h1.2v2.0h-1.2zM312.0 490.6h1.2v2.0h-1.2zM312.0 492.6h1.2v2.0h-1.2zM312.0 498.6h1.2v2.0h-1.2zM312.0 500.6h1.2v2.0h-1.2zM312.0 504.6h1.2v2.0h-1.2zM312.0 508.6h1.2v2.0h-1.2zM312.0 512.6h1.2v2.0h-1.2zM312.0 522.6h1.2v2.0h-1.2zM312.0 526.6h1.2v2.0h-1.2zM312.0 528.6h1.2v2.0h-1.2zM312.0 532.6h1.2v2.0h-1.2zM312.0 534.6h1.2v2.0h-1.2zM312.0 536.6h1.2v2.0h-1.2zM312.0 554.6h1.2v2.0h-1.2zM312.0 556.6h1.2v2.0h-1.2zM312.0 560.6h1.2v2.0h-1.2zM312.0 562.6h1.2v2.0h-1.2zM312.0 564.6h1.2v2.0h-1.2zM312.0 566.6h1.2v2.0h-1.2zM312.0 568.6h1.2v2.0h-1.2zM312.0 578.6h1.2v2.0h-1.2zM312.0 580.6h1.2v2.0h-1.2zM312.0 586.6h1.2v2.0h-1.2zM312.0 596.6h1.2v2.0h-1.2zM312.0 598.6h1.2v2.0h-1.2zM312.0 606.6h1.2v2.0h-1.2zM312.0 608.6h1.2v2.0h-1.2zM312.0 610.6h1.2v2.0h-1.2zM312.0 616.6h1.2v2.0h-1.2zM312.0 618.6h1.2v2.0h-1.2z" fill="#e5ebf5"/>
<path d="M312.0 402.6h1.2v2.0h-1.2zM312.0 410.6h1.2v2.0h-1.2zM312.0 432.6h1.2v2.0h-1.2zM312.0 436.6h1.2v2.0h-1.2zM312.0 438.6h1.2v2.0h-1.2zM312.0 452.6h1.2v2.0h-1.2zM312.0 454.6h1.2v2.0h-1.2zM312.0 476.6h1.2v2.0h-1.2zM312.0 506.6h1.2v2.0h-1.2zM312.0 510.6h1.2v2.0h-1.2zM312.0 514.6h1.2v2.0h-1.2zM312.0 516.6h1.2v2.0h-1.2zM312.0 518.6h1.2v2.0h-1.2zM312.0 520.6h1.2v2.0h-1.2zM312.0 538.6h1.2v2.0h-1.2zM312.0 546.6h1.2v2.0h-1.2zM312.0 550.6h1.2v2.0h-1.2zM312.0 552.6h1.2v2.0h-1.2zM312.0 558.6h1.2v2.0h-1.2zM312.0 582.6h1.2v2.0h-1.2zM312.0 584.6h1.2v2.0h-1.2zM312.0 590.6h1.2v2.0h-1.2zM312.0 594.6h1.2v2.0h-1.2zM312.0 602.6h1.2v2.0h-1.2zM312.0 604.6h1.2v2.0h-1.2zM312.0 612.6h1.2v2.0h-1.2zM312.0 620.6h1.2v2.0h-1.2zM312.0 624.6h1.2v1.8h-1.2z" fill="#eef2f8"/>
<path d="M312.0 404.6h1.2v2.0h-1.2zM312.0 408.6h1.2v2.0h-1.2zM312.0 422.6h1.2v2.0h-1.2zM312.0 428.6h1.2v2.0h-1.2zM312.0 434.6h1.2v2.0h-1.2zM312.0 442.6h1.2v2.0h-1.2zM312.0 444.6h1.2v2.0h-1.2zM312.0 446.6h1.2v2.0h-1.2zM312.0 458.6h1.2v2.0h-1.2zM312.0 462.6h1.2v2.0h-1.2zM312.0 464.6h1.2v2.0h-1.2zM312.0 472.6h1.2v2.0h-1.2zM312.0 474.6h1.2v2.0h-1.2zM312.0 478.6h1.2v2.0h-1.2zM312.0 484.6h1.2v2.0h-1.2zM312.0 488.6h1.2v2.0h-1.2zM312.0 494.6h1.2v2.0h-1.2zM312.0 496.6h1.2v2.0h-1.2zM312.0 502.6h1.2v2.0h-1.2zM312.0 524.6h1.2v2.0h-1.2zM312.0 530.6h1.2v2.0h-1.2zM312.0 540.6h1.2v2.0h-1.2zM312.0 542.6h1.2v2.0h-1.2zM312.0 544.6h1.2v2.0h-1.2zM312.0 548.6h1.2v2.0h-1.2zM312.0 570.6h1.2v2.0h-1.2zM312.0 572.6h1.2v2.0h-1.2zM312.0 574.6h1.2v2.0h-1.2zM312.0 576.6h1.2v2.0h-1.2zM312.0 588.6h1.2v2.0h-1.2zM312.0 592.6h1.2v2.0h-1.2zM312.0 600.6h1.2v2.0h-1.2zM312.0 614.6h1.2v2.0h-1.2zM312.0 622.6h1.2v2.0h-1.2z" fill="#dce4f2"/>
<text x="310.90" y="399.20" font-size="5.9" text-anchor="middle" fill="#222" stroke="#222" stroke-width="0.15">CP190</text>
<path d="M335.4 400.6h1.2v2.0h-1.2zM335.4 408.6h1.2v2.0h-1.2zM335.4 412.6h1.2v2.0h-1.2zM335.4 418.6h1.2v2.0h-1.2zM335.4 446.6h1.2v2.0h-1.2zM335.4 452.6h1.2v2.0h-1.2zM335.4 464.6h1.2v2.0h-1.2zM335.4 480.6h1.2v2.0h-1.2zM335.4 482.6h1.2v2.0h-1.2zM335.4 484.6h1.2v2.0h-1.2zM335.4 494.6h1.2v2.0h-1.2zM335.4 498.6h1.2v2.0h-1.2zM335.4 504.6h1.2v2.0h-1.2zM335.4 506.6h1.2v2.0h-1.2zM335.4 510.6h1.2v2.0h-1.2zM335.4 512.6h1.2v2.0h-1.2zM335.4 516.6h1.2v2.0h-1.2zM335.4 522.6h1.2v2.0h-1.2zM335.4 524.6h1.2v2.0h-1.2zM335.4 526.6h1.2v2.0h-1.2zM335.4 530.6h1.2v2.0h-1.2zM335.4 546.6h1.2v2.0h-1.2zM335.4 562.6h1.2v2.0h-1.2zM335.4 564.6h1.2v2.0h-1.2zM335.4 584.6h1.2v2.0h-1.2zM335.4 594.6h1.2v2.0h-1.2zM335.4 596.6h1.2v2.0h-1.2zM335.4 600.6h1.2v2.0h-1.2zM335.4 610.6h1.2v2.0h-1.2zM335.4 614.6h1.2v2.0h-1.2zM335.4 618.6h1.2v2.0h-1.2z" fill="#dce4f2"/>
<path d="M335.4 402.6h1.2v2.0h-1.2zM335.4 414.6h1.2v2.0h-1.2zM335.4 416.6h1.2v2.0h-1.2zM335.4 422.6h1.2v2.0h-1.2zM335.4 424.6h1.2v2.0h-1.2zM335.4 432.6h1.2v2.0h-1.2zM335.4 438.6h1.2v2.0h-1.2zM335.4 450.6h1.2v2.0h-1.2zM335.4 454.6h1.2v2.0h-1.2zM335.4 456.6h1.2v2.0h-1.2zM335.4 462.6h1.2v2.0h-1.2zM335.4 466.6h1.2v2.0h-1.2zM335.4 472.6h1.2v2.0h-1.2zM335.4 476.6h1.2v2.0h-1.2zM335.4 486.6h1.2v2.0h-1.2zM335.4 500.6h1.2v2.0h-1.2zM335.4 520.6h1.2v2.0h-1.2zM335.4 528.6h1.2v2.0h-1.2zM335.4 532.6h1.2v2.0h-1.2zM335.4 536.6h1.2v2.0h-1.2zM335.4 550.6h1.2v2.0h-1.2zM335.4 552.6h1.2v2.0h-1.2zM335.4 554.6h1.2v2.0h-1.2zM335.4 566.6h1.2v2.0h-1.2zM335.4 568.6h1.2v2.0h-1.2zM335.4 572.6h1.2v2.0h-1.2zM335.4 576.6h1.2v2.0h-1.2zM335.4 586.6h1.2v2.0h-1.2zM335.4 588.6h1.2v2.0h-1.2zM335.4 590.6h1.2v2.0h-1.2zM335.4 592.6h1.2v2.0h-1.2zM335.4 602.6h1.2v2.0h-1.2zM335.4 604.6h1.2v2.0h-1.2zM335.4 612.6h1.2v2.0h-1.2zM335.4 622.6h1.2v2.0h-1.2z" fill="#eef2f8"/>
<path d="M335.4 404.6h1.2v2.0h-1.2zM335.4 406.6h1.2v2.0h-1.2zM335.4 410.6h1.2v2.0h-1.2zM335.4 420.6h1.2v2.0h-1.2zM335.4 426.6h1.2v2.0h-1.2zM335.4 428.6h1.2v2.0h-1.2zM335.4 430.6h1.2v2.0h-1.2zM335.4 434.6h1.2v2.0h-1.2zM335.4 436.6h1.2v2.0h-1.2zM335.4 440.6h1.2v2.0h-1.2zM335.4 442.6h1.2v2.0h-1.2zM335.4 444.6h1.2v2.0h-1.2zM335.4 448.6h1.2v2.0h-1.2zM335.4 458.6h1.2v2.0h-1.2zM335.4 460.6h1.2v2.0h-1.2zM335.4 468.6h1.2v2.0h-1.2zM335.4 470.6h1.2v2.0h-1.2zM335.4 474.6h1.2v2.0h-1.2zM335.4 478.6h1.2v2.0h-1.2zM335.4 488.6h1.2v2.0h-1.2zM335.4 490.6h1.2v2.0h-1.2zM335.4 492.6h1.2v2.0h-1.2zM335.4 496.6h1.2v2.0h-1.2zM335.4 502.6h1.2v2.0h-1.2zM335.4 508.6h1.2v2.0h-1.2zM335.4 514.6h1.2v2.0h-1.2zM335.4 518.6h1.2v2.0h-1.2zM335.4 534.6h1.2v2.0h-1.2zM335.4 538.6h1.2v2.0h-1.2zM335.4 540.6h1.2v2.0h-1.2zM335.4 542.6h1.2v2.0h-1.2zM335.4 544.6h1.2v2.0h-1.2zM335.4 548.6h1.2v2.0h-1.2zM335.4 556.6h1.2v2.0h-1.2zM335.4 558.6h1.2v2.0h-1.2zM335.4 560.6h1.2v2.0h-1.2zM335.4 570.6h1.2v2.0h-1.2zM335.4 574.6h1.2v2.0h-1.2zM335.4 578.6h1.2v2.0h-1.2zM335.4 580.6h1.2v2.0h-1.2zM335.4 582.6h1.2v2.0h-1.2zM335.4 598.6h1.2v2.0h-1.2zM335.4 606.6h1.2v2.0h-1.2zM335.4 608.6h1.2v2.0h-1.2zM335.4 616.6h1.2v2.0h-1.2zM335.4 620.6h1.2v2.0h-1.2zM335.4 624.6h1.2v1.8h-1.2z" fill="#e5ebf5"/>
<text x="337.00" y="399.20" font-size="5.9" text-anchor="middle" fill="#222" stroke="#222" stroke-width="0.15">Cap-H2</text>
<path d="M359.8 400.6h1.2v2.0h-1.2zM359.8 410.6h1.2v2.0h-1.2zM359.8 416.6h1.2v2.0h-1.2zM359.8 418.6h1.2v2.0h-1.2zM359.8 426.6h1.2v2.0h-1.2zM359.8 436.6h1.2v2.0h-1.2zM359.8 440.6h1.2v2.0h-1.2zM359.8 444.6h1.2v2.0h-1.2zM359.8 446.6h1.2v2.0h-1.2zM359.8 454.6h1.2v2.0h-1.2zM359.8 468.6h1.2v2.0h-1.2zM359.8 472.6h1.2v2.0h-1.2zM359.8 476.6h1.2v2.0h-1.2zM359.8 484.6h1.2v2.0h-1.2zM359.8 510.6h1.2v2.0h-1.2zM359.8 520.6h1.2v2.0h-1.2zM359.8 524.6h1.2v2.0h-1.2zM359.8 530.6h1.2v2.0h-1.2zM359.8 532.6h1.2v2.0h-1.2zM359.8 548.6h1.2v2.0h-1.2zM359.8 556.6h1.2v2.0h-1.2zM359.8 560.6h1.2v2.0h-1.2zM359.8 562.6h1.2v2.0h-1.2zM359.8 568.6h1.2v2.0h-1.2zM359.8 574.6h1.2v2.0h-1.2zM359.8 588.6h1.2v2.0h-1.2zM359.8 590.6h1.2v2.0h-1.2zM359.8 592.6h1.2v2.0h-1.2zM359.8 594.6h1.2v2.0h-1.2zM359.8 596.6h1.2v2.0h-1.2zM359.8 602.6h1.2v2.0h-1.2zM359.8 606.6h1.2v2.0h-1.2zM359.8 608.6h1.2v2.0h-1.2zM359.8 614.6h1.2v2.0h-1.2zM359.8 624.6h1.2v1.8h-1.2z" fill="#dce4f2"/>
<path d="M359.8 402.6h1.2v2.0h-1.2zM359.8 406.6h1.2v2.0h-1.2zM359.8 408.6h1.2v2.0h-1.2zM359.8 414.6h1.2v2.0h-1.2zM359.8 420.6h1.2v2.0h-1.2zM359.8 422.6h1.2v2.0h-1.2zM359.8 450.6h1.2v2.0h-1.2zM359.8 452.6h1.2v2.0h-1.2zM359.8 458.6h1.2v2.0h-1.2zM359.8 466.6h1.2v2.0h-1.2zM359.8 474.6h1.2v2.0h-1.2zM359.8 494.6h1.2v2.0h-1.2zM359.8 498.6h1.2v2.0h-1.2zM359.8 500.6h1.2v2.0h-1.2zM359.8 504.6h1.2v2.0h-1.2zM359.8 508.6h1.2v2.0h-1.2zM359.8 512.6h1.2v2.0h-1.2zM359.8 514.6h1.2v2.0h-1.2zM359.8 518.6h1.2v2.0h-1.2zM359.8 522.6h1.2v2.0h-1.2zM359.8 526.6h1.2v2.0h-1.2zM359.8 528.6h1.2v2.0h-1.2zM359.8 534.6h1.2v2.0h-1.2zM359.8 542.6h1.2v2.0h-1.2zM359.8 550.6h1.2v2.0h-1.2zM359.8 582.6h1.2v2.0h-1.2zM359.8 586.6h1.2v2.0h-1.2zM359.8 598.6h1.2v2.0h-1.2zM359.8 600.6h1.2v2.0h-1.2zM359.8 604.6h1.2v2.0h-1.2zM359.8 610.6h1.2v2.0h-1.2zM359.8 612.6h1.2v2.0h-1.2zM359.8 618.6h1.2v2.0h-1.2zM359.8 622.6h1.2v2.0h-1.2z" fill="#eef2f8"/>
<path d="M359.8 404.6h1.2v2.0h-1.2zM359.8 412.6h1.2v2.0h-1.2zM359.8 424.6h1.2v2.0h-1.2zM359.8 428.6h1.2v2.0h-1.2zM359.8 430.6h1.2v2.0h-1.2zM359.8 432.6h1.2v2.0h-1.2zM359.8 434.6h1.2v2.0h-1.2zM359.8 438.6h1.2v2.0h-1.2zM359.8 442.6h1.2v2.0h-1.2zM359.8 448.6h1.2v2.0h-1.2zM359.8 456.6h1.2v2.0h-1.2zM359.8 460.6h1.2v2.0h-1.2zM359.8 462.6h1.2v2.0h-1.2zM359.8 464.6h1.2v2.0h-1.2zM359.8 470.6h1.2v2.0h-1.2zM359.8 478.6h1.2v2.0h-1.2zM359.8 480.6h1.2v2.0h-1.2zM359.8 482.6h1.2v2.0h-1.2zM359.8 486.6h1.2v2.0h-1.2zM359.8 488.6h1.2v2.0h-1.2zM359.8 490.6h1.2v2.0h-1.2zM359.8 492.6h1.2v2.0h-1.2zM359.8 496.6h1.2v2.0h-1.2zM359.8 502.6h1.2v2.0h-1.2zM359.8 506.6h1.2v2.0h-1.2zM359.8 516.6h1.2v2.0h-1.2zM359.8 536.6h1.2v2.0h-1.2zM359.8 538.6h1.2v2.0h-1.2zM359.8 540.6h1.2v2.0h-1.2zM359.8 544.6h1.2v2.0h-1.2zM359.8 546.6h1.2v2.0h-1.2zM359.8 552.6h1.2v2.0h-1.2zM359.8 554.6h1.2v2.0h-1.2zM359.8 558.6h1.2v2.0h-1.2zM359.8 564.6h1.2v2.0h-1.2zM359.8 566.6h1.2v2.0h-1.2zM359.8 570.6h1.2v2.0h-1.2zM359.8 572.6h1.2v2.0h-1.2zM359.8 576.6h1.2v2.0h-1.2zM359.8 578.6h1.2v2.0h-1.2zM359.8 580.6h1.2v2.0h-1.2zM359.8 584.6h1.2v2.0h-1.2zM359.8 616.6h1.2v2.0h-1.2zM359.8 620.6h1.2v2.0h-1.2z" fill="#e5ebf5"/>
<text x="360.90" y="399.20" font-size="5.9" text-anchor="middle" fill="#222" stroke="#222" stroke-width="0.15">Rad21</text>
<rect x="301.00" y="400.60" width="70.50" height="192.00" fill="#f4f6fb" opacity="0.4"/>
<text x="347.60" y="391.00" font-size="4.9" text-anchor="middle" fill="#222" stroke="#222" stroke-width="0.15">(condensin II) (cohesin)</text>
<defs><linearGradient id="pol" x1="0" x2="1"><stop offset="0" stop-color="#fcefdc"/><stop offset="0.5" stop-color="#f8d4a6"/><stop offset="1" stop-color="#fcefdc"/></linearGradient><linearGradient id="pol2" x1="0" x2="1"><stop offset="0" stop-color="#fef7ee"/><stop offset="0.5" stop-color="#fbe6cc"/><stop offset="1" stop-color="#fef7ee"/></linearGradient></defs>
<rect x="380.50" y="400.60" width="25.00" height="191.20" fill="url(#pol)"/>
<rect x="380.50" y="591.80" width="25.00" height="34.60" fill="url(#pol2)"/>
<path d="M380.5 502.6h25.0v0.6h-25.0zM380.5 582.1h25.0v0.6h-25.0zM380.5 542.1h25.0v0.6h-25.0zM380.5 537.3h25.0v0.6h-25.0zM380.5 515.8h25.0v1.0h-25.0zM380.5 438.3h25.0v0.6h-25.0zM380.5 546.0h25.0v0.6h-25.0zM380.5 537.0h25.0v0.6h-25.0zM380.5 552.6h25.0v1.0h-25.0zM380.5 478.5h25.0v0.6h-25.0zM380.5 512.4h25.0v1.0h-25.0zM380.5 496.8h25.0v0.6h-25.0zM380.5 470.1h25.0v1.0h-25.0zM380.5 434.5h25.0v0.6h-25.0zM380.5 485.4h25.0v0.6h-25.0zM380.5 432.2h25.0v0.6h-25.0zM380.5 465.7h25.0v0.6h-25.0zM380.5 448.7h25.0v0.6h-25.0zM380.5 587.3h25.0v0.6h-25.0zM380.5 460.3h25.0v0.6h-25.0zM380.5 489.9h25.0v1.0h-25.0zM380.5 488.6h25.0v0.6h-25.0zM380.5 429.5h25.0v1.0h-25.0zM380.5 542.8h25.0v1.0h-25.0zM380.5 506.0h25.0v1.0h-25.0zM380.5 552.4h25.0v1.0h-25.0zM380.5 566.8h25.0v1.0h-25.0zM380.5 481.3h25.0v1.0h-25.0zM380.5 416.2h25.0v0.6h-25.0zM380.5 515.2h25.0v1.0h-25.0zM380.5 403.8h25.0v1.0h-25.0zM380.5 588.1h25.0v0.6h-25.0zM380.5 568.5h25.0v0.6h-25.0zM380.5 555.0h25.0v1.0h-25.0zM380.5 418.7h25.0v0.6h-25.0zM380.5 468.8h25.0v0.6h-25.0zM380.5 429.7h25.0v1.0h-25.0zM380.5 468.4h25.0v0.6h-25.0zM380.5 529.3h25.0v0.6h-25.0zM380.5 448.8h25.0v1.0h-25.0zM380.5 465.8h25.0v1.0h-25.0zM380.5 585.4h25.0v1.0h-25.0zM380.5 439.3h25.0v1.0h-25.0zM380.5 573.6h25.0v1.0h-25.0zM380.5 454.3h25.0v1.0h-25.0zM380.5 479.6h25.0v0.6h-25.0zM380.5 524.9h25.0v1.0h-25.0zM380.5 432.2h25.0v1.0h-25.0zM380.5 418.1h25.0v1.0h-25.0zM380.5 490.8h25.0v0.6h-25.0zM380.5 549.7h25.0v0.6h-25.0zM380.5 565.4h25.0v1.0h-25.0zM380.5 533.2h25.0v0.6h-25.0zM380.5 496.1h25.0v1.0h-25.0zM380.5 492.8h25.0v0.6h-25.0zM380.5 402.7h25.0v1.0h-25.0zM380.5 544.0h25.0v0.6h-25.0zM380.5 573.7h25.0v0.6h-25.0zM380.5 559.5h25.0v0.6h-25.0zM380.5 462.2h25.0v1.0h-25.0zM380.5 559.3h25.0v1.0h-25.0zM380.5 535.7h25.0v1.0h-25.0zM380.5 548.1h25.0v0.6h-25.0zM380.5 537.3h25.0v0.6h-25.0zM380.5 531.4h25.0v1.0h-25.0zM380.5 431.2h25.0v0.6h-25.0zM380.5 430.1h25.0v0.6h-25.0zM380.5 554.8h25.0v1.0h-25.0zM380.5 575.7h25.0v0.6h-25.0zM380.5 496.1h25.0v0.6h-25.0zM380.5 490.6h25.0v1.0h-25.0zM380.5 447.4h25.0v1.0h-25.0zM380.5 412.4h25.0v1.0h-25.0zM380.5 486.1h25.0v1.0h-25.0zM380.5 472.3h25.0v0.6h-25.0zM380.5 434.6h25.0v1.0h-25.0zM380.5 566.1h25.0v1.0h-25.0zM380.5 551.9h25.0v1.0h-25.0zM380.5 404.0h25.0v0.6h-25.0zM380.5 422.9h25.0v1.0h-25.0z" fill="#f0a050" opacity="0.12"/>
<path d="M383.7 432.5h1v.9h-1zM389.8 541.3h1v.9h-1zM397.8 468.6h1v.9h-1zM399.1 407.6h1v.9h-1zM393.7 525.9h1v.9h-1zM391.1 449.1h1v.9h-1zM384.7 569.7h1v.9h-1zM387.3 435.0h1v.9h-1zM401.0 527.7h1v.9h-1zM396.2 483.7h1v.9h-1zM393.2 409.6h1v.9h-1zM384.1 454.3h1v.9h-1zM400.7 459.5h1v.9h-1zM389.8 548.1h1v.9h-1zM387.0 547.5h1v.9h-1zM392.1 578.7h1v.9h-1zM385.8 432.1h1v.9h-1zM393.3 440.8h1v.9h-1zM390.5 471.7h1v.9h-1zM401.6 461.6h1v.9h-1zM386.4 439.9h1v.9h-1zM390.3 543.9h1v.9h-1zM387.2 401.7h1v.9h-1zM391.1 502.9h1v.9h-1zM396.9 425.9h1v.9h-1zM387.5 460.3h1v.9h-1zM393.0 456.2h1v.9h-1zM388.2 488.7h1v.9h-1zM397.3 579.4h1v.9h-1zM392.2 540.8h1v.9h-1zM397.2 482.4h1v.9h-1zM396.7 589.1h1v.9h-1zM396.7 448.9h1v.9h-1zM393.4 436.4h1v.9h-1zM395.2 521.7h1v.9h-1zM386.4 547.2h1v.9h-1zM395.7 538.5h1v.9h-1zM388.0 497.1h1v.9h-1zM389.3 538.2h1v.9h-1zM395.3 464.0h1v.9h-1zM399.0 581.2h1v.9h-1zM396.4 541.6h1v.9h-1zM392.8 553.1h1v.9h-1zM393.6 503.4h1v.9h-1zM393.0 575.4h1v.9h-1zM398.3 490.0h1v.9h-1zM398.1 581.7h1v.9h-1zM391.6 485.0h1v.9h-1zM395.6 581.7h1v.9h-1zM404.5 461.1h1v.9h-1zM384.2 498.9h1v.9h-1zM388.7 507.3h1v.9h-1zM398.8 505.3h1v.9h-1zM392.0 561.2h1v.9h-1zM392.5 562.0h1v.9h-1zM403.8 435.2h1v.9h-1zM393.8 535.0h1v.9h-1zM391.2 500.7h1v.9h-1zM400.0 477.6h1v.9h-1zM392.0 422.7h1v.9h-1zM395.2 573.8h1v.9h-1zM399.1 588.9h1v.9h-1zM390.2 538.5h1v.9h-1zM400.5 509.3h1v.9h-1zM393.0 416.4h1v.9h-1zM395.8 461.7h1v.9h-1zM398.0 463.3h1v.9h-1zM391.8 417.1h1v.9h-1zM397.8 472.0h1v.9h-1zM401.0 470.4h1v.9h-1zM397.5 479.2h1v.9h-1zM399.3 413.7h1v.9h-1zM390.5 425.8h1v.9h-1zM395.7 581.8h1v.9h-1zM399.0 506.2h1v.9h-1zM389.6 444.9h1v.9h-1zM400.9 486.2h1v.9h-1zM398.2 469.7h1v.9h-1zM385.9 493.0h1v.9h-1zM384.6 434.3h1v.9h-1zM392.3 542.3h1v.9h-1zM392.3 578.2h1v.9h-1zM393.8 520.2h1v.9h-1zM397.4 583.3h1v.9h-1zM395.3 555.7h1v.9h-1zM381.6 502.9h1v.9h-1zM385.4 500.0h1v.9h-1zM391.1 532.1h1v.9h-1zM400.2 470.5h1v.9h-1zM393.9 415.1h1v.9h-1zM388.4 486.7h1v.9h-1zM392.6 556.1h1v.9h-1zM396.9 529.1h1v.9h-1zM394.8 408.2h1v.9h-1zM394.7 557.9h1v.9h-1zM403.2 409.5h1v.9h-1zM394.2 499.4h1v.9h-1zM391.7 434.4h1v.9h-1zM390.9 457.7h1v.9h-1zM390.9 444.6h1v.9h-1zM393.9 517.7h1v.9h-1zM394.0 535.9h1v.9h-1zM392.9 569.0h1v.9h-1zM389.5 496.9h1v.9h-1zM394.4 412.1h1v.9h-1zM397.0 407.8h1v.9h-1zM393.4 416.8h1v.9h-1zM389.8 425.0h1v.9h-1zM390.1 434.1h1v.9h-1zM393.6 457.0h1v.9h-1zM388.2 429.2h1v.9h-1zM390.7 562.6h1v.9h-1zM397.4 469.1h1v.9h-1zM389.5 491.9h1v.9h-1zM388.4 550.0h1v.9h-1zM399.8 435.0h1v.9h-1zM395.9 496.0h1v.9h-1zM396.9 408.4h1v.9h-1zM387.3 492.9h1v.9h-1zM395.3 577.3h1v.9h-1zM395.5 508.5h1v.9h-1zM398.8 458.2h1v.9h-1zM395.6 521.2h1v.9h-1zM391.1 496.2h1v.9h-1zM390.0 495.4h1v.9h-1zM399.3 521.8h1v.9h-1zM392.9 536.0h1v.9h-1zM401.1 570.1h1v.9h-1zM389.1 586.6h1v.9h-1zM397.9 583.6h1v.9h-1zM385.2 554.9h1v.9h-1zM390.6 530.6h1v.9h-1zM396.3 552.9h1v.9h-1zM388.6 437.6h1v.9h-1zM389.0 438.2h1v.9h-1zM386.7 561.1h1v.9h-1zM399.9 483.5h1v.9h-1zM398.6 404.5h1v.9h-1zM390.6 542.4h1v.9h-1zM392.3 426.1h1v.9h-1zM392.8 452.4h1v.9h-1zM389.5 576.0h1v.9h-1zM395.5 436.7h1v.9h-1zM390.0 558.0h1v.9h-1zM383.4 451.4h1v.9h-1zM392.7 551.7h1v.9h-1zM401.4 473.2h1v.9h-1zM389.3 507.6h1v.9h-1zM389.8 530.8h1v.9h-1zM394.6 537.3h1v.9h-1zM390.2 440.1h1v.9h-1zM385.1 528.4h1v.9h-1zM384.7 432.2h1v.9h-1zM393.7 447.2h1v.9h-1zM385.8 548.8h1v.9h-1zM389.7 429.7h1v.9h-1zM394.1 479.4h1v.9h-1zM397.0 422.3h1v.9h-1zM393.1 511.5h1v.9h-1zM404.2 434.0h1v.9h-1zM398.0 469.4h1v.9h-1zM394.9 587.0h1v.9h-1zM394.4 485.4h1v.9h-1zM398.9 496.0h1v.9h-1zM393.0 406.7h1v.9h-1zM389.2 450.6h1v.9h-1zM399.0 420.8h1v.9h-1zM398.9 518.6h1v.9h-1zM391.7 430.0h1v.9h-1zM384.7 434.3h1v.9h-1zM390.9 427.9h1v.9h-1zM386.1 541.6h1v.9h-1zM402.8 524.8h1v.9h-1zM395.3 456.2h1v.9h-1zM396.4 460.5h1v.9h-1zM391.2 453.2h1v.9h-1zM382.6 504.9h1v.9h-1zM401.7 509.1h1v.9h-1zM400.8 425.9h1v.9h-1zM390.6 429.8h1v.9h-1zM396.3 519.9h1v.9h-1zM391.1 453.9h1v.9h-1zM400.7 527.4h1v.9h-1zM385.3 434.0h1v.9h-1zM397.1 419.3h1v.9h-1zM404.3 413.9h1v.9h-1zM396.5 563.8h1v.9h-1zM382.5 502.8h1v.9h-1zM396.2 404.3h1v.9h-1zM393.8 468.4h1v.9h-1zM398.9 520.8h1v.9h-1zM398.3 442.2h1v.9h-1zM393.6 559.0h1v.9h-1zM397.9 401.5h1v.9h-1zM393.5 500.7h1v.9h-1zM385.0 510.0h1v.9h-1zM387.3 436.5h1v.9h-1zM396.8 588.5h1v.9h-1zM387.1 504.6h1v.9h-1zM380.5 425.5h1v.9h-1zM388.7 544.4h1v.9h-1zM391.8 406.0h1v.9h-1zM394.5 530.4h1v.9h-1zM394.7 559.6h1v.9h-1zM389.5 522.2h1v.9h-1zM390.1 405.0h1v.9h-1zM396.2 412.8h1v.9h-1zM398.9 558.7h1v.9h-1zM387.6 561.8h1v.9h-1zM389.3 451.9h1v.9h-1zM390.4 577.3h1v.9h-1zM390.4 555.5h1v.9h-1zM399.2 421.0h1v.9h-1zM394.3 569.1h1v.9h-1zM389.5 403.2h1v.9h-1zM386.8 462.4h1v.9h-1zM397.5 440.4h1v.9h-1zM390.0 440.6h1v.9h-1zM395.8 495.8h1v.9h-1zM402.5 409.3h1v.9h-1zM384.8 584.5h1v.9h-1zM397.0 440.6h1v.9h-1zM396.2 530.5h1v.9h-1zM394.3 467.6h1v.9h-1zM396.1 575.3h1v.9h-1zM393.1 507.3h1v.9h-1zM388.6 495.1h1v.9h-1zM386.7 545.4h1v.9h-1zM389.9 507.6h1v.9h-1zM389.0 486.4h1v.9h-1zM389.6 433.6h1v.9h-1zM389.9 552.9h1v.9h-1zM396.9 520.3h1v.9h-1zM398.5 488.9h1v.9h-1zM394.3 588.8h1v.9h-1zM393.6 489.0h1v.9h-1zM384.4 541.8h1v.9h-1zM381.1 431.8h1v.9h-1zM403.5 469.1h1v.9h-1zM391.3 520.7h1v.9h-1zM392.3 449.8h1v.9h-1zM393.2 590.3h1v.9h-1zM397.3 589.2h1v.9h-1zM399.9 523.4h1v.9h-1zM384.5 537.5h1v.9h-1zM391.2 452.2h1v.9h-1zM397.4 547.6h1v.9h-1zM394.0 564.5h1v.9h-1zM398.3 488.0h1v.9h-1zM396.1 508.3h1v.9h-1zM399.3 525.2h1v.9h-1zM394.8 448.0h1v.9h-1zM396.8 409.3h1v.9h-1zM380.5 435.3h1v.9h-1zM393.7 500.6h1v.9h-1zM387.5 521.8h1v.9h-1zM390.7 563.5h1v.9h-1zM399.0 451.6h1v.9h-1zM386.3 432.5h1v.9h-1zM391.7 480.5h1v.9h-1zM387.5 431.7h1v.9h-1zM389.7 449.9h1v.9h-1zM385.5 493.7h1v.9h-1zM399.6 531.0h1v.9h-1zM386.4 420.7h1v.9h-1zM381.5 433.7h1v.9h-1zM398.5 490.3h1v.9h-1zM387.7 499.8h1v.9h-1zM395.3 434.1h1v.9h-1zM398.3 526.3h1v.9h-1zM384.9 508.1h1v.9h-1zM394.9 584.0h1v.9h-1zM397.4 582.2h1v.9h-1zM393.3 520.1h1v.9h-1zM403.4 417.4h1v.9h-1zM391.9 500.0h1v.9h-1zM397.0 452.3h1v.9h-1zM392.7 453.7h1v.9h-1zM391.1 415.0h1v.9h-1zM391.4 532.2h1v.9h-1zM390.1 525.6h1v.9h-1zM397.4 452.9h1v.9h-1zM388.0 444.5h1v.9h-1zM384.9 589.6h1v.9h-1zM388.9 505.8h1v.9h-1zM397.8 533.4h1v.9h-1zM380.5 447.4h1v.9h-1zM399.0 580.0h1v.9h-1zM382.9 537.4h1v.9h-1zM390.0 497.5h1v.9h-1zM394.5 421.9h1v.9h-1zM392.1 483.7h1v.9h-1zM395.0 405.3h1v.9h-1zM388.9 440.6h1v.9h-1zM384.7 549.4h1v.9h-1zM393.6 421.8h1v.9h-1zM396.2 439.7h1v.9h-1zM397.8 465.6h1v.9h-1zM393.2 584.8h1v.9h-1zM387.6 431.9h1v.9h-1zM388.8 479.9h1v.9h-1zM390.5 502.0h1v.9h-1zM397.0 409.3h1v.9h-1zM395.6 507.8h1v.9h-1zM400.8 413.9h1v.9h-1zM392.4 461.5h1v.9h-1zM386.9 462.0h1v.9h-1zM391.6 590.4h1v.9h-1zM396.2 484.0h1v.9h-1zM387.6 457.6h1v.9h-1zM390.3 463.3h1v.9h-1zM397.4 457.7h1v.9h-1zM390.8 431.4h1v.9h-1zM396.1 460.8h1v.9h-1zM395.7 532.3h1v.9h-1zM394.1 467.7h1v.9h-1zM385.3 444.3h1v.9h-1zM401.3 407.9h1v.9h-1zM387.3 550.6h1v.9h-1zM403.3 457.4h1v.9h-1zM395.5 452.1h1v.9h-1zM392.6 562.1h1v.9h-1zM388.6 585.1h1v.9h-1zM394.3 505.4h1v.9h-1zM397.4 413.8h1v.9h-1zM382.6 559.8h1v.9h-1zM392.6 545.8h1v.9h-1zM392.0 403.9h1v.9h-1zM395.0 455.4h1v.9h-1zM391.7 559.6h1v.9h-1zM387.1 491.2h1v.9h-1zM392.1 434.2h1v.9h-1zM397.2 588.1h1v.9h-1zM391.5 441.0h1v.9h-1zM403.0 435.0h1v.9h-1zM393.5 532.8h1v.9h-1zM383.3 588.5h1v.9h-1zM404.5 535.2h1v.9h-1zM394.5 404.4h1v.9h-1zM393.5 404.5h1v.9h-1zM388.7 441.4h1v.9h-1zM393.0 527.2h1v.9h-1zM393.6 583.2h1v.9h-1zM400.4 422.6h1v.9h-1zM395.8 527.9h1v.9h-1zM398.6 529.1h1v.9h-1zM398.8 406.2h1v.9h-1zM394.5 572.5h1v.9h-1zM393.8 460.3h1v.9h-1zM396.7 471.9h1v.9h-1zM394.8 551.5h1v.9h-1zM394.6 504.0h1v.9h-1zM404.1 519.8h1v.9h-1zM400.1 411.6h1v.9h-1zM394.6 519.1h1v.9h-1zM396.3 429.0h1v.9h-1zM399.0 557.5h1v.9h-1zM394.3 548.0h1v.9h-1zM395.7 524.2h1v.9h-1zM396.7 523.4h1v.9h-1zM387.6 586.5h1v.9h-1zM398.8 558.5h1v.9h-1zM397.5 536.9h1v.9h-1zM392.4 469.1h1v.9h-1zM392.9 403.0h1v.9h-1zM392.8 591.0h1v.9h-1zM401.1 412.8h1v.9h-1zM390.7 408.8h1v.9h-1zM394.2 513.9h1v.9h-1zM402.5 589.5h1v.9h-1zM394.8 485.4h1v.9h-1zM395.4 440.4h1v.9h-1zM393.3 404.2h1v.9h-1zM397.2 431.3h1v.9h-1zM394.9 469.6h1v.9h-1zM400.6 467.0h1v.9h-1zM392.8 451.8h1v.9h-1zM394.3 567.9h1v.9h-1zM399.6 590.9h1v.9h-1zM399.6 586.9h1v.9h-1zM385.9 437.9h1v.9h-1zM395.6 533.3h1v.9h-1zM389.6 431.8h1v.9h-1zM388.5 488.6h1v.9h-1zM392.8 495.9h1v.9h-1zM398.8 460.6h1v.9h-1zM391.1 549.9h1v.9h-1zM383.9 442.4h1v.9h-1zM385.1 553.4h1v.9h-1zM392.8 546.4h1v.9h-1zM394.6 520.4h1v.9h-1zM404.5 415.1h1v.9h-1zM387.9 423.7h1v.9h-1zM384.8 554.1h1v.9h-1zM390.8 583.1h1v.9h-1zM396.1 446.2h1v.9h-1zM393.4 527.5h1v.9h-1zM386.1 544.9h1v.9h-1zM393.4 566.1h1v.9h-1zM388.9 426.5h1v.9h-1zM391.9 439.6h1v.9h-1zM391.1 412.6h1v.9h-1zM391.5 532.6h1v.9h-1zM394.7 468.8h1v.9h-1zM386.1 533.5h1v.9h-1zM396.8 432.0h1v.9h-1zM397.8 522.1h1v.9h-1zM393.6 452.5h1v.9h-1zM385.9 484.1h1v.9h-1zM392.1 513.0h1v.9h-1zM392.3 581.6h1v.9h-1zM384.7 437.1h1v.9h-1zM389.9 549.7h1v.9h-1zM389.0 410.2h1v.9h-1zM394.4 434.3h1v.9h-1zM398.5 533.3h1v.9h-1zM394.4 416.4h1v.9h-1zM392.5 560.7h1v.9h-1zM381.7 569.8h1v.9h-1zM390.7 442.4h1v.9h-1zM386.0 535.2h1v.9h-1zM396.6 524.2h1v.9h-1zM393.5 586.8h1v.9h-1zM390.1 494.9h1v.9h-1zM382.0 470.7h1v.9h-1zM389.5 567.8h1v.9h-1zM390.6 451.4h1v.9h-1zM391.6 574.5h1v.9h-1zM400.4 469.6h1v.9h-1zM389.8 478.1h1v.9h-1zM399.8 559.7h1v.9h-1zM387.9 544.7h1v.9h-1zM386.7 435.7h1v.9h-1zM392.4 526.0h1v.9h-1zM390.2 588.8h1v.9h-1zM393.1 476.8h1v.9h-1zM394.0 506.8h1v.9h-1zM393.1 525.5h1v.9h-1zM397.0 537.7h1v.9h-1zM393.9 475.0h1v.9h-1zM388.8 473.1h1v.9h-1zM393.5 434.3h1v.9h-1zM392.6 519.8h1v.9h-1zM400.6 463.5h1v.9h-1zM399.6 550.4h1v.9h-1zM398.1 409.0h1v.9h-1zM398.7 545.2h1v.9h-1zM397.2 431.1h1v.9h-1zM398.1 566.0h1v.9h-1zM385.3 557.3h1v.9h-1zM395.0 468.4h1v.9h-1zM391.1 419.5h1v.9h-1zM389.6 440.7h1v.9h-1zM390.4 440.2h1v.9h-1zM394.2 586.9h1v.9h-1zM383.2 554.2h1v.9h-1zM395.9 405.1h1v.9h-1zM399.0 402.2h1v.9h-1zM398.2 507.0h1v.9h-1zM395.3 487.1h1v.9h-1zM391.8 505.8h1v.9h-1zM390.5 560.8h1v.9h-1zM384.8 560.1h1v.9h-1zM386.5 426.3h1v.9h-1zM398.9 585.0h1v.9h-1zM400.4 488.0h1v.9h-1zM391.1 490.1h1v.9h-1zM392.7 429.4h1v.9h-1zM398.3 446.1h1v.9h-1zM394.9 436.1h1v.9h-1zM396.5 454.1h1v.9h-1zM400.3 504.2h1v.9h-1zM390.7 449.7h1v.9h-1zM393.6 451.9h1v.9h-1zM395.2 421.7h1v.9h-1zM391.2 413.8h1v.9h-1zM394.9 574.0h1v.9h-1zM392.5 484.1h1v.9h-1zM390.2 486.7h1v.9h-1zM397.4 425.5h1v.9h-1zM388.3 587.9h1v.9h-1zM394.6 403.0h1v.9h-1zM391.3 549.9h1v.9h-1zM395.1 408.9h1v.9h-1zM397.3 455.5h1v.9h-1zM387.9 493.2h1v.9h-1zM390.1 487.3h1v.9h-1zM384.1 534.7h1v.9h-1zM386.9 509.2h1v.9h-1zM389.5 534.2h1v.9h-1zM395.4 413.3h1v.9h-1zM396.9 456.4h1v.9h-1zM380.5 452.8h1v.9h-1zM390.0 492.3h1v.9h-1zM396.3 480.4h1v.9h-1zM393.1 421.2h1v.9h-1zM390.3 425.1h1v.9h-1zM392.2 412.2h1v.9h-1zM392.7 411.0h1v.9h-1zM397.8 523.8h1v.9h-1zM399.2 584.1h1v.9h-1zM393.9 513.6h1v.9h-1zM389.1 438.2h1v.9h-1zM395.0 516.9h1v.9h-1zM392.1 494.9h1v.9h-1zM391.9 454.5h1v.9h-1zM392.7 553.7h1v.9h-1zM389.7 450.7h1v.9h-1zM394.4 458.9h1v.9h-1zM396.3 409.3h1v.9h-1zM385.0 446.7h1v.9h-1zM403.8 576.3h1v.9h-1zM388.5 491.8h1v.9h-1zM395.6 539.4h1v.9h-1zM390.9 493.9h1v.9h-1zM389.5 451.1h1v.9h-1zM395.5 468.1h1v.9h-1zM380.5 497.5h1v.9h-1zM395.2 459.3h1v.9h-1zM390.2 498.7h1v.9h-1zM396.3 405.4h1v.9h-1zM386.5 474.4h1v.9h-1zM395.0 422.6h1v.9h-1zM385.4 491.7h1v.9h-1zM396.8 501.6h1v.9h-1zM398.8 574.1h1v.9h-1zM388.7 566.7h1v.9h-1zM391.6 570.7h1v.9h-1zM392.3 485.3h1v.9h-1zM391.1 456.8h1v.9h-1zM387.7 562.0h1v.9h-1zM397.7 423.3h1v.9h-1zM404.5 472.9h1v.9h-1zM386.6 412.4h1v.9h-1zM393.9 555.3h1v.9h-1zM389.6 542.5h1v.9h-1zM390.1 577.0h1v.9h-1zM393.7 436.0h1v.9h-1zM390.1 559.9h1v.9h-1zM394.3 533.4h1v.9h-1zM385.1 504.3h1v.9h-1zM399.8 485.0h1v.9h-1zM384.5 554.0h1v.9h-1zM397.7 490.6h1v.9h-1zM399.2 580.7h1v.9h-1zM391.5 576.8h1v.9h-1zM404.5 470.5h1v.9h-1zM385.7 503.2h1v.9h-1zM398.6 482.4h1v.9h-1zM394.7 572.2h1v.9h-1zM396.2 563.2h1v.9h-1zM392.7 476.9h1v.9h-1zM393.1 470.6h1v.9h-1zM396.6 461.0h1v.9h-1zM399.1 527.1h1v.9h-1zM390.9 527.3h1v.9h-1zM389.7 518.8h1v.9h-1zM388.0 499.8h1v.9h-1zM399.0 528.5h1v.9h-1zM391.0 401.8h1v.9h-1zM386.5 491.7h1v.9h-1zM392.5 532.6h1v.9h-1zM386.4 539.5h1v.9h-1zM401.4 555.8h1v.9h-1zM388.2 443.6h1v.9h-1zM390.7 577.0h1v.9h-1zM400.1 585.1h1v.9h-1zM398.2 518.7h1v.9h-1zM396.3 556.9h1v.9h-1zM392.4 438.1h1v.9h-1zM392.1 436.4h1v.9h-1zM395.5 442.0h1v.9h-1zM392.2 502.2h1v.9h-1zM397.2 570.7h1v.9h-1zM392.9 467.3h1v.9h-1zM395.8 578.3h1v.9h-1zM391.6 558.8h1v.9h-1zM402.2 409.0h1v.9h-1zM401.8 406.2h1v.9h-1zM398.9 590.6h1v.9h-1zM388.4 495.8h1v.9h-1zM392.7 548.9h1v.9h-1zM393.4 564.6h1v.9h-1zM389.9 458.4h1v.9h-1zM394.4 403.5h1v.9h-1zM393.2 565.6h1v.9h-1zM399.6 578.0h1v.9h-1zM403.4 476.6h1v.9h-1zM390.1 526.4h1v.9h-1zM394.6 402.8h1v.9h-1zM393.4 579.5h1v.9h-1zM393.5 517.0h1v.9h-1zM399.6 586.8h1v.9h-1zM401.4 531.7h1v.9h-1zM392.2 469.0h1v.9h-1zM388.3 434.8h1v.9h-1zM393.6 498.5h1v.9h-1zM390.1 565.2h1v.9h-1zM384.2 502.3h1v.9h-1zM394.4 503.3h1v.9h-1zM393.4 442.5h1v.9h-1zM389.1 428.6h1v.9h-1zM394.8 445.9h1v.9h-1zM393.9 458.5h1v.9h-1zM390.7 490.4h1v.9h-1zM400.4 580.0h1v.9h-1zM387.8 452.3h1v.9h-1zM389.3 444.1h1v.9h-1zM384.4 541.6h1v.9h-1zM396.6 579.2h1v.9h-1zM391.6 445.5h1v.9h-1zM398.9 457.5h1v.9h-1zM389.0 479.5h1v.9h-1zM386.5 412.2h1v.9h-1zM394.1 418.3h1v.9h-1zM396.5 505.6h1v.9h-1zM388.5 447.4h1v.9h-1zM392.2 445.0h1v.9h-1zM380.5 554.0h1v.9h-1zM390.3 492.3h1v.9h-1zM393.7 508.0h1v.9h-1zM403.4 525.5h1v.9h-1zM396.0 542.0h1v.9h-1zM391.5 576.0h1v.9h-1zM393.3 585.3h1v.9h-1zM395.3 421.9h1v.9h-1zM383.8 541.6h1v.9h-1zM392.1 405.3h1v.9h-1zM390.6 423.3h1v.9h-1zM394.7 449.3h1v.9h-1zM394.0 425.3h1v.9h-1zM389.5 429.6h1v.9h-1zM384.5 445.0h1v.9h-1zM388.2 555.3h1v.9h-1zM387.3 550.4h1v.9h-1zM390.8 496.1h1v.9h-1zM388.9 505.3h1v.9h-1zM389.4 543.0h1v.9h-1zM390.0 513.1h1v.9h-1zM387.7 415.3h1v.9h-1zM394.0 488.1h1v.9h-1zM383.7 439.2h1v.9h-1zM393.8 490.2h1v.9h-1zM396.9 586.7h1v.9h-1zM387.8 438.1h1v.9h-1zM389.2 462.0h1v.9h-1zM397.3 511.4h1v.9h-1zM391.9 526.1h1v.9h-1zM395.9 458.8h1v.9h-1zM394.7 475.8h1v.9h-1zM396.3 495.5h1v.9h-1zM396.6 577.6h1v.9h-1zM394.4 410.0h1v.9h-1zM395.1 570.1h1v.9h-1zM393.9 506.7h1v.9h-1zM393.9 575.1h1v.9h-1zM389.7 474.9h1v.9h-1zM401.3 524.4h1v.9h-1zM393.4 405.0h1v.9h-1zM388.4 443.0h1v.9h-1zM399.7 524.1h1v.9h-1zM393.7 463.3h1v.9h-1zM393.3 499.2h1v.9h-1zM390.0 587.7h1v.9h-1zM385.9 507.3h1v.9h-1zM385.7 528.0h1v.9h-1zM398.2 508.0h1v.9h-1zM394.3 448.6h1v.9h-1zM384.2 588.3h1v.9h-1zM388.2 473.0h1v.9h-1zM391.9 405.1h1v.9h-1zM390.7 481.6h1v.9h-1zM396.9 479.5h1v.9h-1zM395.4 439.8h1v.9h-1zM394.8 482.0h1v.9h-1zM398.4 414.4h1v.9h-1zM397.8 579.8h1v.9h-1zM390.6 499.8h1v.9h-1zM395.5 455.2h1v.9h-1zM398.6 504.9h1v.9h-1zM384.1 513.2h1v.9h-1zM394.0 474.7h1v.9h-1zM387.6 554.7h1v.9h-1zM398.4 487.3h1v.9h-1zM382.5 576.3h1v.9h-1zM398.7 546.5h1v.9h-1zM396.6 532.5h1v.9h-1zM390.1 431.6h1v.9h-1zM390.0 534.6h1v.9h-1zM398.0 587.1h1v.9h-1zM385.3 555.4h1v.9h-1zM396.1 408.9h1v.9h-1zM392.6 454.6h1v.9h-1zM391.7 401.0h1v.9h-1zM389.8 527.2h1v.9h-1zM387.1 569.4h1v.9h-1zM391.2 531.3h1v.9h-1zM396.7 527.0h1v.9h-1zM391.8 503.8h1v.9h-1zM398.6 539.6h1v.9h-1z" fill="#ee9a50" opacity="0.35"/>
<path d="M395.5 602.2h1v.9h-1zM395.4 615.4h1v.9h-1zM392.7 597.0h1v.9h-1zM386.7 604.0h1v.9h-1zM404.5 607.7h1v.9h-1zM399.2 620.5h1v.9h-1zM393.1 596.9h1v.9h-1zM397.0 605.2h1v.9h-1zM390.5 603.0h1v.9h-1zM387.2 596.4h1v.9h-1zM391.8 598.0h1v.9h-1zM401.5 625.7h1v.9h-1zM394.6 592.1h1v.9h-1zM390.4 620.0h1v.9h-1zM400.2 609.1h1v.9h-1zM395.0 606.0h1v.9h-1zM392.2 617.5h1v.9h-1zM392.5 620.6h1v.9h-1zM397.0 620.6h1v.9h-1zM394.0 598.7h1v.9h-1zM398.6 625.7h1v.9h-1zM400.1 625.6h1v.9h-1zM393.9 592.4h1v.9h-1zM395.5 596.0h1v.9h-1zM387.0 617.7h1v.9h-1zM404.2 598.1h1v.9h-1zM388.0 597.4h1v.9h-1zM396.8 594.0h1v.9h-1zM394.5 593.3h1v.9h-1zM396.9 625.1h1v.9h-1zM398.6 606.7h1v.9h-1zM392.1 610.8h1v.9h-1zM395.6 623.3h1v.9h-1zM388.6 624.5h1v.9h-1zM391.9 624.5h1v.9h-1zM399.5 602.3h1v.9h-1zM398.9 614.8h1v.9h-1zM392.7 595.2h1v.9h-1zM387.2 599.0h1v.9h-1zM397.5 625.0h1v.9h-1zM387.8 618.5h1v.9h-1zM396.9 602.6h1v.9h-1zM390.6 618.4h1v.9h-1zM385.2 602.8h1v.9h-1zM389.5 607.2h1v.9h-1zM398.6 608.1h1v.9h-1zM385.3 596.9h1v.9h-1zM389.6 599.2h1v.9h-1zM397.2 599.0h1v.9h-1zM397.3 623.6h1v.9h-1zM394.5 618.1h1v.9h-1zM398.2 601.6h1v.9h-1zM396.2 616.0h1v.9h-1zM394.7 603.9h1v.9h-1zM395.7 602.3h1v.9h-1zM392.0 608.8h1v.9h-1zM390.9 595.5h1v.9h-1zM396.6 609.2h1v.9h-1zM393.0 625.5h1v.9h-1zM388.2 613.2h1v.9h-1zM389.9 601.5h1v.9h-1zM396.6 595.2h1v.9h-1zM386.9 619.0h1v.9h-1zM394.1 594.7h1v.9h-1zM403.7 604.3h1v.9h-1zM395.0 616.6h1v.9h-1zM395.9 598.0h1v.9h-1zM390.2 618.5h1v.9h-1zM391.1 592.0h1v.9h-1zM398.6 611.8h1v.9h-1zM389.8 598.6h1v.9h-1zM394.2 623.5h1v.9h-1zM396.5 602.8h1v.9h-1zM390.4 603.5h1v.9h-1zM390.2 624.6h1v.9h-1zM397.1 592.6h1v.9h-1zM388.9 612.8h1v.9h-1zM397.8 603.3h1v.9h-1zM392.0 597.1h1v.9h-1zM387.8 623.0h1v.9h-1z" fill="#ee9a50" opacity="0.3"/>
<text x="393.00" y="399.30" font-size="5.9" text-anchor="middle" fill="#222" stroke="#222" stroke-width="0.15">RNAPolII</text>
<path d="M427.4 400.6h.8v1h-.8zM427.4 402.5h.8v1h-.8zM427.4 404.4h.8v1h-.8zM427.4 406.3h.8v1h-.8zM427.4 408.2h.8v1h-.8zM427.4 410.1h.8v1h-.8zM427.4 412.0h.8v1h-.8zM427.4 413.9h.8v1h-.8zM427.4 415.8h.8v1h-.8zM427.4 417.7h.8v1h-.8zM427.4 419.6h.8v1h-.8zM427.4 421.5h.8v1h-.8zM427.4 423.4h.8v1h-.8zM427.4 425.3h.8v1h-.8zM427.4 427.2h.8v1h-.8zM427.4 429.1h.8v1h-.8zM427.4 431.0h.8v1h-.8zM427.4 432.9h.8v1h-.8zM427.4 434.8h.8v1h-.8zM427.4 436.7h.8v1h-.8zM427.4 438.6h.8v1h-.8zM427.4 440.5h.8v1h-.8zM427.4 442.4h.8v1h-.8zM427.4 444.3h.8v1h-.8zM427.4 446.2h.8v1h-.8zM427.4 448.1h.8v1h-.8zM427.4 450.0h.8v1h-.8zM427.4 451.9h.8v1h-.8zM427.4 453.8h.8v1h-.8zM427.4 455.7h.8v1h-.8zM427.4 457.6h.8v1h-.8zM427.4 459.5h.8v1h-.8zM427.4 461.4h.8v1h-.8zM427.4 463.3h.8v1h-.8zM427.4 465.2h.8v1h-.8zM427.4 467.1h.8v1h-.8zM427.4 469.0h.8v1h-.8zM427.4 470.9h.8v1h-.8zM427.4 472.8h.8v1h-.8zM427.4 474.7h.8v1h-.8zM427.4 476.6h.8v1h-.8zM427.4 478.5h.8v1h-.8zM427.4 480.4h.8v1h-.8zM427.4 482.3h.8v1h-.8zM427.4 484.2h.8v1h-.8zM427.4 486.1h.8v1h-.8zM427.4 488.0h.8v1h-.8zM427.4 489.9h.8v1h-.8zM427.4 491.8h.8v1h-.8zM427.4 493.7h.8v1h-.8zM427.4 495.6h.8v1h-.8zM427.4 497.5h.8v1h-.8zM427.4 499.4h.8v1h-.8zM427.4 501.3h.8v1h-.8zM427.4 503.2h.8v1h-.8zM427.4 505.1h.8v1h-.8zM427.4 507.0h.8v1h-.8zM427.4 508.9h.8v1h-.8zM427.4 510.8h.8v1h-.8zM427.4 512.7h.8v1h-.8zM427.4 514.6h.8v1h-.8zM427.4 516.5h.8v1h-.8zM427.4 518.4h.8v1h-.8zM427.4 520.3h.8v1h-.8zM427.4 522.2h.8v1h-.8zM427.4 524.1h.8v1h-.8zM427.4 526.0h.8v1h-.8zM427.4 527.9h.8v1h-.8zM427.4 529.8h.8v1h-.8zM427.4 531.7h.8v1h-.8zM427.4 533.6h.8v1h-.8zM427.4 535.5h.8v1h-.8zM427.4 537.4h.8v1h-.8zM427.4 539.3h.8v1h-.8zM427.4 541.2h.8v1h-.8zM427.4 543.1h.8v1h-.8zM427.4 545.0h.8v1h-.8zM427.4 546.9h.8v1h-.8zM427.4 548.8h.8v1h-.8zM427.4 550.7h.8v1h-.8zM427.4 552.6h.8v1h-.8zM427.4 554.5h.8v1h-.8zM427.4 556.4h.8v1h-.8zM427.4 558.3h.8v1h-.8zM427.4 560.2h.8v1h-.8zM427.4 562.1h.8v1h-.8zM427.4 564.0h.8v1h-.8zM427.4 565.9h.8v1h-.8zM427.4 567.8h.8v1h-.8zM427.4 569.7h.8v1h-.8zM427.4 571.6h.8v1h-.8zM427.4 573.5h.8v1h-.8zM427.4 575.4h.8v1h-.8zM427.4 577.3h.8v1h-.8zM427.4 579.2h.8v1h-.8zM427.4 581.1h.8v1h-.8zM427.4 583.0h.8v1h-.8zM427.4 584.9h.8v1h-.8zM427.4 586.8h.8v1h-.8zM427.4 588.7h.8v1h-.8zM427.4 590.6h.8v1h-.8zM427.4 592.5h.8v1h-.8zM427.4 594.4h.8v1h-.8zM427.4 596.3h.8v1h-.8zM427.4 598.2h.8v1h-.8zM427.4 600.1h.8v1h-.8zM427.4 602.0h.8v1h-.8zM427.4 603.9h.8v1h-.8zM427.4 605.8h.8v1h-.8zM427.4 607.7h.8v1h-.8zM427.4 609.6h.8v1h-.8zM427.4 611.5h.8v1h-.8zM427.4 613.4h.8v1h-.8zM427.4 615.3h.8v1h-.8zM427.4 617.2h.8v1h-.8zM427.4 619.1h.8v1h-.8zM427.4 621.0h.8v1h-.8zM427.4 622.9h.8v1h-.8zM427.4 624.8h.8v1h-.8z" fill="#c8c8c8"/>
<text x="427.80" y="392.00" font-size="6.0" text-anchor="middle" fill="#222" stroke="#222" stroke-width="0.15">Housekeeping</text>
<text x="427.80" y="398.60" font-size="6.0" text-anchor="middle" fill="#222" stroke="#222" stroke-width="0.15">enhancer</text>
<line x1="23.80" y1="421.50" x2="443.50" y2="421.50" stroke="#a0a0a0" stroke-width="0.85" stroke-dasharray="4.2 2.456" stroke-dashoffset="2.95"/>
<line x1="23.80" y1="487.50" x2="443.50" y2="487.50" stroke="#a0a0a0" stroke-width="0.85" stroke-dasharray="4.2 2.456" stroke-dashoffset="2.95"/>
<line x1="23.80" y1="496.50" x2="443.50" y2="496.50" stroke="#a0a0a0" stroke-width="0.85" stroke-dasharray="4.2 2.456" stroke-dashoffset="2.95"/>
<line x1="23.80" y1="545.50" x2="443.50" y2="545.50" stroke="#a0a0a0" stroke-width="0.85" stroke-dasharray="4.2 2.456" stroke-dashoffset="2.95"/>
<line x1="23.80" y1="566.50" x2="443.50" y2="566.50" stroke="#a0a0a0" stroke-width="0.85" stroke-dasharray="4.2 2.456" stroke-dashoffset="2.95"/>
<line x1="23.80" y1="602.50" x2="443.50" y2="602.50" stroke="#a0a0a0" stroke-width="0.85" stroke-dasharray="4.2 2.456" stroke-dashoffset="2.95"/>
<line x1="23.80" y1="611.50" x2="443.50" y2="611.50" stroke="#a0a0a0" stroke-width="0.85" stroke-dasharray="4.2 2.456" stroke-dashoffset="2.95"/>
<line x1="24.00" y1="591.90" x2="443.50" y2="591.90" stroke="#bdbdbd" stroke-width="1.4"/>
<rect x="27.50" y="400.5" width="111.00" height="226" fill="none" stroke="#3a3a3a" stroke-width="1"/>
<rect x="151.50" y="400.5" width="140.00" height="226" fill="none" stroke="#3a3a3a" stroke-width="1"/>
<rect x="300.50" y="400.5" width="71.00" height="226" fill="none" stroke="#3a3a3a" stroke-width="1"/>
<rect x="380.50" y="400.5" width="25.00" height="226" fill="none" stroke="#3a3a3a" stroke-width="1"/>
<rect x="414.50" y="400.5" width="26.00" height="226" fill="none" stroke="#3a3a3a" stroke-width="1"/>
<defs><linearGradient id="cb0" x1="0" x2="1"><stop offset="0" stop-color="#eff9ee"/><stop offset="1" stop-color="#3cb428"/></linearGradient></defs>
<rect x="27.40" y="629.3" width="13.85" height="5.3" fill="url(#cb0)" stroke="#111" stroke-width="0.6"/>
<text x="30.60" y="636.30" font-size="4.0" text-anchor="end" fill="#555" stroke="#555" stroke-width="0.15" transform="rotate(-90 30.599999999999998 636.3)">-3.0</text>
<text x="34.80" y="636.30" font-size="4.0" text-anchor="end" fill="#555" stroke="#555" stroke-width="0.15" transform="rotate(-90 34.8 636.3)">-2</text>
<text x="39.00" y="636.30" font-size="4.0" text-anchor="end" fill="#555" stroke="#555" stroke-width="0.15" transform="rotate(-90 39.0 636.3)">-1</text>
<defs><linearGradient id="cb1" x1="0" x2="1"><stop offset="0" stop-color="#f9f2ee"/><stop offset="1" stop-color="#b25a28"/></linearGradient></defs>
<rect x="41.25" y="629.3" width="13.85" height="5.3" fill="url(#cb1)" stroke="#111" stroke-width="0.6"/>
<text x="44.45" y="636.30" font-size="4.0" text-anchor="end" fill="#555" stroke="#555" stroke-width="0.15" transform="rotate(-90 44.45 636.3)">-3.0</text>
<text x="48.65" y="636.30" font-size="4.0" text-anchor="end" fill="#555" stroke="#555" stroke-width="0.15" transform="rotate(-90 48.650000000000006 636.3)">-2</text>
<text x="52.85" y="636.30" font-size="4.0" text-anchor="end" fill="#555" stroke="#555" stroke-width="0.15" transform="rotate(-90 52.85 636.3)">-1</text>
<defs><linearGradient id="cb2" x1="0" x2="1"><stop offset="0" stop-color="#f0f4fa"/><stop offset="1" stop-color="#427ac2"/></linearGradient></defs>
<rect x="55.10" y="629.3" width="13.85" height="5.3" fill="url(#cb2)" stroke="#111" stroke-width="0.6"/>
<text x="58.30" y="636.30" font-size="4.0" text-anchor="end" fill="#555" stroke="#555" stroke-width="0.15" transform="rotate(-90 58.3 636.3)">-3.0</text>
<text x="62.50" y="636.30" font-size="4.0" text-anchor="end" fill="#555" stroke="#555" stroke-width="0.15" transform="rotate(-90 62.5 636.3)">-2</text>
<text x="66.70" y="636.30" font-size="4.0" text-anchor="end" fill="#555" stroke="#555" stroke-width="0.15" transform="rotate(-90 66.7 636.3)">-1</text>
<defs><linearGradient id="cb3" x1="0" x2="1"><stop offset="0" stop-color="#fdf0ef"/><stop offset="1" stop-color="#e84238"/></linearGradient></defs>
<rect x="68.95" y="629.3" width="13.85" height="5.3" fill="url(#cb3)" stroke="#111" stroke-width="0.6"/>
<text x="72.15" y="636.30" font-size="4.0" text-anchor="end" fill="#555" stroke="#555" stroke-width="0.15" transform="rotate(-90 72.14999999999999 636.3)">-3.0</text>
<text x="76.35" y="636.30" font-size="4.0" text-anchor="end" fill="#555" stroke="#555" stroke-width="0.15" transform="rotate(-90 76.35 636.3)">-2</text>
<text x="80.55" y="636.30" font-size="4.0" text-anchor="end" fill="#555" stroke="#555" stroke-width="0.15" transform="rotate(-90 80.55 636.3)">-1</text>
<defs><linearGradient id="cb4" x1="0" x2="1"><stop offset="0" stop-color="#f9f2fb"/><stop offset="1" stop-color="#b258c8"/></linearGradient></defs>
<rect x="82.80" y="629.3" width="13.85" height="5.3" fill="url(#cb4)" stroke="#111" stroke-width="0.6"/>
<text x="86.00" y="636.30" font-size="4.0" text-anchor="end" fill="#555" stroke="#555" stroke-width="0.15" transform="rotate(-90 86.0 636.3)">-3.0</text>
<text x="90.20" y="636.30" font-size="4.0" text-anchor="end" fill="#555" stroke="#555" stroke-width="0.15" transform="rotate(-90 90.2 636.3)">-2</text>
<text x="94.40" y="636.30" font-size="4.0" text-anchor="end" fill="#555" stroke="#555" stroke-width="0.15" transform="rotate(-90 94.4 636.3)">-1</text>
<defs><linearGradient id="cb5" x1="0" x2="1"><stop offset="0" stop-color="#fceef6"/><stop offset="1" stop-color="#de2a8a"/></linearGradient></defs>
<rect x="96.65" y="629.3" width="13.85" height="5.3" fill="url(#cb5)" stroke="#111" stroke-width="0.6"/>
<text x="99.85" y="636.30" font-size="4.0" text-anchor="end" fill="#555" stroke="#555" stroke-width="0.15" transform="rotate(-90 99.85000000000001 636.3)">-3.0</text>
<text x="104.05" y="636.30" font-size="4.0" text-anchor="end" fill="#555" stroke="#555" stroke-width="0.15" transform="rotate(-90 104.05000000000001 636.3)">-2</text>
<text x="108.25" y="636.30" font-size="4.0" text-anchor="end" fill="#555" stroke="#555" stroke-width="0.15" transform="rotate(-90 108.25000000000001 636.3)">-1</text>
<defs><linearGradient id="cb6" x1="0" x2="1"><stop offset="0" stop-color="#eff4fa"/><stop offset="1" stop-color="#3a76bc"/></linearGradient></defs>
<rect x="110.50" y="629.3" width="13.85" height="5.3" fill="url(#cb6)" stroke="#111" stroke-width="0.6"/>
<text x="113.70" y="636.30" font-size="4.0" text-anchor="end" fill="#555" stroke="#555" stroke-width="0.15" transform="rotate(-90 113.7 636.3)">-3.0</text>
<text x="117.90" y="636.30" font-size="4.0" text-anchor="end" fill="#555" stroke="#555" stroke-width="0.15" transform="rotate(-90 117.9 636.3)">-2</text>
<text x="122.10" y="636.30" font-size="4.0" text-anchor="end" fill="#555" stroke="#555" stroke-width="0.15" transform="rotate(-90 122.10000000000001 636.3)">-1</text>
<defs><linearGradient id="cb7" x1="0" x2="1"><stop offset="0" stop-color="#eef8f4"/><stop offset="1" stop-color="#2ca674"/></linearGradient></defs>
<rect x="124.35" y="629.3" width="13.85" height="5.3" fill="url(#cb7)" stroke="#111" stroke-width="0.6"/>
<text x="127.55" y="636.30" font-size="4.0" text-anchor="end" fill="#555" stroke="#555" stroke-width="0.15" transform="rotate(-90 127.55 636.3)">-3.0</text>
<text x="131.75" y="636.30" font-size="4.0" text-anchor="end" fill="#555" stroke="#555" stroke-width="0.15" transform="rotate(-90 131.75 636.3)">-2</text>
<text x="135.95" y="636.30" font-size="4.0" text-anchor="end" fill="#555" stroke="#555" stroke-width="0.15" transform="rotate(-90 135.95 636.3)">-1</text>
<defs><linearGradient id="cc0" x1="0" x2="1"><stop offset="0" stop-color="#f2faef"/><stop offset="1" stop-color="#5abe3c"/></linearGradient></defs>
<rect x="151.50" y="629.9" width="23.33" height="5.6" fill="url(#cc0)" stroke="#111" stroke-width="0.6"/>
<text x="157.00" y="637.60" font-size="4.0" text-anchor="end" fill="#555" stroke="#555" stroke-width="0.15" transform="rotate(-90 157.0 637.6)">4</text>
<text x="163.00" y="637.60" font-size="4.0" text-anchor="end" fill="#555" stroke="#555" stroke-width="0.15" transform="rotate(-90 163.0 637.6)">8</text>
<text x="169.00" y="637.60" font-size="4.0" text-anchor="end" fill="#555" stroke="#555" stroke-width="0.15" transform="rotate(-90 169.0 637.6)">12</text>
<defs><linearGradient id="cc1" x1="0" x2="1"><stop offset="0" stop-color="#f7f1ed"/><stop offset="1" stop-color="#a05223"/></linearGradient></defs>
<rect x="174.83" y="629.9" width="23.33" height="5.6" fill="url(#cc1)" stroke="#111" stroke-width="0.6"/>
<text x="180.33" y="637.60" font-size="4.0" text-anchor="end" fill="#555" stroke="#555" stroke-width="0.15" transform="rotate(-90 180.33333333333334 637.6)">4</text>
<text x="186.33" y="637.60" font-size="4.0" text-anchor="end" fill="#555" stroke="#555" stroke-width="0.15" transform="rotate(-90 186.33333333333334 637.6)">8</text>
<text x="192.33" y="637.60" font-size="4.0" text-anchor="end" fill="#555" stroke="#555" stroke-width="0.15" transform="rotate(-90 192.33333333333334 637.6)">12</text>
<defs><linearGradient id="cc2" x1="0" x2="1"><stop offset="0" stop-color="#f1f5fb"/><stop offset="1" stop-color="#5082c8"/></linearGradient></defs>
<rect x="198.17" y="629.9" width="23.33" height="5.6" fill="url(#cc2)" stroke="#111" stroke-width="0.6"/>
<text x="203.67" y="637.60" font-size="4.0" text-anchor="end" fill="#555" stroke="#555" stroke-width="0.15" transform="rotate(-90 203.66666666666666 637.6)">4</text>
<text x="209.67" y="637.60" font-size="4.0" text-anchor="end" fill="#555" stroke="#555" stroke-width="0.15" transform="rotate(-90 209.66666666666666 637.6)">8</text>
<text x="215.67" y="637.60" font-size="4.0" text-anchor="end" fill="#555" stroke="#555" stroke-width="0.15" transform="rotate(-90 215.66666666666666 637.6)">12</text>
<defs><linearGradient id="cc3" x1="0" x2="1"><stop offset="0" stop-color="#fceef6"/><stop offset="1" stop-color="#de2a8a"/></linearGradient></defs>
<rect x="221.50" y="629.9" width="23.33" height="5.6" fill="url(#cc3)" stroke="#111" stroke-width="0.6"/>
<text x="227.00" y="637.60" font-size="4.0" text-anchor="end" fill="#555" stroke="#555" stroke-width="0.15" transform="rotate(-90 227.0 637.6)">4</text>
<text x="233.00" y="637.60" font-size="4.0" text-anchor="end" fill="#555" stroke="#555" stroke-width="0.15" transform="rotate(-90 233.0 637.6)">8</text>
<text x="239.00" y="637.60" font-size="4.0" text-anchor="end" fill="#555" stroke="#555" stroke-width="0.15" transform="rotate(-90 239.0 637.6)">12</text>
<defs><linearGradient id="cc4" x1="0" x2="1"><stop offset="0" stop-color="#f1f5fb"/><stop offset="1" stop-color="#5082c8"/></linearGradient></defs>
<rect x="244.83" y="629.9" width="23.33" height="5.6" fill="url(#cc4)" stroke="#111" stroke-width="0.6"/>
<text x="250.33" y="637.60" font-size="4.0" text-anchor="end" fill="#555" stroke="#555" stroke-width="0.15" transform="rotate(-90 250.33333333333331 637.6)">4</text>
<text x="256.33" y="637.60" font-size="4.0" text-anchor="end" fill="#555" stroke="#555" stroke-width="0.15" transform="rotate(-90 256.3333333333333 637.6)">8</text>
<text x="262.33" y="637.60" font-size="4.0" text-anchor="end" fill="#555" stroke="#555" stroke-width="0.15" transform="rotate(-90 262.3333333333333 637.6)">12</text>
<defs><linearGradient id="cc5" x1="0" x2="1"><stop offset="0" stop-color="#eef8f4"/><stop offset="1" stop-color="#2ca674"/></linearGradient></defs>
<rect x="268.17" y="629.9" width="23.33" height="5.6" fill="url(#cc5)" stroke="#111" stroke-width="0.6"/>
<text x="273.67" y="637.60" font-size="4.0" text-anchor="end" fill="#555" stroke="#555" stroke-width="0.15" transform="rotate(-90 273.66666666666663 637.6)">4</text>
<text x="279.67" y="637.60" font-size="4.0" text-anchor="end" fill="#555" stroke="#555" stroke-width="0.15" transform="rotate(-90 279.66666666666663 637.6)">8</text>
<text x="285.67" y="637.60" font-size="4.0" text-anchor="end" fill="#555" stroke="#555" stroke-width="0.15" transform="rotate(-90 285.66666666666663 637.6)">12</text>
<defs><linearGradient id="cd0" x1="0" x2="1"><stop offset="0" stop-color="#f0f3f9"/><stop offset="1" stop-color="#466eb4"/></linearGradient></defs>
<rect x="300.50" y="629.9" width="23.67" height="5.6" fill="url(#cd0)" stroke="#111" stroke-width="0.6"/>
<text x="306.00" y="637.60" font-size="4.0" text-anchor="end" fill="#555" stroke="#555" stroke-width="0.15" transform="rotate(-90 306.0 637.6)">2</text>
<text x="312.00" y="637.60" font-size="4.0" text-anchor="end" fill="#555" stroke="#555" stroke-width="0.15" transform="rotate(-90 312.0 637.6)">4</text>
<text x="318.00" y="637.60" font-size="4.0" text-anchor="end" fill="#555" stroke="#555" stroke-width="0.15" transform="rotate(-90 318.0 637.6)">6</text>
<defs><linearGradient id="cd1" x1="0" x2="1"><stop offset="0" stop-color="#f0f3f9"/><stop offset="1" stop-color="#466eb4"/></linearGradient></defs>
<rect x="324.17" y="629.9" width="23.67" height="5.6" fill="url(#cd1)" stroke="#111" stroke-width="0.6"/>
<text x="329.67" y="637.60" font-size="4.0" text-anchor="end" fill="#555" stroke="#555" stroke-width="0.15" transform="rotate(-90 329.6666666666667 637.6)">2</text>
<text x="335.67" y="637.60" font-size="4.0" text-anchor="end" fill="#555" stroke="#555" stroke-width="0.15" transform="rotate(-90 335.6666666666667 637.6)">4</text>
<text x="341.67" y="637.60" font-size="4.0" text-anchor="end" fill="#555" stroke="#555" stroke-width="0.15" transform="rotate(-90 341.6666666666667 637.6)">6</text>
<defs><linearGradient id="cd2" x1="0" x2="1"><stop offset="0" stop-color="#f0f3f9"/><stop offset="1" stop-color="#466eb4"/></linearGradient></defs>
<rect x="347.83" y="629.9" width="23.67" height="5.6" fill="url(#cd2)" stroke="#111" stroke-width="0.6"/>
<text x="353.33" y="637.60" font-size="4.0" text-anchor="end" fill="#555" stroke="#555" stroke-width="0.15" transform="rotate(-90 353.3333333333333 637.6)">2</text>
<text x="359.33" y="637.60" font-size="4.0" text-anchor="end" fill="#555" stroke="#555" stroke-width="0.15" transform="rotate(-90 359.3333333333333 637.6)">4</text>
<text x="365.33" y="637.60" font-size="4.0" text-anchor="end" fill="#555" stroke="#555" stroke-width="0.15" transform="rotate(-90 365.3333333333333 637.6)">6</text>
<defs><linearGradient id="cpol" x1="0" x2="1"><stop offset="0" stop-color="#fff7dc"/><stop offset="0.5" stop-color="#f9a64a"/><stop offset="1" stop-color="#d8401a"/></linearGradient></defs>
<rect x="380.50" y="629.9" width="25.00" height="5.6" fill="url(#cpol)" stroke="#111" stroke-width="0.6"/>
<text x="386.00" y="637.60" font-size="4.0" text-anchor="end" fill="#555" stroke="#555" stroke-width="0.15" transform="rotate(-90 386.0 637.6)">3</text>
<text x="393.00" y="637.60" font-size="4.0" text-anchor="end" fill="#555" stroke="#555" stroke-width="0.15" transform="rotate(-90 393.0 637.6)">6</text>
<text x="400.00" y="637.60" font-size="4.0" text-anchor="end" fill="#555" stroke="#555" stroke-width="0.15" transform="rotate(-90 400.0 637.6)">9</text>
<line x1="151.20" y1="641.00" x2="151.20" y2="646.20" stroke="#333" stroke-width="0.7"/>
<line x1="151.20" y1="646.20" x2="173.80" y2="646.20" stroke="#333" stroke-width="0.7"/>
<line x1="173.80" y1="641.00" x2="173.80" y2="646.20" stroke="#333" stroke-width="0.7"/>
<text x="162.40" y="655.30" font-size="6.4" text-anchor="middle" fill="#222" stroke="#222" stroke-width="0.15">10 kbp</text>
<text x="90.00" y="654.90" font-size="6.5" text-anchor="middle" fill="#222" stroke="#222" stroke-width="0.15">Log(TRAP score)</text>
<text x="231.20" y="655.00" font-size="6.6" text-anchor="middle" fill="#222" stroke="#222" stroke-width="0.15">Log2(ChIP / Input)</text>
<text x="334.00" y="655.20" font-size="6.6" text-anchor="middle" fill="#222" stroke="#222" stroke-width="0.15">Log2(ChIP / input)</text>
<text x="231.20" y="669.00" font-size="6.6" text-anchor="middle" fill="#222" stroke="#222" stroke-width="0.15">Direct DNA binding</text>
<text x="333.30" y="667.60" font-size="6.6" text-anchor="middle" fill="#222" stroke="#222" stroke-width="0.15">Indirect DNA binding</text>
<line x1="27.30" y1="667.70" x2="27.30" y2="673.40" stroke="#444" stroke-width="0.7"/>
<line x1="27.30" y1="673.40" x2="138.80" y2="673.40" stroke="#444" stroke-width="0.7"/>
<line x1="138.80" y1="667.70" x2="138.80" y2="673.40" stroke="#444" stroke-width="0.7"/>
<text x="86.00" y="683.00" font-size="7.4" text-anchor="middle" fill="#222" stroke="#222" stroke-width="0.15">DNA motifs</text>
<line x1="151.40" y1="666.00" x2="151.40" y2="672.60" stroke="#444" stroke-width="0.7"/>
<line x1="151.40" y1="672.60" x2="405.70" y2="672.60" stroke="#444" stroke-width="0.7"/>
<line x1="405.70" y1="666.00" x2="405.70" y2="672.60" stroke="#444" stroke-width="0.7"/>
<text x="271.00" y="683.00" font-size="7.4" text-anchor="middle" fill="#222" stroke="#222" stroke-width="0.15">ChIP-seq</text>
</svg></body></html>
